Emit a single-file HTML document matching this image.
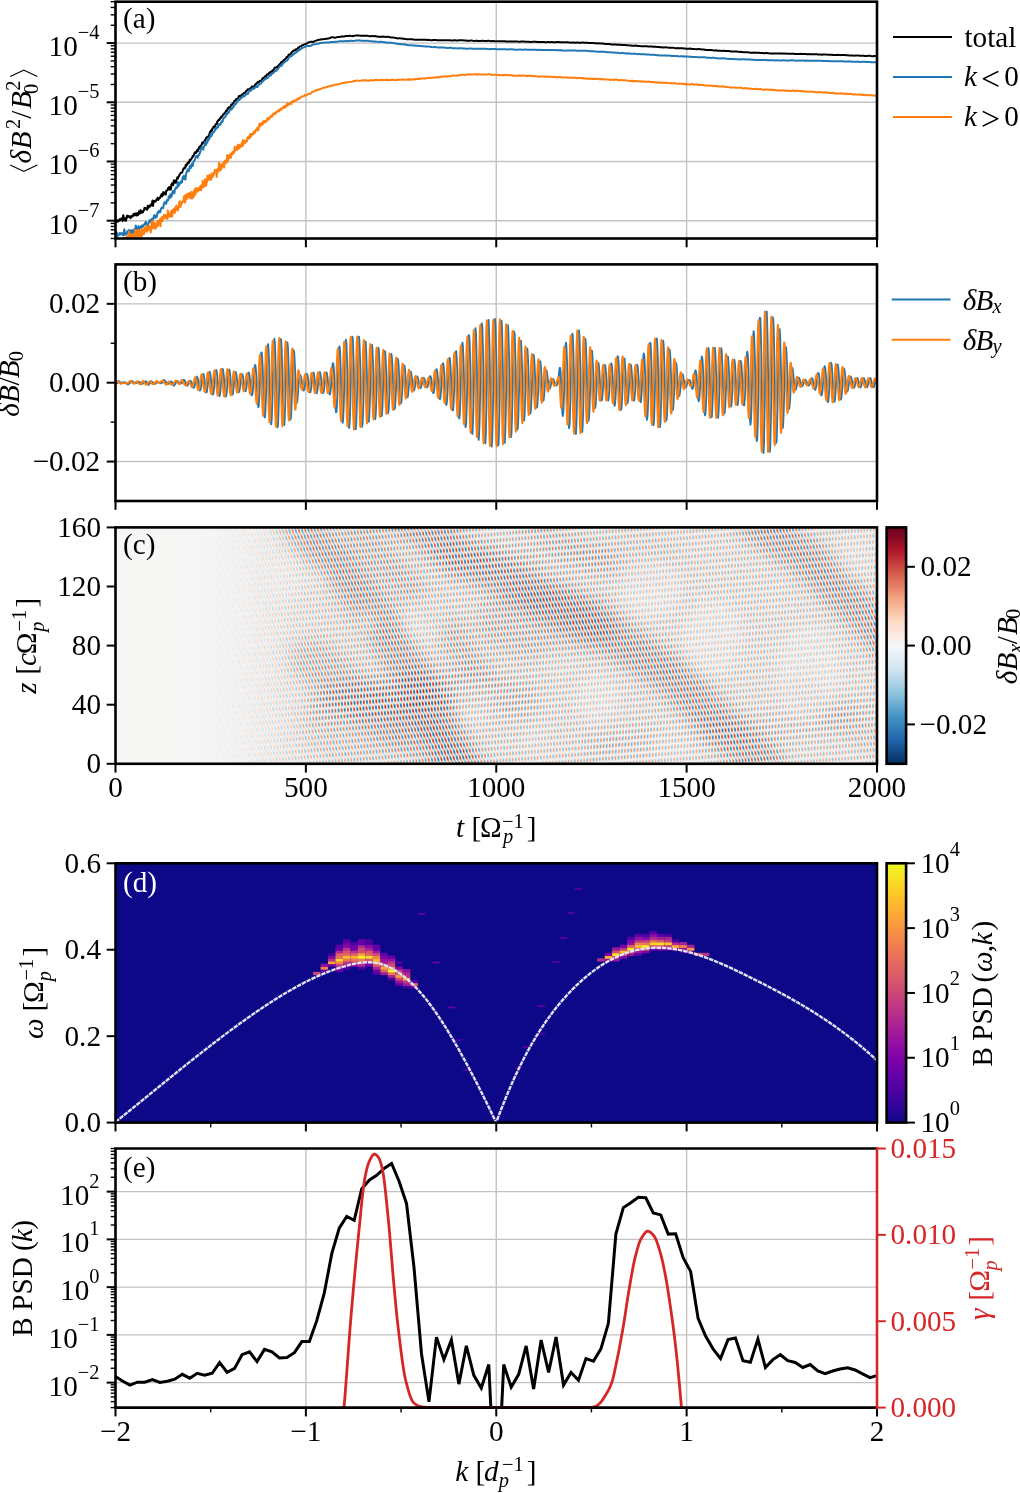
<!DOCTYPE html>
<html><head><meta charset="utf-8"><title>Figure</title>
<style>html,body{margin:0;padding:0;background:#fff;} svg{display:block;font-family:'Liberation Serif', 'DejaVu Serif', serif;}</style>
</head><body>
<svg width="1020" height="1493" viewBox="0 0 1020 1493">
<defs>
<clipPath id="clipA"><rect x="115.5" y="1.7" width="761.5" height="236.8"/></clipPath>
<clipPath id="clipB"><rect x="115.5" y="264.4" width="761.5" height="236.60000000000002"/></clipPath>
<clipPath id="clipE"><rect x="115.5" y="1148.5" width="761.5" height="259.0999999999999"/></clipPath>
</defs>
<defs><linearGradient id="wA" gradientUnits="userSpaceOnUse" x1="0" y1="0" x2="-5.3607" y2="2.4322" spreadMethod="repeat"><stop offset="0.0000" stop-color="rgb(255,0,0)"/><stop offset="0.0625" stop-color="rgb(245,0,0)"/><stop offset="0.1250" stop-color="rgb(218,0,0)"/><stop offset="0.1875" stop-color="rgb(176,0,0)"/><stop offset="0.2500" stop-color="rgb(128,0,0)"/><stop offset="0.3125" stop-color="rgb(79,0,0)"/><stop offset="0.3750" stop-color="rgb(37,0,0)"/><stop offset="0.4375" stop-color="rgb(10,0,0)"/><stop offset="0.5000" stop-color="rgb(0,0,0)"/><stop offset="0.5625" stop-color="rgb(10,0,0)"/><stop offset="0.6250" stop-color="rgb(37,0,0)"/><stop offset="0.6875" stop-color="rgb(79,0,0)"/><stop offset="0.7500" stop-color="rgb(127,0,0)"/><stop offset="0.8125" stop-color="rgb(176,0,0)"/><stop offset="0.8750" stop-color="rgb(218,0,0)"/><stop offset="0.9375" stop-color="rgb(245,0,0)"/><stop offset="1.0000" stop-color="rgb(255,0,0)"/></linearGradient>
<linearGradient id="wB" gradientUnits="userSpaceOnUse" x1="0" y1="0" x2="-4.6710" y2="-2.4711" spreadMethod="repeat"><stop offset="0.0000" stop-color="rgb(0,255,0)"/><stop offset="0.0625" stop-color="rgb(0,245,0)"/><stop offset="0.1250" stop-color="rgb(0,218,0)"/><stop offset="0.1875" stop-color="rgb(0,176,0)"/><stop offset="0.2500" stop-color="rgb(0,128,0)"/><stop offset="0.3125" stop-color="rgb(0,79,0)"/><stop offset="0.3750" stop-color="rgb(0,37,0)"/><stop offset="0.4375" stop-color="rgb(0,10,0)"/><stop offset="0.5000" stop-color="rgb(0,0,0)"/><stop offset="0.5625" stop-color="rgb(0,10,0)"/><stop offset="0.6250" stop-color="rgb(0,37,0)"/><stop offset="0.6875" stop-color="rgb(0,79,0)"/><stop offset="0.7500" stop-color="rgb(0,127,0)"/><stop offset="0.8125" stop-color="rgb(0,176,0)"/><stop offset="0.8750" stop-color="rgb(0,218,0)"/><stop offset="0.9375" stop-color="rgb(0,245,0)"/><stop offset="1.0000" stop-color="rgb(0,255,0)"/></linearGradient>
<linearGradient id="rA" gradientUnits="userSpaceOnUse" x1="115.5" y1="0" x2="877.0" y2="0"><stop offset="0.0000" stop-color="rgb(0,0,0)"/><stop offset="0.0978" stop-color="rgb(0,0,0)"/><stop offset="0.1241" stop-color="rgb(6,6,6)"/><stop offset="0.1569" stop-color="rgb(18,18,18)"/><stop offset="0.1898" stop-color="rgb(36,36,36)"/><stop offset="0.2292" stop-color="rgb(56,56,56)"/><stop offset="0.2685" stop-color="rgb(66,66,66)"/><stop offset="0.3211" stop-color="rgb(66,66,66)"/><stop offset="1.0000" stop-color="rgb(59,59,59)"/></linearGradient>
<linearGradient id="rB" gradientUnits="userSpaceOnUse" x1="115.5" y1="0" x2="877.0" y2="0"><stop offset="0.0000" stop-color="rgb(0,0,0)"/><stop offset="0.1372" stop-color="rgb(0,0,0)"/><stop offset="0.1898" stop-color="rgb(10,10,10)"/><stop offset="0.2423" stop-color="rgb(26,26,26)"/><stop offset="0.3211" stop-color="rgb(38,38,38)"/><stop offset="0.5049" stop-color="rgb(43,43,43)"/><stop offset="1.0000" stop-color="rgb(38,38,38)"/></linearGradient>
<filter id="blurH" x="-0.5" y="-0.5" width="2" height="2" color-interpolation-filters="sRGB"><feGaussianBlur stdDeviation="6"/></filter>
<filter id="blurM" x="-0.1" y="-0.3" width="1.2" height="1.6" color-interpolation-filters="sRGB"><feGaussianBlur stdDeviation="8"/></filter>
<mask id="mA" maskUnits="userSpaceOnUse" x="115.5" y="527.4" width="761.5" height="236.39999999999998">
<g filter="url(#blurM)">
<rect x="95.5" y="507.4" width="801.5" height="276.4" fill="url(#rA)"/>
<ellipse cx="545" cy="622" rx="70" ry="38" fill="#fff" fill-opacity="0.16"/>
<ellipse cx="420" cy="705" rx="40" ry="40" fill="#fff" fill-opacity="0.08"/>
<ellipse cx="640" cy="560" rx="40" ry="25" fill="#fff" fill-opacity="0.08"/>
<ellipse cx="360" cy="722" rx="60" ry="40" fill="#fff" fill-opacity="0.1"/>
<path d="M296,518 L305.6,532.4 L342.6,569.4 L373.5,612.6 L404.4,662 L429.1,705.3 L453.8,754.7 L460,772" fill="none" stroke="#fff" stroke-opacity="0.3" stroke-width="40" stroke-linecap="round" stroke-linejoin="round"/>
<path d="M400,515 L423,526 L460,557 L503,576 L546.5,600.3 L595.9,625 L633,649.7 L670,674.4 L700.9,705.3 L738,742.4 L762.7,760.9 L770,772" fill="none" stroke="#fff" stroke-opacity="0.32" stroke-width="40" stroke-linecap="round" stroke-linejoin="round"/>
<path d="M750,515 L762.7,526.2 L805.9,557 L843,594 L873.8,625 L885,640" fill="none" stroke="#fff" stroke-opacity="0.32" stroke-width="40" stroke-linecap="round" stroke-linejoin="round"/>
<path d="M310,660 L330.3,674.4 L392,723.8 L453.8,760.9 L470,772" fill="none" stroke="#fff" stroke-opacity="0.2" stroke-width="44" stroke-linecap="round" stroke-linejoin="round"/>
<path d="M345,515 L385,560 L420,600 L455,640 L480,680" fill="none" stroke="#fff" stroke-opacity="0.2" stroke-width="28" stroke-linecap="round" stroke-linejoin="round"/>
<path d="M520,518 L560,540 L600,560" fill="none" stroke="#fff" stroke-opacity="0.15" stroke-width="26" stroke-linecap="round" stroke-linejoin="round"/>
<path d="M800,690 L840,720 L880,745" fill="none" stroke="#fff" stroke-opacity="0.12" stroke-width="30" stroke-linecap="round" stroke-linejoin="round"/>
</g><g filter="url(#blurH)">
<ellipse cx="286" cy="578" rx="18" ry="22" fill="#000" fill-opacity="0.22"/>
<ellipse cx="426" cy="619" rx="22" ry="25" fill="#000" fill-opacity="0.3"/>
<ellipse cx="475" cy="699" rx="20" ry="24" fill="#000" fill-opacity="0.25"/>
<ellipse cx="651" cy="588" rx="30" ry="30" fill="#000" fill-opacity="0.3"/>
<ellipse cx="598" cy="699" rx="22" ry="24" fill="#000" fill-opacity="0.28"/>
<ellipse cx="713" cy="637" rx="30" ry="36" fill="#000" fill-opacity="0.3"/>
<ellipse cx="809" cy="674" rx="32" ry="48" fill="#000" fill-opacity="0.3"/>
<ellipse cx="673" cy="742" rx="22" ry="18" fill="#000" fill-opacity="0.25"/>
<ellipse cx="535" cy="740" rx="14" ry="16" fill="#000" fill-opacity="0.15"/>
<ellipse cx="317" cy="578" rx="10" ry="9" fill="#000" fill-opacity="0.25"/>
<ellipse cx="366" cy="622" rx="10" ry="14" fill="#000" fill-opacity="0.28"/>
<ellipse cx="560" cy="660" rx="20" ry="14" fill="#000" fill-opacity="0.15"/>
<ellipse cx="855" cy="560" rx="18" ry="20" fill="#000" fill-opacity="0.15"/>
</g></mask>
<mask id="mB" maskUnits="userSpaceOnUse" x="115.5" y="527.4" width="761.5" height="236.39999999999998">
<g filter="url(#blurM)">
<rect x="95.5" y="507.4" width="801.5" height="276.4" fill="url(#rB)"/>
<path d="M330,705 L400,695 L470,690 L520,700" fill="none" stroke="#fff" stroke-opacity="0.15" stroke-width="40" stroke-linecap="round" stroke-linejoin="round"/>
<path d="M600,745 L700,735 L800,725 L880,705" fill="none" stroke="#fff" stroke-opacity="0.1" stroke-width="30" stroke-linecap="round" stroke-linejoin="round"/>
<path d="M440,560 L520,560 L600,560" fill="none" stroke="#fff" stroke-opacity="0.08" stroke-width="30" stroke-linecap="round" stroke-linejoin="round"/>
</g><g filter="url(#blurH)">
<ellipse cx="286" cy="578" rx="18" ry="22" fill="#000" fill-opacity="0.11"/>
<ellipse cx="426" cy="619" rx="22" ry="25" fill="#000" fill-opacity="0.15"/>
<ellipse cx="475" cy="699" rx="20" ry="24" fill="#000" fill-opacity="0.125"/>
<ellipse cx="651" cy="588" rx="30" ry="30" fill="#000" fill-opacity="0.15"/>
<ellipse cx="598" cy="699" rx="22" ry="24" fill="#000" fill-opacity="0.14"/>
<ellipse cx="713" cy="637" rx="30" ry="36" fill="#000" fill-opacity="0.15"/>
<ellipse cx="809" cy="674" rx="32" ry="48" fill="#000" fill-opacity="0.15"/>
<ellipse cx="673" cy="742" rx="22" ry="18" fill="#000" fill-opacity="0.125"/>
<ellipse cx="535" cy="740" rx="14" ry="16" fill="#000" fill-opacity="0.075"/>
<ellipse cx="317" cy="578" rx="10" ry="9" fill="#000" fill-opacity="0.125"/>
<ellipse cx="366" cy="622" rx="10" ry="14" fill="#000" fill-opacity="0.14"/>
<ellipse cx="560" cy="660" rx="20" ry="14" fill="#000" fill-opacity="0.075"/>
<ellipse cx="855" cy="560" rx="18" ry="20" fill="#000" fill-opacity="0.075"/>
</g></mask>
<filter id="cmap" color-interpolation-filters="sRGB" filterUnits="userSpaceOnUse" x="115.5" y="527.4" width="761.5" height="236.39999999999998">
<feColorMatrix type="matrix" values="1 1 0 0 -0.506  1 1 0 0 -0.506  1 1 0 0 -0.506  0 0 0 0 1"/>
<feComponentTransfer><feFuncR type="table" tableValues="0.0196 0.0713 0.1273 0.1948 0.2627 0.4207 0.5665 0.6937 0.8196 0.8956 0.9691 0.9802 0.9922 0.9742 0.9546 0.8946 0.8392 0.7672 0.6923 0.5423 0.4039"/><feFuncG type="table" tableValues="0.1882 0.2879 0.3958 0.4865 0.5765 0.6764 0.7687 0.8341 0.8980 0.9340 0.9665 0.9148 0.8588 0.7509 0.6418 0.5038 0.3765 0.2325 0.0923 0.0443 0.0000"/><feFuncB type="table" tableValues="0.3804 0.5188 0.6687 0.7187 0.7647 0.8187 0.8685 0.9052 0.9412 0.9552 0.9649 0.8764 0.7804 0.6424 0.5057 0.3998 0.3020 0.2340 0.1677 0.1437 0.1216"/></feComponentTransfer>
</filter>
<linearGradient id="cbar" x1="0" y1="1" x2="0" y2="0"><stop offset="0.000" stop-color="rgb(5,48,97)"/><stop offset="0.050" stop-color="rgb(18,73,132)"/><stop offset="0.100" stop-color="rgb(32,101,171)"/><stop offset="0.150" stop-color="rgb(50,124,183)"/><stop offset="0.200" stop-color="rgb(67,147,195)"/><stop offset="0.250" stop-color="rgb(107,172,209)"/><stop offset="0.300" stop-color="rgb(144,196,221)"/><stop offset="0.350" stop-color="rgb(177,213,231)"/><stop offset="0.400" stop-color="rgb(209,229,240)"/><stop offset="0.450" stop-color="rgb(228,238,244)"/><stop offset="0.500" stop-color="rgb(247,246,246)"/><stop offset="0.550" stop-color="rgb(250,233,223)"/><stop offset="0.600" stop-color="rgb(253,219,199)"/><stop offset="0.650" stop-color="rgb(248,191,164)"/><stop offset="0.700" stop-color="rgb(243,164,129)"/><stop offset="0.750" stop-color="rgb(228,128,102)"/><stop offset="0.800" stop-color="rgb(214,96,77)"/><stop offset="0.850" stop-color="rgb(196,59,60)"/><stop offset="0.900" stop-color="rgb(177,24,43)"/><stop offset="0.950" stop-color="rgb(138,11,37)"/><stop offset="1.000" stop-color="rgb(103,0,31)"/></linearGradient></defs>
<line x1="115.5" y1="220.68" x2="877" y2="220.68" stroke="#c2c2c2" stroke-width="1.4"/>
<line x1="115.5" y1="161.48" x2="877" y2="161.48" stroke="#c2c2c2" stroke-width="1.4"/>
<line x1="115.5" y1="102.28" x2="877" y2="102.28" stroke="#c2c2c2" stroke-width="1.4"/>
<line x1="115.5" y1="43.08" x2="877" y2="43.08" stroke="#c2c2c2" stroke-width="1.4"/>
<line x1="305.88" y1="1.7" x2="305.88" y2="238.5" stroke="#c2c2c2" stroke-width="1.4"/>
<line x1="496.25" y1="1.7" x2="496.25" y2="238.5" stroke="#c2c2c2" stroke-width="1.4"/>
<line x1="686.62" y1="1.7" x2="686.62" y2="238.5" stroke="#c2c2c2" stroke-width="1.4"/>
<g clip-path="url(#clipA)" fill="none" stroke-width="2" stroke-linejoin="round">
<path d="M115.9,221.87 L116.2,222.26 L116.5,220.96 L116.8,220 L117.1,221.26 L117.4,221.36 L117.7,220.54 L118,221.06 L118.3,221.33 L118.6,220.9 L118.9,220.77 L119.2,220.4 L119.5,219.48 L119.8,219.14 L120.1,219.64 L120.4,220.29 L120.7,220 L121,218.94 L121.3,218.4 L121.6,218.79 L121.9,219.14 L122.2,219.78 L122.5,221.15 L122.8,219.51 L123.1,215.5 L123.4,215.21 L123.7,217.39 L124,218.35 L124.3,218.85 L124.6,220.2 L124.9,220.43 L125.2,218.17 L125.5,218.45 L125.8,220.72 L126.1,220.42 L126.4,218.89 L126.7,216.82 L127,215.8 L127.3,217.09 L127.6,217.19 L127.9,215.86 L128.2,215.96 L128.5,216.37 L128.8,216.11 L129.1,216.58 L129.4,217.14 L129.7,216.77 L130,216.65 L130.3,217.65 L130.6,218.18 L130.9,216.96 L131.2,216.12 L131.5,216.43 L131.8,216.59 L132.1,216.24 L132.4,215.83 L132.7,216.34 L133,215.6 L133.3,214.11 L133.6,214.57 L133.9,215.52 L134.2,215.15 L134.5,213.68 L134.8,213.45 L135.1,214.36 L135.4,214.62 L135.7,215.21 L136,214.71 L136.3,213.25 L136.6,214.45 L136.9,215.62 L137.2,214.04 L137.5,213.35 L137.8,214.4 L138.1,214.94 L138.4,214.54 L138.7,212.73 L139,211.39 L139.3,211.95 L139.6,212.87 L139.9,213.56 L140.2,212.41 L140.5,210.13 L140.8,210.58 L141.1,212.85 L141.4,212.86 L141.7,211.44 L142,211.48 L142.3,212.15 L142.6,212.45 L142.9,212.36 L143.2,211.5 L143.5,210.46 L143.8,210.6 L144.1,209.92 L144.4,207.93 L144.7,208.32 L145,208.65 L145.3,207.88 L145.6,208.25 L145.9,208.74 L146.2,209.1 L146.5,209.06 L146.8,209.47 L147.1,209.82 L147.4,208.28 L147.7,205.84 L148,206.02 L148.3,208.02 L148.6,207.22 L148.9,205.78 L149.2,205.97 L149.5,206.41 L149.8,206.7 L150.1,206.14 L150.4,205.04 L150.7,204.65 L151,204.5 L151.3,204.2 L151.6,205.49 L151.9,205.46 L152.2,201.83 L152.5,200.58 L152.8,204.28 L153.1,205.91 L153.4,202.7 L153.7,201.25 L154,202.11 L154.3,201.49 L154.6,200.92 L154.9,201.52 L155.2,201.81 L155.5,201.39 L155.8,201.13 L156.1,200.39 L156.4,199.45 L156.7,199.06 L157,198.93 L157.3,198.76 L157.6,197.8 L157.9,198.36 L158.2,200.07 L158.5,199.55 L158.8,198.77 L159.1,198.61 L159.4,197.74 L159.7,197.52 L160,197.99 L160.3,197.13 L160.6,196.28 L160.9,196.61 L161.2,195.61 L161.5,194.13 L161.8,194.04 L162.1,195.49 L162.4,196.14 L162.7,194.62 L163,193.01 L163.3,192.1 L163.6,193.37 L163.9,194.59 L164.2,193.33 L164.5,192.45 L164.8,193.12 L165.1,193.76 L165.4,194.38 L165.7,194.51 L166,192.56 L166.3,190.68 L166.6,190.46 L166.9,190.55 L167.2,190.38 L167.5,190.12 L167.8,188.95 L168.1,188.1 L168.4,188.72 L168.7,187.9 L169,187.15 L169.3,188.82 L169.6,189.75 L169.9,188.72 L170.2,186.99 L170.5,187.35 L170.8,189.44 L171.1,187.92 L171.4,184.52 L171.7,183.94 L172,183.84 L172.3,183.12 L172.6,183.4 L172.9,184.21 L173.2,185.18 L173.5,183.47 L173.8,180.51 L174.1,180.24 L174.4,181.04 L174.7,182.21 L175,182.5 L175.3,181.17 L175.6,180.82 L175.9,182.79 L176.2,182.52 L176.5,179.71 L176.8,178.66 L177.1,178.28 L177.4,177.38 L177.7,177.69 L178,178.47 L178.3,177.09 L178.6,176.33 L178.9,176.54 L179.2,175.57 L179.5,174.82 L179.8,174.52 L180.1,173.85 L180.4,172.96 L180.7,172.9 L181,173.05 L181.3,172.83 L181.6,172.57 L181.9,172.53 L182.2,172.45 L182.5,171.55 L182.8,170.48 L183.1,169.68 L183.4,168.74 L183.7,168.54 L184,168.71 L184.3,167.7 L184.6,167.39 L184.9,168.3 L185.2,168.06 L185.5,166.03 L185.8,164.8 L186.1,165.92 L186.4,165.71 L186.7,164.62 L187,164.8 L187.3,163.79 L187.6,162.83 L187.9,163.26 L188.2,163.35 L188.5,162.29 L188.8,161.96 L189.1,162.8 L189.4,161.26 L189.7,159.82 L190,160.55 L190.3,160.56 L190.6,160.01 L190.9,159.42 L191.2,159.1 L191.5,158.63 L191.8,158.1 L192.1,158.01 L192.4,157.01 L192.7,156.13 L193,156.57 L193.3,156.62 L193.6,155.47 L193.9,154.85 L194.2,154.41 L194.5,152.85 L194.8,152.51 L195.1,152.76 L195.4,152.19 L195.7,152.36 L196,152.9 L196.3,152.49 L196.6,151.03 L196.9,150.5 L197.2,149.83 L197.5,149.83 L197.8,151.36 L198.1,150.06 L198.4,148.67 L198.7,149.21 L199,147.97 L199.3,146.73 L199.6,147.71 L199.9,147.95 L200.2,146.61 L200.5,146.12 L200.8,145.84 L201.1,145.15 L201.4,145.17 L201.7,144.76 L202,143.25 L202.3,142.38 L202.6,142.37 L202.9,142.66 L203.2,143.15 L203.5,143.06 L203.8,142.55 L204.1,141.93 L204.4,140.95 L204.7,140.34 L205,141.08 L205.3,141.28 L205.6,139.57 L205.9,138.29 L206.2,137.98 L206.5,137.4 L206.8,137.02 L207.1,136.99 L207.4,137.22 L207.7,137.39 L208,136.66 L208.3,136.17 L208.6,135.86 L208.9,135.38 L209.2,135 L209.5,133.62 L209.8,132.47 L210.1,132.38 L210.4,131.82 L210.7,131.04 L211,130.53 L211.3,130.5 L211.6,131.12 L211.9,130.51 L212.2,129.07 L212.5,128.43 L212.8,128.31 L213.1,127.87 L213.4,126.97 L213.7,126.58 L214,126.56 L214.3,126.63 L214.6,127.12 L214.9,126.92 L215.2,125.95 L215.5,124.84 L215.8,124.01 L216.1,124.06 L216.4,124 L216.7,124.05 L217,123.25 L217.3,121.52 L217.6,121.05 L217.9,121.12 L218.2,120.74 L218.5,119.93 L218.8,119.66 L219.1,120.08 L219.4,119.98 L219.7,119.12 L220,118.12 L220.3,118.05 L220.6,118.34 L220.9,117.35 L221.2,116.46 L221.5,116.95 L221.8,117.19 L222.1,116.59 L222.4,115.98 L222.7,115.38 L223,114.72 L223.3,114.43 L223.6,114.25 L223.9,114.32 L224.2,113.97 L224.5,112.91 L224.8,112.46 L225.1,112.64 L225.4,112.79 L225.7,111.95 L226,110.87 L226.3,110.96 L226.6,111.56 L226.9,110.99 L227.2,109.3 L227.5,109.03 L227.8,109.25 L228.1,108.03 L228.4,107.51 L228.7,108.2 L229,108.11 L229.3,107.34 L229.6,107.07 L229.9,107.16 L230.2,107.02 L230.5,106.52 L230.8,105.83 L231.1,104.99 L231.4,104.56 L231.7,104.75 L232,104.9 L232.3,104.28 L232.6,103.52 L232.9,103.58 L233.2,103.43 L233.5,102.68 L233.8,102.09 L234.1,101.42 L234.4,100.85 L234.7,101.09 L235,100.99 L235.3,100.55 L235.6,100.25 L235.9,99.53 L236.2,99.14 L236.5,99.64 L236.8,99.68 L237.1,98.79 L237.4,98.76 L237.7,99.02 L238,98.75 L238.3,98.2 L238.6,96.82 L238.9,96.16 L239.2,96.54 L239.5,96.27 L239.8,95.76 L240.1,95.81 L240.4,96.32 L240.7,96.12 L241,95.48 L241.3,95.42 L241.6,95.12 L241.9,94.62 L242.2,94.35 L242.5,94.21 L242.8,94.2 L243.1,93.86 L243.4,93.55 L243.7,93.41 L244,92.96 L244.3,92.79 L244.6,93.03 L244.9,92.86 L245.2,92.48 L245.5,92.45 L245.8,91.95 L246.1,91.13 L246.4,90.89 L246.7,90.98 L247,90.55 L247.3,89.72 L247.6,89.37 L247.9,89.36 L248.2,89.57 L248.5,90.12 L248.8,90.28 L249.1,89.8 L249.4,89.1 L249.7,88.55 L250,88.54 L250.3,89.01 L250.6,89.22 L250.9,88.51 L251.2,87.62 L251.5,87.19 L251.8,86.76 L252.1,86.44 L252.4,86.48 L252.7,86.86 L253,87.01 L253.3,86.66 L253.6,86.68 L253.9,86.54 L254.2,86.04 L254.5,85.9 L254.8,85.41 L255.1,84.7 L255.4,84.47 L255.7,84.23 L256,83.87 L256.3,83.67 L256.6,83.63 L256.9,83.32 L257.2,82.81 L257.5,82.37 L257.8,82.07 L258.1,82.29 L258.4,82.43 L258.7,82.11 L259,81.89 L259.3,81.55 L259.6,80.97 L259.9,80.8 L260.2,81 L260.5,80.96 L260.8,80.98 L261.1,80.93 L261.4,80.31 L261.7,80.03 L262,79.83 L262.3,79 L262.6,78.2 L262.9,77.95 L263.2,78.29 L263.5,78.47 L263.8,78.08 L264.1,77.55 L264.4,77.26 L264.7,76.78 L265,76.17 L265.3,76.25 L265.6,76.1 L265.9,75.95 L266.2,76.07 L266.5,75.26 L266.8,74.49 L267.1,74.65 L267.4,74.83 L267.7,74.56 L268,74.48 L268.3,74.41 L268.6,73.78 L268.9,73.07 L269.2,73.17 L269.5,73.3 L269.8,72.53 L270.1,72.05 L270.4,72.26 L270.7,72.34 L271,72.14 L271.3,71.66 L271.6,71.23 L271.9,71.27 L272.2,70.87 L272.5,70.37 L272.8,70.88 L273.1,70.88 L273.4,69.9 L273.7,69.64 L274,69.48 L274.3,68.45 L274.6,67.7 L274.9,67.7 L275.2,67.77 L275.5,67.8 L275.8,67.85 L276.1,67.43 L276.4,66.94 L276.7,67.19 L277,67.48 L277.3,67.18 L277.6,66.6 L277.9,66.15 L278.2,65.72 L278.5,65.27 L278.8,65.08 L279.1,64.98 L279.4,64.83 L279.7,64.31 L280,63.65 L280.3,63.65 L280.6,63.51 L280.9,62.79 L281.2,62.3 L281.5,61.93 L281.8,61.75 L282.1,62.09 L282.4,62.16 L282.7,61.69 L283,61.13 L283.3,60.72 L283.6,60.33 L283.9,60.03 L284.2,60.06 L284.5,60.01 L284.8,59.51 L285.1,58.89 L285.4,58.53 L285.7,58.51 L286,58.49 L286.3,57.76 L286.6,57.02 L286.9,57.25 L287.2,57.48 L287.5,57.1 L287.8,56.61 L288.1,55.88 L288.4,55.01 L288.7,54.59 L289,54.62 L289.3,54.75 L289.6,54.77 L289.9,54.52 L290.2,54.21 L290.5,53.98 L290.8,53.52 L291.1,53.2 L291.4,53.06 L291.7,52.35 L292,51.66 L292.3,51.74 L292.6,51.59 L292.9,51.07 L293.2,51.1 L293.5,51.07 L293.8,50.59 L294.1,50.34 L294.4,50.34 L294.7,50.42 L295,50.5 L295.3,50.06 L295.6,49.38 L295.9,49.28 L296.2,49.62 L296.5,49.66 L296.8,49.23 L297.1,49 L297.4,48.9 L297.7,48.42 L298,47.82 L298.3,47.44 L298.6,47.59 L298.9,47.66 L299.2,47.13 L299.5,46.7 L299.8,46.51 L300,46.63 L301,46.18 L302,45.51 L303,45.03 L304,44.58 L305,44.19 L306,43.92 L307,43.4 L308,42.71 L309,42.2 L310,41.95 L311,41.81 L312,41.8 L313,41.95 L314,41.61 L315,40.89 L316,40.63 L317,40.44 L318,39.89 L319,39.75 L320,39.77 L321,39.42 L322,39.16 L323,39.14 L324,39.11 L325,38.97 L326,38.83 L327,38.69 L328,38.55 L329,38.39 L330,37.97 L331,37.54 L332,37.32 L333,37.29 L334,37.49 L335,37.65 L336,37.47 L337,37.13 L338,36.94 L339,36.9 L340,36.85 L341,36.67 L342,36.51 L343,36.6 L344,36.56 L345,36.23 L346,36.05 L347,35.99 L348,36.02 L349,35.87 L350,35.68 L351,35.94 L352,36.14 L353,36.02 L354,35.9 L355,35.61 L356,35.39 L357,35.51 L358,35.48 L359,35.43 L360,35.63 L361,35.67 L362,35.64 L363,35.68 L364,35.68 L365,35.7 L366,35.73 L367,35.76 L368,35.86 L369,36.05 L370,36.19 L371,36.18 L372,36.06 L373,36.12 L374,36.15 L375,35.98 L376,36.16 L377,36.52 L378,36.67 L379,36.69 L380,36.69 L381,36.72 L382,36.66 L383,36.57 L384,36.64 L385,36.81 L386,36.94 L387,36.87 L388,36.75 L389,36.92 L390,37.26 L391,37.46 L392,37.5 L393,37.47 L394,37.62 L395,37.91 L396,38.04 L397,38.24 L398,38.39 L399,38.35 L400,38.35 L401,38.42 L402,38.5 L403,38.65 L404,38.8 L405,38.95 L406,39.13 L407,39.21 L408,39.21 L409,39.24 L410,39.22 L411,39.22 L412,39.3 L413,39.42 L414,39.62 L415,39.76 L416,39.78 L417,39.74 L418,39.71 L419,39.66 L420,39.67 L421,39.8 L422,39.83 L423,39.8 L424,39.81 L425,39.78 L426,39.82 L427,39.88 L428,39.87 L429,39.93 L430,40.08 L431,40.18 L432,40.19 L433,40.09 L434,39.99 L435,39.99 L436,40.04 L437,40.19 L438,40.3 L439,40.24 L440,40.15 L441,40.17 L442,40.18 L443,40.15 L444,40.23 L445,40.28 L446,40.24 L447,40.26 L448,40.29 L449,40.25 L450,40.29 L451,40.41 L452,40.5 L453,40.51 L454,40.33 L455,40.28 L456,40.49 L457,40.55 L458,40.4 L459,40.34 L460,40.37 L461,40.37 L462,40.36 L463,40.36 L464,40.39 L465,40.41 L466,40.58 L467,40.74 L468,40.73 L469,40.7 L470,40.64 L471,40.56 L472,40.62 L473,40.78 L474,40.88 L475,40.88 L476,40.78 L477,40.77 L478,40.91 L479,41.07 L480,41.08 L481,40.89 L482,40.75 L483,40.82 L484,41.01 L485,41.02 L486,40.96 L487,40.9 L488,40.78 L489,40.87 L490,41.12 L491,41.19 L492,41.12 L493,41.11 L494,41.26 L495,41.32 L496,41.19 L497,41.17 L498,41.23 L499,41.28 L500,41.3 L501,41.26 L502,41.25 L503,41.28 L504,41.31 L505,41.34 L506,41.41 L507,41.44 L508,41.4 L509,41.44 L510,41.53 L511,41.5 L512,41.5 L513,41.58 L514,41.59 L515,41.57 L516,41.53 L517,41.5 L518,41.63 L519,41.75 L520,41.65 L521,41.54 L522,41.57 L523,41.59 L524,41.62 L525,41.64 L526,41.66 L527,41.77 L528,41.81 L529,41.83 L530,41.89 L531,41.95 L532,41.87 L533,41.73 L534,41.67 L535,41.63 L536,41.74 L537,41.93 L538,42.02 L539,42.01 L540,41.93 L541,41.92 L542,41.99 L543,42.11 L544,42.12 L545,42.16 L546,42.27 L547,42.13 L548,42 L549,42.09 L550,42.15 L551,42.1 L552,42.1 L553,42.18 L554,42.23 L555,42.31 L556,42.26 L557,42.07 L558,42 L559,42.08 L560,42.19 L561,42.25 L562,42.24 L563,42.23 L564,42.34 L565,42.38 L566,42.26 L567,42.28 L568,42.37 L569,42.38 L570,42.46 L571,42.62 L572,42.66 L573,42.56 L574,42.56 L575,42.69 L576,42.64 L577,42.52 L578,42.52 L579,42.65 L580,42.81 L581,42.78 L582,42.62 L583,42.58 L584,42.68 L585,42.68 L586,42.7 L587,42.81 L588,42.87 L589,42.99 L590,43.01 L591,42.89 L592,42.9 L593,42.96 L594,43.12 L595,43.22 L596,43.26 L597,43.39 L598,43.37 L599,43.32 L600,43.47 L601,43.57 L602,43.55 L603,43.58 L604,43.7 L605,43.88 L606,43.94 L607,43.98 L608,44.05 L609,44.03 L610,44.17 L611,44.38 L612,44.44 L613,44.5 L614,44.5 L615,44.47 L616,44.55 L617,44.65 L618,44.67 L619,44.68 L620,44.71 L621,44.78 L622,44.95 L623,45.12 L624,45.11 L625,45.08 L626,45.22 L627,45.25 L628,45.23 L629,45.38 L630,45.55 L631,45.62 L632,45.69 L633,45.77 L634,45.79 L635,45.69 L636,45.59 L637,45.72 L638,45.89 L639,45.97 L640,46.09 L641,46.17 L642,46.25 L643,46.31 L644,46.28 L645,46.32 L646,46.33 L647,46.36 L648,46.46 L649,46.54 L650,46.58 L651,46.58 L652,46.61 L653,46.67 L654,46.73 L655,46.77 L656,46.83 L657,46.93 L658,46.91 L659,46.99 L660,47.21 L661,47.33 L662,47.35 L663,47.45 L664,47.51 L665,47.37 L666,47.31 L667,47.45 L668,47.62 L669,47.74 L670,47.83 L671,47.86 L672,47.78 L673,47.73 L674,47.88 L675,48.14 L676,48.21 L677,48.14 L678,48.11 L679,48.14 L680,48.19 L681,48.15 L682,48.13 L683,48.28 L684,48.43 L685,48.53 L686,48.63 L687,48.7 L688,48.74 L689,48.69 L690,48.57 L691,48.72 L692,48.95 L693,48.92 L694,48.98 L695,49.09 L696,49.13 L697,49.17 L698,49.1 L699,49.05 L700,49.13 L701,49.26 L702,49.43 L703,49.56 L704,49.61 L705,49.73 L706,49.92 L707,49.92 L708,49.9 L709,49.98 L710,49.99 L711,50.02 L712,50.16 L713,50.31 L714,50.4 L715,50.42 L716,50.36 L717,50.46 L718,50.65 L719,50.68 L720,50.72 L721,50.86 L722,50.88 L723,50.78 L724,50.8 L725,50.91 L726,50.9 L727,50.89 L728,50.94 L729,51 L730,51.22 L731,51.44 L732,51.44 L733,51.45 L734,51.54 L735,51.52 L736,51.49 L737,51.56 L738,51.68 L739,51.86 L740,51.89 L741,51.8 L742,51.92 L743,52.13 L744,52.2 L745,52.17 L746,52.18 L747,52.25 L748,52.27 L749,52.41 L750,52.65 L751,52.74 L752,52.71 L753,52.67 L754,52.62 L755,52.69 L756,52.83 L757,52.84 L758,52.77 L759,52.77 L760,52.91 L761,53 L762,52.95 L763,53.04 L764,53.21 L765,53.2 L766,53.11 L767,53.08 L768,53.13 L769,53.29 L770,53.39 L771,53.42 L772,53.45 L773,53.38 L774,53.4 L775,53.5 L776,53.46 L777,53.42 L778,53.5 L779,53.51 L780,53.44 L781,53.49 L782,53.57 L783,53.62 L784,53.66 L785,53.62 L786,53.62 L787,53.7 L788,53.75 L789,53.79 L790,53.81 L791,53.79 L792,53.79 L793,53.75 L794,53.76 L795,53.91 L796,54.04 L797,53.98 L798,53.92 L799,53.96 L800,53.9 L801,53.87 L802,53.95 L803,54.03 L804,54.05 L805,54.03 L806,54.08 L807,54.15 L808,54.14 L809,54.1 L810,54.13 L811,54.23 L812,54.28 L813,54.27 L814,54.26 L815,54.24 L816,54.25 L817,54.36 L818,54.46 L819,54.5 L820,54.54 L821,54.6 L822,54.64 L823,54.53 L824,54.46 L825,54.58 L826,54.62 L827,54.62 L828,54.74 L829,54.82 L830,54.82 L831,54.81 L832,54.86 L833,54.98 L834,55.04 L835,54.96 L836,54.96 L837,54.97 L838,54.85 L839,54.96 L840,55.14 L841,55.1 L842,55.1 L843,55.11 L844,55.04 L845,55.02 L846,55.16 L847,55.28 L848,55.29 L849,55.38 L850,55.54 L851,55.59 L852,55.56 L853,55.62 L854,55.64 L855,55.5 L856,55.5 L857,55.62 L858,55.58 L859,55.62 L860,55.81 L861,55.83 L862,55.75 L863,55.75 L864,55.86 L865,56.05 L866,56.07 L867,55.91 L868,55.84 L869,55.79 L870,55.85 L871,56.04 L872,56.2 L873,56.17 L874,56.06 L875,56.07 L876,56.13" stroke="#000"/>
<path d="M115.9,234.61 L116.2,233.89 L116.5,232.31 L116.8,232.46 L117.1,235.98 L117.4,236.84 L117.7,235.27 L118,235.37 L118.3,234.88 L118.6,234.45 L118.9,234.98 L119.2,234.28 L119.5,233.14 L119.8,233.27 L120.1,234.12 L120.4,234.54 L120.7,234.23 L121,233.61 L121.3,233.12 L121.6,233.32 L121.9,234.35 L122.2,234.63 L122.5,234.39 L122.8,233.64 L123.1,232.99 L123.4,235.01 L123.7,235.34 L124,231.48 L124.3,229.19 L124.6,230.76 L124.9,233.25 L125.2,234.31 L125.5,234.74 L125.8,234.5 L126.1,233.62 L126.4,233.05 L126.7,233.09 L127,232.78 L127.3,231.34 L127.6,231.31 L127.9,233.41 L128.2,234.06 L128.5,231.62 L128.8,229.91 L129.1,231.19 L129.4,232.55 L129.7,232.88 L130,232.01 L130.3,230.81 L130.6,232.36 L130.9,232.48 L131.2,230.31 L131.5,231.26 L131.8,232.71 L132.1,232.43 L132.4,233.57 L132.7,234.4 L133,232.24 L133.3,229.9 L133.6,229.71 L133.9,230.49 L134.2,230.22 L134.5,229.65 L134.8,230.07 L135.1,229.87 L135.4,227.84 L135.7,225.58 L136,226.27 L136.3,229.28 L136.6,230.84 L136.9,230.84 L137.2,229.3 L137.5,228.1 L137.8,228.65 L138.1,227.86 L138.4,226.2 L138.7,227.38 L139,229.79 L139.3,229.58 L139.6,228.25 L139.9,227.06 L140.2,226.95 L140.5,227.85 L140.8,227.06 L141.1,225.91 L141.4,225.65 L141.7,225.6 L142,226.85 L142.3,227.3 L142.6,226.7 L142.9,226.82 L143.2,225.99 L143.5,224.96 L143.8,224.47 L144.1,224.6 L144.4,224.83 L144.7,224.08 L145,223.31 L145.3,222.91 L145.6,222.12 L145.9,221.74 L146.2,223.06 L146.5,224.73 L146.8,225.38 L147.1,226.25 L147.4,226.77 L147.7,224.64 L148,223.62 L148.3,223.98 L148.6,222.88 L148.9,222.18 L149.2,221.65 L149.5,220.46 L149.8,219.95 L150.1,221.11 L150.4,220.83 L150.7,220.56 L151,222.42 L151.3,222.22 L151.6,220.09 L151.9,218.87 L152.2,218.89 L152.5,219.41 L152.8,220.14 L153.1,219.6 L153.4,217.68 L153.7,216.67 L154,215.98 L154.3,215.16 L154.6,215.56 L154.9,216.74 L155.2,218.01 L155.5,217.64 L155.8,215.98 L156.1,215.41 L156.4,216.19 L156.7,216.99 L157,215.96 L157.3,214.17 L157.6,212.54 L157.9,212.09 L158.2,212.66 L158.5,212.66 L158.8,211.71 L159.1,210.85 L159.4,211.06 L159.7,211.7 L160,212.31 L160.3,211.92 L160.6,210.51 L160.9,209.08 L161.2,208.58 L161.5,207.93 L161.8,207.52 L162.1,207.74 L162.4,207.55 L162.7,207.89 L163,208.31 L163.3,207.61 L163.6,205.51 L163.9,203.47 L164.2,203.29 L164.5,202.76 L164.8,202.11 L165.1,203.31 L165.4,203.38 L165.7,203.04 L166,203.82 L166.3,203.49 L166.6,201.65 L166.9,200.28 L167.2,200.68 L167.5,200.33 L167.8,199.6 L168.1,200.39 L168.4,199.02 L168.7,196.62 L169,196.38 L169.3,196.96 L169.6,198.33 L169.9,197.81 L170.2,195.11 L170.5,194.41 L170.8,195.06 L171.1,195.84 L171.4,196.82 L171.7,195.92 L172,194.36 L172.3,192.83 L172.6,191.24 L172.9,192.35 L173.2,193.32 L173.5,191.71 L173.8,190.81 L174.1,192.36 L174.4,193.27 L174.7,190.87 L175,189.39 L175.3,189.25 L175.6,187.85 L175.9,187.63 L176.2,188.21 L176.5,187.88 L176.8,187.53 L177.1,188 L177.4,186.49 L177.7,183.01 L178,182.09 L178.3,184.37 L178.6,186.08 L178.9,185.21 L179.2,183.88 L179.5,183.64 L179.8,183.96 L180.1,183.64 L180.4,182.18 L180.7,181.51 L181,182.95 L181.3,182.46 L181.6,181.17 L181.9,182.42 L182.2,181.58 L182.5,178.13 L182.8,176.9 L183.1,178.5 L183.4,178.76 L183.7,176.35 L184,175.6 L184.3,176.79 L184.6,176.16 L184.9,176.75 L185.2,179.61 L185.5,179.56 L185.8,176.7 L186.1,174.72 L186.4,173.14 L186.7,171.45 L187,171.55 L187.3,171.18 L187.6,169.58 L187.9,169.67 L188.2,171.06 L188.5,171.3 L188.8,171.05 L189.1,170.46 L189.4,168.4 L189.7,166.38 L190,165.91 L190.3,167.22 L190.6,168.14 L190.9,167.7 L191.2,166.63 L191.5,165.07 L191.8,164.24 L192.1,163.57 L192.4,164.02 L192.7,165.9 L193,165.15 L193.3,162.54 L193.6,161.6 L193.9,161.13 L194.2,160.55 L194.5,160.38 L194.8,159.57 L195.1,158.82 L195.4,158.41 L195.7,157.72 L196,156.57 L196.3,155.74 L196.6,155.86 L196.9,156.13 L197.2,156.32 L197.5,157.06 L197.8,157.79 L198.1,156.82 L198.4,155.47 L198.7,154.75 L199,154.4 L199.3,154.83 L199.6,153.63 L199.9,151.95 L200.2,152.56 L200.5,151.5 L200.8,148.75 L201.1,148.58 L201.4,148.57 L201.7,147.3 L202,147.01 L202.3,147.68 L202.6,148.46 L202.9,149.47 L203.2,149.62 L203.5,148.18 L203.8,147.27 L204.1,146.62 L204.4,145.22 L204.7,143.28 L205,142.05 L205.3,142.91 L205.6,144.6 L205.9,145.07 L206.2,144.08 L206.5,142.55 L206.8,141.93 L207.1,142.82 L207.4,142.42 L207.7,140.54 L208,139.33 L208.3,139.33 L208.6,140.09 L208.9,139.58 L209.2,138.51 L209.5,138.3 L209.8,137.75 L210.1,136.32 L210.4,134.88 L210.7,133.91 L211,133.99 L211.3,135.83 L211.6,136.11 L211.9,134.03 L212.2,133.62 L212.5,133.59 L212.8,132.66 L213.1,132.12 L213.4,132.05 L213.7,132.21 L214,131.57 L214.3,131.23 L214.6,131.1 L214.9,129.57 L215.2,128.21 L215.5,128.72 L215.8,129.42 L216.1,128.98 L216.4,128.02 L216.7,127.23 L217,127.45 L217.3,127.67 L217.6,127.65 L217.9,127.58 L218.2,126.04 L218.5,124.11 L218.8,123.99 L219.1,124.91 L219.4,125.01 L219.7,124.74 L220,124.74 L220.3,124.82 L220.6,124.02 L220.9,122.6 L221.2,122.37 L221.5,121.96 L221.8,121.19 L222.1,121.73 L222.4,121.99 L222.7,120.98 L223,119.9 L223.3,118.99 L223.6,118.22 L223.9,117.92 L224.2,117.71 L224.5,117.36 L224.8,117.06 L225.1,117.25 L225.4,116.88 L225.7,115.9 L226,115.21 L226.3,113.66 L226.6,112.9 L226.9,113.74 L227.2,114.17 L227.5,113.45 L227.8,112.41 L228.1,112.39 L228.4,112.92 L228.7,112.84 L229,112.16 L229.3,111.3 L229.6,110.45 L229.9,110.01 L230.2,110.04 L230.5,109.75 L230.8,108.77 L231.1,108.4 L231.4,109.21 L231.7,109.52 L232,108.67 L232.3,107.67 L232.6,107.32 L232.9,107.42 L233.2,107.48 L233.5,107.24 L233.8,106.08 L234.1,104.73 L234.4,104.13 L234.7,103.58 L235,103.67 L235.3,104.51 L235.6,104.06 L235.9,103.31 L236.2,103.65 L236.5,102.99 L236.8,101.97 L237.1,101.93 L237.4,101.55 L237.7,100.44 L238,99.87 L238.3,100.39 L238.6,100 L238.9,99.09 L239.2,99.72 L239.5,100.02 L239.8,99.34 L240.1,98.98 L240.4,98.52 L240.7,97.99 L241,98.27 L241.3,98.29 L241.6,97.46 L241.9,97.34 L242.2,97.26 L242.5,96.61 L242.8,96.03 L243.1,95.51 L243.4,95.52 L243.7,95.93 L244,95.76 L244.3,95.97 L244.6,96.49 L244.9,95.61 L245.2,94.73 L245.5,94.46 L245.8,94.47 L246.1,94.6 L246.4,94.36 L246.7,94.53 L247,94.12 L247.3,93.29 L247.6,93.14 L247.9,93.42 L248.2,93.66 L248.5,92.63 L248.8,91.17 L249.1,90.51 L249.4,90.53 L249.7,90.7 L250,90.4 L250.3,90.1 L250.6,90.2 L250.9,90.71 L251.2,90.65 L251.5,89.62 L251.8,89.12 L252.1,88.86 L252.4,88.35 L252.7,88.21 L253,88.58 L253.3,88.97 L253.6,88.63 L253.9,88.31 L254.2,88.45 L254.5,88.22 L254.8,87.84 L255.1,87.5 L255.4,87.2 L255.7,87.31 L256,87.14 L256.3,86.32 L256.6,86.14 L256.9,86.61 L257.2,86.99 L257.5,86.92 L257.8,86.05 L258.1,85.39 L258.4,85.07 L258.7,84.97 L259,84.77 L259.3,84.11 L259.6,83.88 L259.9,83.88 L260.2,83.77 L260.5,83.81 L260.8,83.8 L261.1,83.45 L261.4,82.8 L261.7,82.04 L262,81.43 L262.3,81.24 L262.6,81.4 L262.9,81.47 L263.2,80.88 L263.5,80.45 L263.8,80.49 L264.1,80.06 L264.4,79.66 L264.7,79.77 L265,79.34 L265.3,78.36 L265.6,78.31 L265.9,78.71 L266.2,78.42 L266.5,77.94 L266.8,78.09 L267.1,78.28 L267.4,77.92 L267.7,77.78 L268,77.55 L268.3,77.02 L268.6,76.71 L268.9,76.26 L269.2,75.7 L269.5,75.6 L269.8,75.75 L270.1,75.37 L270.4,74.73 L270.7,74.78 L271,75.28 L271.3,75.02 L271.6,74.16 L271.9,73.41 L272.2,73.09 L272.5,73.32 L272.8,73.09 L273.1,72.69 L273.4,72.97 L273.7,72.72 L274,71.87 L274.3,71.48 L274.6,71.43 L274.9,71.35 L275.2,70.83 L275.5,70.54 L275.8,70.88 L276.1,70.91 L276.4,70.76 L276.7,70.41 L277,69.75 L277.3,69.49 L277.6,69.44 L277.9,69.09 L278.2,68.44 L278.5,67.98 L278.8,67.7 L279.1,67.3 L279.4,66.73 L279.7,66.36 L280,66.33 L280.3,66.1 L280.6,65.86 L280.9,65.86 L281.2,65.99 L281.5,65.98 L281.8,65.17 L282.1,64.36 L282.4,64.18 L282.7,64.05 L283,63.78 L283.3,63.31 L283.6,62.88 L283.9,62.62 L284.2,62.15 L284.5,61.66 L284.8,61.62 L285.1,61.85 L285.4,61.78 L285.7,61.23 L286,60.84 L286.3,60.8 L286.6,60.77 L286.9,60.62 L287.2,60.12 L287.5,59.71 L287.8,59.74 L288.1,59.42 L288.4,58.71 L288.7,58.09 L289,57.59 L289.3,57.35 L289.6,57.2 L289.9,57.01 L290.2,56.8 L290.5,56.59 L290.8,56.46 L291.1,56.33 L291.4,55.98 L291.7,55.41 L292,55.2 L292.3,55.51 L292.6,55.39 L292.9,54.84 L293.2,54.37 L293.5,53.76 L293.8,53.44 L294.1,53.73 L294.4,53.77 L294.7,53.19 L295,53.01 L295.3,52.97 L295.6,52.52 L295.9,52.46 L296.2,52.41 L296.5,52.06 L296.8,52.12 L297.1,52.06 L297.4,51.37 L297.7,50.93 L298,50.77 L298.3,50.4 L298.6,50.32 L298.9,50.51 L299.2,50.11 L299.5,49.46 L299.8,49.39 L300,49.59 L301,48.87 L302,48.03 L303,47.6 L304,47.33 L305,46.96 L306,46.4 L307,46.02 L308,46.07 L309,45.99 L310,45.97 L311,45.79 L312,44.97 L313,44.46 L314,44.45 L315,44.22 L316,43.83 L317,43.78 L318,43.86 L319,43.47 L320,43.04 L321,42.92 L322,42.86 L323,42.85 L324,42.69 L325,42.55 L326,42.56 L327,42.49 L328,42.56 L329,42.52 L330,42.17 L331,41.96 L332,42.04 L333,42.06 L334,41.9 L335,41.76 L336,41.7 L337,41.69 L338,41.59 L339,41.36 L340,41.27 L341,41.26 L342,41.19 L343,41.23 L344,41.25 L345,41.09 L346,40.9 L347,40.96 L348,41.2 L349,41.06 L350,40.68 L351,40.72 L352,41.06 L353,41.06 L354,40.88 L355,40.71 L356,40.5 L357,40.56 L358,40.58 L359,40.35 L360,40.43 L361,40.75 L362,40.8 L363,40.69 L364,40.82 L365,40.96 L366,40.78 L367,40.68 L368,40.82 L369,41.03 L370,41.21 L371,41.2 L372,41.28 L373,41.51 L374,41.5 L375,41.54 L376,41.71 L377,41.78 L378,41.83 L379,41.89 L380,41.85 L381,41.82 L382,41.96 L383,42.11 L384,42.21 L385,42.29 L386,42.43 L387,42.69 L388,42.72 L389,42.58 L390,42.69 L391,42.75 L392,42.8 L393,43.06 L394,43.23 L395,43.32 L396,43.5 L397,43.77 L398,43.93 L399,44 L400,44.08 L401,44.17 L402,44.24 L403,44.34 L404,44.45 L405,44.59 L406,44.78 L407,44.96 L408,45.09 L409,45.31 L410,45.38 L411,45.24 L412,45.3 L413,45.44 L414,45.48 L415,45.56 L416,45.71 L417,45.81 L418,45.86 L419,45.93 L420,45.92 L421,45.98 L422,46.2 L423,46.27 L424,46.29 L425,46.39 L426,46.37 L427,46.4 L428,46.56 L429,46.6 L430,46.69 L431,46.9 L432,47.07 L433,47.13 L434,47.07 L435,47.03 L436,47.14 L437,47.37 L438,47.5 L439,47.44 L440,47.41 L441,47.5 L442,47.51 L443,47.51 L444,47.61 L445,47.73 L446,47.82 L447,47.93 L448,48 L449,47.89 L450,47.69 L451,47.75 L452,47.97 L453,48.16 L454,48.29 L455,48.24 L456,48.22 L457,48.35 L458,48.39 L459,48.36 L460,48.33 L461,48.27 L462,48.34 L463,48.45 L464,48.45 L465,48.55 L466,48.66 L467,48.69 L468,48.72 L469,48.61 L470,48.44 L471,48.47 L472,48.63 L473,48.71 L474,48.64 L475,48.63 L476,48.76 L477,48.82 L478,48.69 L479,48.68 L480,48.75 L481,48.73 L482,48.8 L483,48.81 L484,48.75 L485,48.79 L486,48.86 L487,48.96 L488,49.08 L489,49.14 L490,49.08 L491,49.02 L492,49.01 L493,49.09 L494,49.09 L495,49.02 L496,49.08 L497,49.13 L498,49.16 L499,49.24 L500,49.29 L501,49.26 L502,49.23 L503,49.27 L504,49.28 L505,49.29 L506,49.36 L507,49.42 L508,49.4 L509,49.33 L510,49.28 L511,49.26 L512,49.29 L513,49.38 L514,49.46 L515,49.66 L516,49.77 L517,49.65 L518,49.63 L519,49.6 L520,49.49 L521,49.5 L522,49.65 L523,49.75 L524,49.64 L525,49.48 L526,49.49 L527,49.66 L528,49.8 L529,49.79 L530,49.8 L531,49.83 L532,49.77 L533,49.74 L534,49.69 L535,49.66 L536,49.79 L537,49.92 L538,49.89 L539,49.77 L540,49.8 L541,49.95 L542,50.03 L543,50.01 L544,49.93 L545,49.91 L546,49.94 L547,49.97 L548,50.01 L549,50.1 L550,50.18 L551,50.09 L552,50 L553,50.12 L554,50.15 L555,50.04 L556,50.04 L557,50.17 L558,50.23 L559,50.14 L560,50.1 L561,50.22 L562,50.41 L563,50.46 L564,50.42 L565,50.57 L566,50.63 L567,50.56 L568,50.57 L569,50.56 L570,50.52 L571,50.47 L572,50.45 L573,50.39 L574,50.38 L575,50.48 L576,50.58 L577,50.72 L578,50.79 L579,50.74 L580,50.74 L581,50.71 L582,50.67 L583,50.77 L584,50.86 L585,50.83 L586,50.74 L587,50.73 L588,50.9 L589,51.1 L590,51.24 L591,51.32 L592,51.34 L593,51.35 L594,51.37 L595,51.38 L596,51.46 L597,51.65 L598,51.76 L599,51.63 L600,51.58 L601,51.71 L602,51.74 L603,51.76 L604,51.82 L605,51.92 L606,52.11 L607,52.17 L608,52.13 L609,52.19 L610,52.29 L611,52.38 L612,52.4 L613,52.4 L614,52.47 L615,52.59 L616,52.68 L617,52.71 L618,52.82 L619,53.04 L620,53.22 L621,53.08 L622,52.86 L623,52.97 L624,53.17 L625,53.34 L626,53.5 L627,53.41 L628,53.29 L629,53.43 L630,53.59 L631,53.71 L632,53.75 L633,53.74 L634,53.76 L635,53.75 L636,53.85 L637,54.08 L638,54.19 L639,54.03 L640,53.99 L641,54.14 L642,54.28 L643,54.37 L644,54.32 L645,54.36 L646,54.53 L647,54.62 L648,54.6 L649,54.62 L650,54.74 L651,54.8 L652,54.8 L653,54.74 L654,54.73 L655,54.89 L656,55.09 L657,55.22 L658,55.25 L659,55.28 L660,55.45 L661,55.54 L662,55.46 L663,55.46 L664,55.5 L665,55.5 L666,55.57 L667,55.63 L668,55.55 L669,55.55 L670,55.65 L671,55.75 L672,55.92 L673,56 L674,55.98 L675,56.03 L676,56.05 L677,56.1 L678,56.25 L679,56.38 L680,56.32 L681,56.22 L682,56.31 L683,56.42 L684,56.37 L685,56.4 L686,56.42 L687,56.38 L688,56.57 L689,56.79 L690,56.79 L691,56.78 L692,56.9 L693,57.07 L694,57.12 L695,57.02 L696,57 L697,57.1 L698,57.16 L699,57.21 L700,57.24 L701,57.19 L702,57.19 L703,57.26 L704,57.3 L705,57.36 L706,57.51 L707,57.69 L708,57.73 L709,57.7 L710,57.8 L711,57.92 L712,57.85 L713,57.72 L714,57.79 L715,58.06 L716,58.22 L717,58.17 L718,58.19 L719,58.38 L720,58.46 L721,58.4 L722,58.31 L723,58.32 L724,58.43 L725,58.49 L726,58.63 L727,58.75 L728,58.81 L729,58.88 L730,58.87 L731,58.93 L732,59.01 L733,58.99 L734,59.03 L735,59.15 L736,59.17 L737,59.14 L738,59.17 L739,59.33 L740,59.47 L741,59.41 L742,59.3 L743,59.26 L744,59.23 L745,59.29 L746,59.47 L747,59.54 L748,59.47 L749,59.47 L750,59.58 L751,59.61 L752,59.64 L753,59.77 L754,59.86 L755,59.9 L756,59.94 L757,59.97 L758,60.01 L759,59.99 L760,60.06 L761,60.12 L762,60.11 L763,60.08 L764,59.99 L765,59.98 L766,60.08 L767,60.17 L768,60.26 L769,60.31 L770,60.35 L771,60.36 L772,60.35 L773,60.34 L774,60.31 L775,60.4 L776,60.46 L777,60.33 L778,60.36 L779,60.51 L780,60.56 L781,60.6 L782,60.5 L783,60.36 L784,60.33 L785,60.39 L786,60.56 L787,60.63 L788,60.54 L789,60.51 L790,60.44 L791,60.36 L792,60.36 L793,60.36 L794,60.43 L795,60.57 L796,60.68 L797,60.68 L798,60.61 L799,60.6 L800,60.66 L801,60.55 L802,60.37 L803,60.48 L804,60.63 L805,60.6 L806,60.68 L807,60.68 L808,60.57 L809,60.63 L810,60.74 L811,60.69 L812,60.64 L813,60.71 L814,60.79 L815,60.86 L816,60.87 L817,60.82 L818,60.82 L819,60.79 L820,60.74 L821,60.74 L822,60.87 L823,61 L824,61 L825,60.96 L826,60.92 L827,60.98 L828,61.02 L829,61.05 L830,61.18 L831,61.26 L832,61.34 L833,61.31 L834,61.2 L835,61.23 L836,61.27 L837,61.3 L838,61.3 L839,61.22 L840,61.19 L841,61.19 L842,61.19 L843,61.28 L844,61.39 L845,61.43 L846,61.43 L847,61.45 L848,61.43 L849,61.34 L850,61.39 L851,61.53 L852,61.65 L853,61.72 L854,61.71 L855,61.72 L856,61.71 L857,61.66 L858,61.61 L859,61.66 L860,61.9 L861,61.99 L862,61.82 L863,61.69 L864,61.63 L865,61.72 L866,61.9 L867,61.92 L868,61.87 L869,61.92 L870,62.03 L871,62.16 L872,62.21 L873,62.19 L874,62.21 L875,62.16 L876,62.11" stroke="#1f77b4"/>
<path d="M118,247.74 L118.3,239.06 L118.6,244.28 L118.9,242.22 L119.2,242.2 L119.5,242.4 L119.8,238.81 L120.1,241.9 L120.4,240.49 L120.7,248.07 L121,242.07 L121.3,240.76 L121.6,240.68 L121.9,239.73 L122.2,238.79 L122.5,239.83 L122.8,241.27 L123.1,239.7 L123.4,241.77 L123.7,239.38 L124,239.61 L124.3,242.32 L124.6,240.23 L124.9,238.04 L125.2,238.49 L125.5,239.7 L125.8,242.22 L126.1,237.82 L126.4,237.71 L126.7,239.96 L127,236.16 L127.3,237.17 L127.6,239.32 L127.9,238.6 L128.2,237.52 L128.5,238.53 L128.8,231.56 L129.1,238.99 L129.4,234.99 L129.7,233.49 L130,237.21 L130.3,237.95 L130.6,235.59 L130.9,234.24 L131.2,236.34 L131.5,236.09 L131.8,238.91 L132.1,237.51 L132.4,236.32 L132.7,238.07 L133,235.35 L133.3,233.82 L133.6,236.77 L133.9,236.69 L134.2,235 L134.5,233.76 L134.8,235.73 L135.1,230.12 L135.4,236.5 L135.7,236.01 L136,231.57 L136.3,234.95 L136.6,232.76 L136.9,236.19 L137.2,230.36 L137.5,232.55 L137.8,235.79 L138.1,236.6 L138.4,229.64 L138.7,232.96 L139,234.55 L139.3,232.48 L139.6,236.92 L139.9,230.99 L140.2,234.07 L140.5,230.99 L140.8,235.98 L141.1,232.83 L141.4,231.93 L141.7,228.93 L142,235.92 L142.3,233.79 L142.6,233.61 L142.9,234.25 L143.2,232.39 L143.5,230.11 L143.8,229.57 L144.1,229.38 L144.4,233.82 L144.7,227.57 L145,229.22 L145.3,229.61 L145.6,230.59 L145.9,231.14 L146.2,227.01 L146.5,225.77 L146.8,229.3 L147.1,231.75 L147.4,230.57 L147.7,229.2 L148,227.85 L148.3,228.99 L148.6,227.63 L148.9,229.77 L149.2,226.06 L149.5,227.92 L149.8,227.2 L150.1,228.47 L150.4,227.59 L150.7,232.53 L151,230.05 L151.3,229.88 L151.6,221.93 L151.9,225.5 L152.2,224.74 L152.5,227.08 L152.8,220.72 L153.1,228.15 L153.4,227.75 L153.7,222.37 L154,222.91 L154.3,223.13 L154.6,224.82 L154.9,225.96 L155.2,228.88 L155.5,223.76 L155.8,225.71 L156.1,224.19 L156.4,227.54 L156.7,225.11 L157,226.31 L157.3,220.74 L157.6,222.5 L157.9,220.94 L158.2,225.85 L158.5,223.78 L158.8,221.46 L159.1,220.94 L159.4,222.79 L159.7,219.97 L160,219.25 L160.3,222.13 L160.6,226.27 L160.9,220.08 L161.2,219.17 L161.5,217.58 L161.8,216.98 L162.1,220.83 L162.4,221.31 L162.7,219.21 L163,219.68 L163.3,218.95 L163.6,218.75 L163.9,214.84 L164.2,216.94 L164.5,217.94 L164.8,215.71 L165.1,216.13 L165.4,215.13 L165.7,215.94 L166,218.3 L166.3,215.27 L166.6,215.58 L166.9,217.45 L167.2,216.83 L167.5,218.89 L167.8,210.31 L168.1,216.55 L168.4,213.36 L168.7,214.48 L169,215.78 L169.3,216.09 L169.6,215.75 L169.9,213.57 L170.2,216.54 L170.5,212.14 L170.8,212.22 L171.1,214.06 L171.4,210.86 L171.7,216.59 L172,213.85 L172.3,216.17 L172.6,211.09 L172.9,210.08 L173.2,211.06 L173.5,212.07 L173.8,208.93 L174.1,210.83 L174.4,209.72 L174.7,213.08 L175,207.83 L175.3,211.36 L175.6,207.4 L175.9,206.46 L176.2,206.77 L176.5,205.47 L176.8,208.16 L177.1,209.86 L177.4,207.7 L177.7,208.46 L178,210.42 L178.3,207.16 L178.6,206.73 L178.9,205.43 L179.2,202.22 L179.5,207.15 L179.8,201.33 L180.1,206.34 L180.4,204.58 L180.7,206.79 L181,203.86 L181.3,201.89 L181.6,204.18 L181.9,201.85 L182.2,202.38 L182.5,202.55 L182.8,201.85 L183.1,201.41 L183.4,199.68 L183.7,200.78 L184,196.18 L184.3,200.22 L184.6,197.61 L184.9,202.4 L185.2,202.42 L185.5,195.02 L185.8,199.33 L186.1,198.42 L186.4,196.1 L186.7,199.27 L187,196.79 L187.3,193.63 L187.6,196.65 L187.9,196.63 L188.2,196.91 L188.5,193.7 L188.8,197.5 L189.1,197.5 L189.4,193.11 L189.7,193.92 L190,194.95 L190.3,193.63 L190.6,198.46 L190.9,194.84 L191.2,191.92 L191.5,192.17 L191.8,193.54 L192.1,198.48 L192.4,192.8 L192.7,193.24 L193,193.86 L193.3,192.41 L193.6,197.28 L193.9,190.86 L194.2,193.44 L194.5,191.92 L194.8,192.7 L195.1,188.52 L195.4,194.76 L195.7,190.37 L196,190.47 L196.3,188.1 L196.6,188.31 L196.9,190.92 L197.2,191.6 L197.5,190.84 L197.8,191.6 L198.1,190.26 L198.4,188.49 L198.7,190.01 L199,189.22 L199.3,187.44 L199.6,189 L199.9,189.97 L200.2,187.4 L200.5,185.84 L200.8,187.93 L201.1,190.24 L201.4,185.37 L201.7,185.37 L202,185 L202.3,187.68 L202.6,180.8 L202.9,185.29 L203.2,186.79 L203.5,182.21 L203.8,186.88 L204.1,184.56 L204.4,181.97 L204.7,183.3 L205,179.33 L205.3,181.12 L205.6,185.91 L205.9,179.88 L206.2,185.37 L206.5,181.04 L206.8,183.02 L207.1,180.74 L207.4,175.68 L207.7,178.89 L208,180.19 L208.3,177.13 L208.6,176.44 L208.9,179.7 L209.2,177.32 L209.5,174.88 L209.8,176.67 L210.1,179.55 L210.4,176.53 L210.7,179.11 L211,180.02 L211.3,176.68 L211.6,174.03 L211.9,173.39 L212.2,175.67 L212.5,177.2 L212.8,175.67 L213.1,175.92 L213.4,173.64 L213.7,174.82 L214,172.98 L214.3,172.97 L214.6,170.75 L214.9,169.89 L215.2,171.74 L215.5,170.21 L215.8,170.2 L216.1,173.08 L216.4,171.25 L216.7,176.83 L217,172.64 L217.3,169.29 L217.6,171.72 L217.9,170.58 L218.2,168.26 L218.5,171.38 L218.8,167.46 L219.1,162.78 L219.4,169.83 L219.7,166.82 L220,170.5 L220.3,166.13 L220.6,164.8 L220.9,169.64 L221.2,164.37 L221.5,166.45 L221.8,168.46 L222.1,165.64 L222.4,164.94 L222.7,164.96 L223,165.99 L223.3,162.61 L223.6,164.9 L223.9,164.51 L224.2,167.39 L224.5,162.16 L224.8,160.76 L225.1,163.44 L225.4,161.03 L225.7,161.94 L226,161.31 L226.3,162.83 L226.6,159.19 L226.9,159.86 L227.2,155.1 L227.5,157.73 L227.8,161.7 L228.1,157.38 L228.4,156.97 L228.7,155.68 L229,158.47 L229.3,157.37 L229.6,154.57 L229.9,157.42 L230.2,156.3 L230.5,156.75 L230.8,153.91 L231.1,157.63 L231.4,154.92 L231.7,153.6 L232,152.5 L232.3,152.58 L232.6,154.07 L232.9,151.75 L233.2,153.66 L233.5,152.43 L233.8,153.36 L234.1,152.1 L234.4,150.27 L234.7,146.83 L235,150.21 L235.3,150.72 L235.6,149.37 L235.9,149.73 L236.2,147.74 L236.5,147.61 L236.8,146.41 L237.1,149.93 L237.4,147.69 L237.7,146.36 L238,144.74 L238.3,146.42 L238.6,148.76 L238.9,146.92 L239.2,144.77 L239.5,148 L239.8,147.76 L240.1,146.81 L240.4,146.27 L240.7,146.61 L241,145.41 L241.3,145.55 L241.6,142.89 L241.9,146.21 L242.2,144.02 L242.5,146.55 L242.8,140.09 L243.1,144.06 L243.4,144.24 L243.7,142.01 L244,142.97 L244.3,143.18 L244.6,142.68 L244.9,140.78 L245.2,141.13 L245.5,142.58 L245.8,142.7 L246.1,140.72 L246.4,140.43 L246.7,140.34 L247,141.26 L247.3,138.01 L247.6,137.34 L247.9,139.1 L248.2,137.08 L248.5,137.51 L248.8,138.14 L249.1,138.37 L249.4,135.93 L249.7,138.16 L250,134.35 L250.3,137.15 L250.6,133.98 L250.9,134.06 L251.2,136.27 L251.5,134.55 L251.8,133.7 L252.1,133.82 L252.4,134.66 L252.7,133.64 L253,133.33 L253.3,134.36 L253.6,131.77 L253.9,131.74 L254.2,131.34 L254.5,133.09 L254.8,132.52 L255.1,132.53 L255.4,130.58 L255.7,130.09 L256,130.97 L256.3,129.15 L256.6,130.27 L256.9,129.82 L257.2,127.82 L257.5,128.23 L257.8,127.87 L258.1,129.69 L258.4,130.35 L258.7,126.99 L259,126.82 L259.3,123.96 L259.6,126.46 L259.9,125.92 L260.2,124.47 L260.5,126.21 L260.8,123.38 L261.1,124.55 L261.4,124.65 L261.7,122.9 L262,124.83 L262.3,124.76 L262.6,121.94 L262.9,121.65 L263.2,123.44 L263.5,122.52 L263.8,121.06 L264.1,121.71 L264.4,121.63 L264.7,121.33 L265,122.01 L265.3,121.31 L265.6,122.37 L265.9,121.72 L266.2,120.79 L266.5,120.9 L266.8,120.87 L267.1,120.03 L267.4,118.01 L267.7,119.65 L268,118.69 L268.3,119.82 L268.6,118.21 L268.9,118.35 L269.2,117.93 L269.5,118.85 L269.8,117.31 L270.1,116.69 L270.4,116.94 L270.7,116.08 L271,116.35 L271.3,115.98 L271.6,115.97 L271.9,117.06 L272.2,114.97 L272.5,115.09 L272.8,114.68 L273.1,115.13 L273.4,113.48 L273.7,113.64 L274,113.91 L274.3,114.13 L274.6,113.47 L274.9,112.92 L275.2,112.45 L275.5,113.22 L275.8,113.66 L276.1,112.65 L276.4,112.34 L276.7,112.31 L277,111.16 L277.3,111.38 L277.6,111.2 L277.9,111.36 L278.2,110.94 L278.5,109.99 L278.8,111.27 L279.1,111.41 L279.4,109.99 L279.7,110.2 L280,109.92 L280.3,110.03 L280.6,108.48 L280.9,110.12 L281.2,108.69 L281.5,109.52 L281.8,108.63 L282.1,108.16 L282.4,108.12 L282.7,108.53 L283,107.32 L283.3,107.41 L283.6,107.17 L283.9,106.28 L284.2,107.8 L284.5,107.2 L284.8,106.67 L285.1,107.15 L285.4,105.78 L285.7,106.08 L286,106.89 L286.3,106.29 L286.6,104.35 L286.9,103.56 L287.2,104.63 L287.5,105.58 L287.8,104.57 L288.1,104.53 L288.4,104.78 L288.7,103.81 L289,104.21 L289.3,104.33 L289.6,103.98 L289.9,103.76 L290.2,103.06 L290.5,103.46 L290.8,102.79 L291.1,103.5 L291.4,103.96 L291.7,102.1 L292,101.21 L292.3,101.91 L292.6,102.14 L292.9,102.3 L293.2,102.14 L293.5,101.04 L293.8,100.87 L294.1,101.7 L294.4,100.38 L294.7,101.27 L295,100.46 L295.3,100.77 L295.6,100.57 L295.9,100.44 L296.2,100.29 L296.5,99.27 L296.8,99.71 L297.1,99.41 L297.4,99.38 L297.7,99.64 L298,98.79 L298.3,98.43 L298.6,98.27 L298.9,98.3 L299.2,98.62 L299.5,97.76 L299.8,98.48 L300,97.99 L301,97.25 L302,96.28 L303,96.46 L304,96.16 L305,94.7 L306,95.42 L307,95.14 L308,94.19 L309,93.8 L310,94.04 L311,93.17 L312,92 L313,91.87 L314,91.4 L315,90.99 L316,89.89 L317,90.46 L318,89.65 L319,89.51 L320,89.05 L321,88.96 L322,88.3 L323,87.83 L324,87.84 L325,87.74 L326,87.03 L327,87.12 L328,86.61 L329,86.19 L330,86.36 L331,85.66 L332,85.79 L333,85.25 L334,85.2 L335,84.64 L336,84.48 L337,84.64 L338,84.23 L339,83.98 L340,83.67 L341,83.63 L342,83.05 L343,82.89 L344,82.88 L345,82.55 L346,82.38 L347,82.32 L348,82.12 L349,81.93 L350,82.14 L351,81.85 L352,81.74 L353,81.34 L354,81.1 L355,80.78 L356,80.88 L357,80.42 L358,80.62 L359,80.79 L360,80.88 L361,80.67 L362,80.24 L363,80.46 L364,80.16 L365,80.46 L366,80.24 L367,80.41 L368,80.73 L369,80.38 L370,80.64 L371,80.19 L372,80.08 L373,80.39 L374,80.46 L375,79.99 L376,80.1 L377,79.78 L378,80.02 L379,80.23 L380,80.02 L381,79.92 L382,79.74 L383,80.08 L384,80.16 L385,80.11 L386,80.04 L387,79.72 L388,80.32 L389,79.95 L390,79.92 L391,80.09 L392,79.5 L393,79.91 L394,79.88 L395,79.97 L396,80.15 L397,79.96 L398,79.49 L399,79.77 L400,79.87 L401,79.84 L402,79.53 L403,79.43 L404,79.86 L405,79.79 L406,79.69 L407,79.32 L408,79.99 L409,79.01 L410,79.47 L411,79.9 L412,79.39 L413,79.4 L414,79.05 L415,79.48 L416,78.87 L417,79.1 L418,78.99 L419,78.67 L420,78.97 L421,78.41 L422,78.47 L423,78.5 L424,78.33 L425,78.41 L426,78.41 L427,78.07 L428,77.92 L429,77.84 L430,77.77 L431,77.92 L432,77.63 L433,77.67 L434,77.48 L435,77.25 L436,77.52 L437,77.06 L438,77.19 L439,77.4 L440,76.79 L441,76.91 L442,76.52 L443,76.64 L444,76.35 L445,76.48 L446,76.35 L447,76.38 L448,76.58 L449,76.22 L450,76.2 L451,75.96 L452,75.83 L453,75.61 L454,75.33 L455,75.61 L456,75.83 L457,75.51 L458,75.22 L459,75.57 L460,75.07 L461,74.96 L462,74.76 L463,74.74 L464,74.81 L465,75.2 L466,74.69 L467,74.47 L468,74.5 L469,74.53 L470,74.19 L471,74.52 L472,74.61 L473,74.5 L474,74.54 L475,74.15 L476,74.06 L477,74.66 L478,74.62 L479,74.1 L480,74.46 L481,74.44 L482,74.56 L483,74.52 L484,74.4 L485,74.56 L486,74.58 L487,74.57 L488,74.23 L489,74.04 L490,74.51 L491,74.37 L492,74.79 L493,74.91 L494,74.86 L495,74.76 L496,74.89 L497,75.14 L498,74.79 L499,75.15 L500,75.14 L501,75.08 L502,75.35 L503,74.95 L504,75.31 L505,74.97 L506,75.03 L507,75 L508,75.34 L509,75.09 L510,75.32 L511,75.12 L512,75.59 L513,75.78 L514,75.49 L515,75.81 L516,75.63 L517,75.98 L518,75.6 L519,75.31 L520,75.95 L521,75.66 L522,75.52 L523,75.63 L524,75.47 L525,75.8 L526,75.66 L527,76.21 L528,76.08 L529,75.65 L530,75.72 L531,75.95 L532,75.71 L533,76.11 L534,76.17 L535,76.06 L536,76.14 L537,76.39 L538,76.62 L539,76.67 L540,76.42 L541,76.62 L542,76.34 L543,76.61 L544,76.38 L545,76.76 L546,76.41 L547,76.5 L548,76.73 L549,76.89 L550,76.53 L551,76.75 L552,76.93 L553,76.99 L554,76.82 L555,77.05 L556,77.02 L557,77.4 L558,77.27 L559,76.94 L560,76.81 L561,77.31 L562,77.57 L563,77.41 L564,77.6 L565,77.37 L566,77.24 L567,77.7 L568,77.62 L569,77.78 L570,77.41 L571,77.77 L572,77.65 L573,77.98 L574,77.75 L575,77.79 L576,77.84 L577,78.26 L578,78.06 L579,77.94 L580,77.94 L581,77.98 L582,78.53 L583,77.92 L584,78.16 L585,78.5 L586,78.65 L587,78.44 L588,78.67 L589,78.71 L590,78.8 L591,78.66 L592,79.03 L593,78.79 L594,79.11 L595,78.63 L596,79.09 L597,78.7 L598,78.7 L599,79.15 L600,78.94 L601,79.24 L602,78.99 L603,79.58 L604,79.31 L605,79.13 L606,79.45 L607,79.64 L608,79.36 L609,79.67 L610,80.03 L611,79.85 L612,79.73 L613,79.67 L614,79.95 L615,79.59 L616,79.34 L617,79.86 L618,79.84 L619,80.46 L620,80.19 L621,80.02 L622,80.04 L623,80.43 L624,80.22 L625,80.32 L626,80.48 L627,80.57 L628,80.63 L629,80.69 L630,80.98 L631,81.12 L632,80.51 L633,81.41 L634,80.98 L635,81.26 L636,80.92 L637,81.19 L638,81.23 L639,81.26 L640,81.47 L641,81.48 L642,81.21 L643,81.45 L644,81.68 L645,81.73 L646,81.58 L647,81.65 L648,81.74 L649,81.61 L650,81.63 L651,82.26 L652,81.93 L653,82.09 L654,81.98 L655,82.45 L656,82.6 L657,82.26 L658,82.47 L659,82.28 L660,82.84 L661,82.73 L662,82.44 L663,82.92 L664,82.8 L665,82.87 L666,82.92 L667,82.78 L668,82.87 L669,83.16 L670,83.08 L671,82.97 L672,83.62 L673,83.24 L674,83.23 L675,83.26 L676,83.6 L677,83.72 L678,83.63 L679,83.82 L680,83.41 L681,83.69 L682,83.74 L683,83.89 L684,84.05 L685,83.61 L686,84.7 L687,83.96 L688,84.27 L689,84.43 L690,84.5 L691,84.44 L692,83.87 L693,84.3 L694,84.74 L695,84.47 L696,84.51 L697,84.32 L698,85.1 L699,85.03 L700,84.81 L701,85.03 L702,85.11 L703,84.98 L704,85.22 L705,85.39 L706,85.53 L707,85.74 L708,85.56 L709,85.54 L710,85.78 L711,85.65 L712,85.6 L713,86.15 L714,85.92 L715,86.1 L716,86.28 L717,86 L718,86.42 L719,86.46 L720,86.43 L721,86.6 L722,86.44 L723,86.23 L724,86.69 L725,86.64 L726,87.07 L727,87.02 L728,86.94 L729,87.13 L730,87.46 L731,87.5 L732,87.42 L733,87.5 L734,87.44 L735,87.54 L736,87.76 L737,87.69 L738,87.84 L739,87.63 L740,87.6 L741,87.66 L742,87.99 L743,88.41 L744,88.45 L745,88.09 L746,88.05 L747,88.59 L748,88.59 L749,88.29 L750,88.84 L751,88.74 L752,89.03 L753,88.9 L754,89.08 L755,89.03 L756,88.84 L757,89.05 L758,89.02 L759,89.39 L760,89.08 L761,89.04 L762,89.54 L763,89.69 L764,89.81 L765,89.8 L766,89.34 L767,89.56 L768,89.64 L769,89.8 L770,89.43 L771,89.91 L772,90.02 L773,89.83 L774,90.09 L775,90.35 L776,90.17 L777,90.42 L778,90.46 L779,90.38 L780,90.42 L781,90.31 L782,90.67 L783,90.37 L784,90.36 L785,90.68 L786,90.42 L787,90.69 L788,90.85 L789,90.69 L790,90.73 L791,90.93 L792,90.93 L793,90.51 L794,90.59 L795,91.16 L796,91.01 L797,90.56 L798,90.74 L799,91.06 L800,90.91 L801,91.24 L802,91.21 L803,91.35 L804,91.07 L805,91.48 L806,91.8 L807,91.3 L808,91.78 L809,91.77 L810,91.76 L811,91.67 L812,91.51 L813,91.63 L814,92.02 L815,92.12 L816,92.23 L817,92.24 L818,92.29 L819,92.09 L820,92 L821,92.34 L822,92.47 L823,92.45 L824,92.19 L825,92.46 L826,92.33 L827,92.72 L828,92.55 L829,92.79 L830,92.95 L831,92.98 L832,93.29 L833,92.85 L834,92.7 L835,93.39 L836,93.54 L837,93.61 L838,93.44 L839,93.55 L840,93.53 L841,93.31 L842,93.51 L843,93.78 L844,93.63 L845,94.18 L846,93.55 L847,93.83 L848,94.2 L849,93.91 L850,93.87 L851,93.88 L852,94.07 L853,94.57 L854,94.41 L855,94.49 L856,94.34 L857,94.67 L858,94.58 L859,94.44 L860,94.59 L861,94.78 L862,95.03 L863,94.84 L864,95.01 L865,95.37 L866,94.87 L867,94.84 L868,95.34 L869,95.29 L870,95.24 L871,95.37 L872,95.31 L873,95.54 L874,95.42 L875,95.71 L876,95.37" stroke="#ff7f0e"/>
</g>
<line x1="110.7" y1="238.5" x2="115.5" y2="238.5" stroke="#000" stroke-width="1.4"/>
<line x1="110.7" y1="233.81" x2="115.5" y2="233.81" stroke="#000" stroke-width="1.4"/>
<line x1="110.7" y1="229.85" x2="115.5" y2="229.85" stroke="#000" stroke-width="1.4"/>
<line x1="110.7" y1="226.42" x2="115.5" y2="226.42" stroke="#000" stroke-width="1.4"/>
<line x1="110.7" y1="223.39" x2="115.5" y2="223.39" stroke="#000" stroke-width="1.4"/>
<line x1="110.7" y1="202.86" x2="115.5" y2="202.86" stroke="#000" stroke-width="1.4"/>
<line x1="110.7" y1="192.43" x2="115.5" y2="192.43" stroke="#000" stroke-width="1.4"/>
<line x1="110.7" y1="185.04" x2="115.5" y2="185.04" stroke="#000" stroke-width="1.4"/>
<line x1="110.7" y1="179.3" x2="115.5" y2="179.3" stroke="#000" stroke-width="1.4"/>
<line x1="110.7" y1="174.61" x2="115.5" y2="174.61" stroke="#000" stroke-width="1.4"/>
<line x1="110.7" y1="170.65" x2="115.5" y2="170.65" stroke="#000" stroke-width="1.4"/>
<line x1="110.7" y1="167.22" x2="115.5" y2="167.22" stroke="#000" stroke-width="1.4"/>
<line x1="110.7" y1="164.19" x2="115.5" y2="164.19" stroke="#000" stroke-width="1.4"/>
<line x1="110.7" y1="143.66" x2="115.5" y2="143.66" stroke="#000" stroke-width="1.4"/>
<line x1="110.7" y1="133.23" x2="115.5" y2="133.23" stroke="#000" stroke-width="1.4"/>
<line x1="110.7" y1="125.84" x2="115.5" y2="125.84" stroke="#000" stroke-width="1.4"/>
<line x1="110.7" y1="120.1" x2="115.5" y2="120.1" stroke="#000" stroke-width="1.4"/>
<line x1="110.7" y1="115.41" x2="115.5" y2="115.41" stroke="#000" stroke-width="1.4"/>
<line x1="110.7" y1="111.45" x2="115.5" y2="111.45" stroke="#000" stroke-width="1.4"/>
<line x1="110.7" y1="108.02" x2="115.5" y2="108.02" stroke="#000" stroke-width="1.4"/>
<line x1="110.7" y1="104.99" x2="115.5" y2="104.99" stroke="#000" stroke-width="1.4"/>
<line x1="110.7" y1="84.46" x2="115.5" y2="84.46" stroke="#000" stroke-width="1.4"/>
<line x1="110.7" y1="74.03" x2="115.5" y2="74.03" stroke="#000" stroke-width="1.4"/>
<line x1="110.7" y1="66.64" x2="115.5" y2="66.64" stroke="#000" stroke-width="1.4"/>
<line x1="110.7" y1="60.9" x2="115.5" y2="60.9" stroke="#000" stroke-width="1.4"/>
<line x1="110.7" y1="56.21" x2="115.5" y2="56.21" stroke="#000" stroke-width="1.4"/>
<line x1="110.7" y1="52.25" x2="115.5" y2="52.25" stroke="#000" stroke-width="1.4"/>
<line x1="110.7" y1="48.82" x2="115.5" y2="48.82" stroke="#000" stroke-width="1.4"/>
<line x1="110.7" y1="45.79" x2="115.5" y2="45.79" stroke="#000" stroke-width="1.4"/>
<line x1="110.7" y1="25.26" x2="115.5" y2="25.26" stroke="#000" stroke-width="1.4"/>
<line x1="110.7" y1="14.83" x2="115.5" y2="14.83" stroke="#000" stroke-width="1.4"/>
<line x1="110.7" y1="7.44" x2="115.5" y2="7.44" stroke="#000" stroke-width="1.4"/>
<line x1="110.7" y1="1.7" x2="115.5" y2="1.7" stroke="#000" stroke-width="1.4"/>
<line x1="106.7" y1="220.68" x2="115.5" y2="220.68" stroke="#000" stroke-width="2.0"/>
<line x1="106.7" y1="161.48" x2="115.5" y2="161.48" stroke="#000" stroke-width="2.0"/>
<line x1="106.7" y1="102.28" x2="115.5" y2="102.28" stroke="#000" stroke-width="2.0"/>
<line x1="106.7" y1="43.08" x2="115.5" y2="43.08" stroke="#000" stroke-width="2.0"/>
<line x1="115.5" y1="238.5" x2="115.5" y2="247.3" stroke="#000" stroke-width="2.0"/>
<line x1="305.88" y1="238.5" x2="305.88" y2="247.3" stroke="#000" stroke-width="2.0"/>
<line x1="496.25" y1="238.5" x2="496.25" y2="247.3" stroke="#000" stroke-width="2.0"/>
<line x1="686.62" y1="238.5" x2="686.62" y2="247.3" stroke="#000" stroke-width="2.0"/>
<line x1="877" y1="238.5" x2="877" y2="247.3" stroke="#000" stroke-width="2.0"/>
<rect x="115.5" y="1.7" width="761.5" height="236.8" fill="none" stroke="#000" stroke-width="2.6"/>
<text x="99.5" y="233.68" text-anchor="end" font-size="29.2" fill="#000">10<tspan font-size="20.44" dy="-17.11">−7</tspan></text>
<text x="99.5" y="174.48" text-anchor="end" font-size="29.2" fill="#000">10<tspan font-size="20.44" dy="-17.11">−6</tspan></text>
<text x="99.5" y="115.28" text-anchor="end" font-size="29.2" fill="#000">10<tspan font-size="20.44" dy="-17.11">−5</tspan></text>
<text x="99.5" y="56.08" text-anchor="end" font-size="29.2" fill="#000">10<tspan font-size="20.44" dy="-17.11">−4</tspan></text>
<g transform="translate(30.5,171.7) rotate(-90)" fill="#000">
<text x="-20" y="4.1" font-size="31.39" font-family="WenQuanYi Zen Hei">〈</text>
<text x="8.2" y="0" font-size="29.2" font-style="italic">δ</text>
<text x="22.5" y="0" font-size="29.2" font-style="italic">B</text>
<text x="42.8" y="-10.4" font-size="20.44">2</text>
<text x="53" y="0" font-size="29.2">/</text>
<text x="62.7" y="0" font-size="29.2" font-style="italic">B</text>
<text x="81" y="-10.4" font-size="20.44">2</text>
<text x="77.7" y="7.3" font-size="20.44">0</text>
<text x="90.8" y="4.1" font-size="31.39" font-family="WenQuanYi Zen Hei">〉</text>
</g>
<text x="123" y="28" text-anchor="start" font-size="29.2" fill="#000">(a)</text>
<line x1="893" y1="36.9" x2="952" y2="36.9" stroke="#000" stroke-width="2"/>
<line x1="893" y1="76.9" x2="952" y2="76.9" stroke="#1f77b4" stroke-width="2"/>
<line x1="893" y1="116.9" x2="952" y2="116.9" stroke="#ff7f0e" stroke-width="2"/>
<text x="964.5" y="46.6" text-anchor="start" font-size="29.2" fill="#000">total</text>
<g fill="#000">
<text x="964.1" y="86.1" font-size="29.2" font-style="italic">k</text>
<text x="981.1" y="90" font-size="33.78">&lt;</text>
<text x="1004.2" y="86.1" font-size="29.2">0</text>
</g>
<g fill="#000">
<text x="964.1" y="125.9" font-size="29.2" font-style="italic">k</text>
<text x="981.1" y="129.8" font-size="33.78">&gt;</text>
<text x="1004.2" y="125.9" font-size="29.2">0</text>
</g>
<line x1="115.5" y1="461.57" x2="877" y2="461.57" stroke="#c2c2c2" stroke-width="1.4"/>
<line x1="115.5" y1="382.7" x2="877" y2="382.7" stroke="#c2c2c2" stroke-width="1.4"/>
<line x1="115.5" y1="303.83" x2="877" y2="303.83" stroke="#c2c2c2" stroke-width="1.4"/>
<line x1="305.88" y1="264.4" x2="305.88" y2="501" stroke="#c2c2c2" stroke-width="1.4"/>
<line x1="496.25" y1="264.4" x2="496.25" y2="501" stroke="#c2c2c2" stroke-width="1.4"/>
<line x1="686.62" y1="264.4" x2="686.62" y2="501" stroke="#c2c2c2" stroke-width="1.4"/>
<g clip-path="url(#clipB)" fill="none" stroke-width="1.9" stroke-linejoin="round">
<path d="M115.5,383.6L116.0,383.3L116.4,383.2L116.9,382.9L117.3,383.1L117.8,382.5L118.2,382.4L118.7,381.0L119.1,381.2L119.6,381.6L120.0,382.1L120.5,382.6L120.9,382.7L121.4,383.0L121.8,382.4L122.3,383.1L122.7,383.0L123.2,382.7L123.6,382.2L124.1,382.7L124.5,382.1L125.0,382.3L125.4,382.6L125.9,383.0L126.3,383.3L126.8,383.6L127.2,384.1L127.7,384.5L128.1,384.5L128.6,383.9L129.0,383.8L129.5,383.3L129.9,382.5L130.4,382.2L130.8,382.2L131.3,382.0L131.7,381.0L132.2,381.4L132.6,381.6L133.1,381.6L133.5,382.0L134.0,382.4L134.4,383.0L134.9,382.8L135.3,383.3L135.8,382.6L136.2,383.1L136.7,382.4L137.1,382.4L137.6,381.4L138.0,381.6L138.5,382.0L138.9,382.0L139.4,381.9L139.8,382.5L140.3,382.9L140.7,383.0L141.2,384.0L141.6,384.1L142.1,383.5L142.5,383.8L143.0,383.4L143.4,382.6L143.9,382.7L144.3,382.7L144.8,382.2L145.2,381.5L145.7,381.2L146.1,381.5L146.6,382.1L147.0,383.3L147.5,384.1L147.9,384.5L148.4,384.4L148.8,384.8L149.3,383.9L149.7,383.0L150.2,382.8L150.6,382.6L151.1,381.7L151.5,381.3L152.0,382.2L152.4,382.6L152.9,382.3L153.3,382.9L153.8,383.3L154.2,383.4L154.7,383.4L155.1,383.9L155.6,383.8L156.0,383.0L156.5,382.5L156.9,382.3L157.4,381.8L157.8,381.8L158.3,382.3L158.7,382.2L159.2,382.8L159.6,382.9L160.1,382.4L160.5,383.2L161.0,383.4L161.4,382.9L161.9,382.5L162.3,382.2L162.8,381.0L163.2,380.6L163.7,380.4L164.1,379.9L164.6,380.6L165.0,380.9L165.5,381.2L165.9,381.9L166.4,383.1L166.8,382.9L167.3,384.0L167.7,384.1L168.2,383.7L168.6,383.3L169.1,383.6L169.5,382.3L170.0,382.3L170.4,381.7L170.9,381.9L171.3,381.5L171.8,382.0L172.2,382.8L172.7,383.8L173.1,384.1L173.6,385.4L174.0,385.7L174.5,384.8L174.9,384.5L175.4,383.5L175.8,382.4L176.3,382.0L176.7,381.6L177.2,381.0L177.6,381.6L178.1,381.6L178.5,381.6L179.0,382.7L179.4,382.9L179.9,383.3L180.3,383.5L180.8,383.6L181.2,383.2L181.7,382.8L182.1,382.3L182.6,381.6L183.0,380.9L183.5,380.0L183.9,380.0L184.4,380.2L184.8,380.6L185.3,381.6L185.7,383.2L186.2,384.6L186.6,385.5L187.1,385.8L187.5,385.3L188.0,384.7L188.4,383.5L188.9,382.4L189.3,381.4L189.8,381.3L190.2,380.8L190.7,381.0L191.1,381.5L191.6,382.9L192.0,384.1L192.5,385.6L192.9,387.0L193.4,387.5L193.8,387.9L194.3,387.0L194.7,385.5L195.2,383.0L195.6,380.7L196.1,378.8L196.5,377.5L197.0,376.6L197.4,377.4L197.9,379.5L198.3,382.4L198.8,385.6L199.2,389.0L199.7,390.6L200.1,390.4L200.6,389.3L201.0,386.9L201.5,383.5L201.9,379.8L202.4,376.6L202.8,374.5L203.3,373.9L203.7,375.0L204.2,377.7L204.6,381.3L205.1,385.6L205.5,389.1L206.0,391.7L206.4,392.6L206.9,391.6L207.3,388.6L207.8,384.4L208.2,380.0L208.7,376.0L209.1,373.0L209.6,371.8L210.0,372.6L210.5,375.4L210.9,379.4L211.4,384.1L211.8,388.9L212.3,392.6L212.7,394.5L213.2,394.2L213.6,391.7L214.1,387.7L214.5,382.5L215.0,377.3L215.4,373.1L215.9,370.4L216.3,370.0L216.8,372.1L217.2,376.1L217.7,381.4L218.1,387.0L218.6,391.9L219.0,395.2L219.5,396.2L219.9,394.6L220.4,390.8L220.8,385.1L221.3,379.4L221.7,373.9L222.2,370.2L222.6,368.8L223.1,370.0L223.5,373.5L224.0,378.9L224.4,384.9L224.9,390.6L225.3,394.7L225.8,396.6L226.2,395.8L226.7,392.8L227.1,387.8L227.6,382.2L228.0,376.9L228.5,372.3L228.9,369.7L229.4,369.7L229.8,372.0L230.3,376.2L230.7,381.7L231.2,387.1L231.6,391.6L232.1,394.3L232.5,394.7L233.0,392.9L233.4,389.2L233.9,384.4L234.3,379.6L234.8,375.3L235.2,372.7L235.7,372.0L236.1,373.2L236.6,376.2L237.0,380.2L237.5,384.5L237.9,388.5L238.4,391.3L238.8,392.2L239.3,391.3L239.7,388.9L240.2,385.6L240.6,381.7L241.1,378.1L241.5,375.4L242.0,374.1L242.4,374.4L242.9,376.2L243.3,379.3L243.8,383.0L244.2,386.5L244.7,389.5L245.1,391.1L245.6,391.2L246.0,389.9L246.5,386.9L246.9,383.1L247.4,378.9L247.8,375.4L248.3,373.0L248.7,372.5L249.2,373.9L249.6,377.0L250.1,381.5L250.5,386.6L251.0,391.2L251.4,394.3L251.9,395.4L252.3,394.3L252.8,390.6L253.2,385.0L253.7,378.5L254.1,372.2L254.6,367.4L255.0,364.9L255.5,365.9L255.9,370.2L256.4,377.5L256.8,386.6L257.3,395.7L257.7,402.9L258.2,407.0L258.6,406.7L259.1,401.5L259.5,392.4L260.0,380.5L260.4,368.0L260.9,358.2L261.3,352.6L261.8,352.5L262.2,358.2L262.7,368.7L263.1,382.7L263.6,397.5L264.0,409.2L264.5,416.3L264.9,417.3L265.4,411.7L265.8,400.8L266.3,386.3L266.7,369.9L267.2,356.2L267.6,346.8L268.1,344.3L268.5,349.3L269.0,361.0L269.4,377.7L269.9,395.1L270.3,410.3L270.8,420.7L271.2,424.4L271.7,420.0L272.1,408.1L272.6,391.7L273.0,373.5L273.5,356.5L273.9,344.0L274.4,338.8L274.8,341.8L275.3,352.8L275.7,369.3L276.2,388.5L276.6,406.9L277.1,420.6L277.5,427.3L278.0,425.2L278.4,414.8L278.9,398.4L279.3,379.9L279.8,361.1L280.2,347.1L280.7,339.3L281.1,339.3L281.6,347.8L282.0,362.7L282.5,380.4L282.9,398.9L283.4,414.1L283.8,423.6L284.3,425.0L284.7,418.2L285.2,405.0L285.6,388.3L286.1,370.4L286.5,355.1L287.0,345.4L287.4,342.5L287.9,347.0L288.3,358.4L288.8,374.3L289.2,391.4L289.7,405.9L290.1,416.0L290.6,419.5L291.0,416.1L291.5,406.6L291.9,393.5L292.4,378.9L292.8,364.8L293.3,354.8L293.7,350.3L294.2,352.5L294.6,360.0L295.1,371.1L295.5,383.3L296.0,393.9L296.4,400.6L296.9,402.8L297.3,400.8L297.8,395.8L298.2,389.6L298.7,383.4L299.1,378.7L299.6,376.1L300.0,375.0L300.5,375.4L300.9,376.8L301.4,378.9L301.8,381.8L302.3,384.8L302.7,387.8L303.2,389.9L303.6,390.6L304.1,389.8L304.5,387.6L305.0,384.4L305.4,380.8L305.9,377.3L306.3,374.8L306.8,373.8L307.2,374.4L307.7,376.6L308.1,380.0L308.6,384.0L309.0,387.8L309.5,390.8L309.9,392.3L310.4,392.1L310.8,390.1L311.3,386.8L311.7,382.6L312.2,378.2L312.6,374.9L313.1,372.8L313.5,372.6L314.0,374.2L314.4,377.5L314.9,381.8L315.3,386.4L315.8,390.2L316.2,392.6L316.7,393.2L317.1,391.8L317.6,388.7L318.0,384.4L318.5,379.8L318.9,375.8L319.4,373.2L319.8,372.2L320.3,373.2L320.7,376.1L321.2,380.1L321.6,384.6L322.1,388.6L322.5,391.8L323.0,393.1L323.4,392.7L323.9,390.3L324.3,386.5L324.8,382.1L325.2,377.8L325.7,374.4L326.1,372.5L326.6,372.4L327.0,374.2L327.5,377.6L327.9,382.0L328.4,386.5L328.8,390.5L329.3,393.3L329.7,394.5L330.2,393.7L330.6,390.4L331.1,385.2L331.5,378.6L332.0,371.8L332.4,366.2L332.9,363.1L333.3,363.9L333.8,368.6L334.2,376.6L334.7,386.9L335.1,397.6L335.6,407.0L336.0,412.2L336.5,411.8L336.9,406.0L337.4,394.9L337.8,380.1L338.3,366.3L338.7,353.9L339.2,346.9L339.6,346.5L340.1,352.8L340.5,365.0L341.0,380.4L341.4,396.7L341.9,411.5L342.3,420.8L342.8,422.8L343.2,417.4L343.7,405.9L344.1,389.6L344.6,371.5L345.0,355.2L345.5,343.8L345.9,339.6L346.4,343.3L346.8,354.5L347.3,371.8L347.7,391.8L348.2,409.5L348.6,422.2L349.1,427.9L349.5,425.2L350.0,414.7L350.4,397.9L350.9,378.6L351.3,359.2L351.8,344.4L352.2,336.7L352.7,337.7L353.1,346.9L353.6,362.7L354.0,382.4L354.5,402.1L354.9,418.4L355.4,428.0L355.8,429.1L356.3,421.6L356.7,407.4L357.2,388.5L357.6,368.6L358.1,352.0L358.5,340.4L359.0,336.8L359.4,341.9L359.9,354.4L360.3,372.0L360.8,391.1L361.2,408.8L361.7,421.3L362.1,426.7L362.6,423.9L363.0,413.5L363.5,397.4L363.9,378.9L364.4,361.5L364.8,347.9L365.3,341.4L365.7,342.4L366.2,350.9L366.6,365.4L367.1,382.9L367.5,399.8L368.0,413.4L368.4,421.3L368.9,421.7L369.3,414.7L369.8,402.4L370.2,386.0L370.7,368.9L371.1,354.8L371.6,346.4L372.0,344.9L372.5,350.4L372.9,361.9L373.4,376.2L373.8,392.5L374.3,406.2L374.7,415.7L375.2,419.2L375.6,415.9L376.1,406.4L376.5,392.5L377.0,376.4L377.4,361.7L377.9,351.7L378.3,347.6L378.8,349.9L379.2,358.1L379.7,371.0L380.1,386.0L380.6,400.1L381.0,411.0L381.5,416.1L381.9,415.0L382.4,407.8L382.8,395.8L383.3,381.4L383.7,367.5L384.2,356.9L384.6,351.1L385.1,351.3L385.5,357.0L386.0,367.7L386.4,380.9L386.9,394.3L387.3,405.0L387.8,411.8L388.2,413.1L388.7,408.9L389.1,400.5L389.6,388.6L390.0,375.5L390.5,364.1L390.9,356.6L391.4,354.0L391.8,356.8L392.3,363.9L392.7,374.6L393.2,386.7L393.6,397.9L394.1,406.0L394.5,409.3L395.0,407.3L395.4,400.7L395.9,390.9L396.3,380.0L396.8,369.8L397.2,362.3L397.7,358.8L398.1,360.2L398.6,365.7L399.0,374.2L399.5,384.2L399.9,393.3L400.4,400.2L400.8,403.4L401.3,402.7L401.7,398.4L402.2,391.2L402.6,382.6L403.1,374.9L403.5,368.9L404.0,365.5L404.4,365.4L404.9,368.4L405.3,374.1L405.8,381.0L406.2,387.9L406.7,393.3L407.1,396.6L407.6,397.1L408.0,394.8L408.5,390.5L408.9,385.2L409.4,379.6L409.8,375.1L410.3,372.2L410.7,371.6L411.2,373.0L411.6,376.1L412.1,380.1L412.5,384.2L413.0,387.6L413.4,389.8L413.9,390.5L414.3,389.7L414.8,387.6L415.2,384.8L415.7,381.8L416.1,379.1L416.6,377.2L417.0,376.4L417.5,376.8L417.9,378.3L418.4,380.5L418.8,382.9L419.3,385.2L419.7,387.1L420.2,388.0L420.6,388.0L421.1,387.0L421.5,385.2L422.0,383.0L422.4,380.8L422.9,379.1L423.3,378.0L423.8,377.8L424.2,378.6L424.7,380.0L425.1,382.0L425.6,384.0L426.0,385.8L426.5,387.0L426.9,387.4L427.4,387.0L427.8,385.8L428.3,383.9L428.7,381.6L429.2,379.3L429.6,377.3L430.1,376.2L430.5,376.2L431.0,377.7L431.4,380.4L431.9,384.1L432.3,387.9L432.8,391.1L433.2,393.1L433.7,392.9L434.1,390.5L434.6,386.3L435.0,381.4L435.5,376.0L435.9,371.7L436.4,369.2L436.8,369.3L437.3,372.0L437.7,376.7L438.2,383.1L438.6,389.6L439.1,395.1L439.5,398.6L440.0,399.3L440.4,397.0L440.9,391.6L441.3,384.3L441.8,376.2L442.2,369.0L442.7,364.5L443.1,363.2L443.6,365.5L444.0,371.0L444.5,378.9L444.9,388.0L445.4,396.1L445.8,402.3L446.3,405.0L446.7,403.6L447.2,398.1L447.6,389.6L448.1,379.4L448.5,369.6L449.0,361.9L449.4,357.9L449.9,358.2L450.3,363.6L450.8,373.1L451.2,384.8L451.7,396.3L452.1,405.3L452.6,410.4L453.0,410.2L453.5,404.8L453.9,395.0L454.4,382.5L454.8,369.7L455.3,358.9L455.7,352.4L456.2,351.1L456.6,356.3L457.1,366.6L457.5,380.2L458.0,395.0L458.4,407.9L458.9,416.1L459.3,418.5L459.8,413.9L460.2,403.2L460.7,388.2L461.1,371.1L461.6,356.5L462.0,346.2L462.5,342.6L462.9,346.7L463.4,357.2L463.8,372.9L464.3,391.0L464.7,408.5L465.2,421.4L465.6,427.1L466.1,424.4L466.5,413.4L467.0,396.6L467.4,377.0L467.9,357.4L468.3,342.7L468.8,335.1L469.2,335.7L469.7,344.8L470.1,361.2L470.6,382.4L471.0,404.1L471.5,422.4L471.9,432.7L472.4,433.9L472.8,425.8L473.3,409.8L473.7,388.8L474.2,365.6L474.6,345.8L475.1,332.7L475.5,328.2L476.0,334.0L476.4,349.4L476.9,371.1L477.3,395.7L477.8,417.8L478.2,433.9L478.7,439.9L479.1,435.0L479.6,419.9L480.0,398.5L480.5,373.3L480.9,349.6L481.4,331.7L481.8,323.4L482.3,326.1L482.7,339.7L483.2,360.9L483.6,385.9L484.1,411.3L484.5,431.7L485.0,443.0L485.4,443.2L485.9,432.3L486.3,411.5L486.8,385.7L487.2,358.9L487.7,335.9L488.1,321.8L488.6,320.0L489.0,329.8L489.5,349.1L489.9,375.6L490.4,402.4L490.8,426.1L491.3,441.9L491.7,446.6L492.2,439.8L492.6,422.5L493.1,398.9L493.5,372.1L494.0,346.6L494.4,327.6L494.9,319.0L495.3,322.0L495.8,336.1L496.2,359.5L496.7,387.2L497.1,413.8L497.6,434.2L498.0,445.5L498.5,444.8L498.9,433.0L499.4,412.0L499.8,384.3L500.3,357.2L500.7,334.7L501.2,322.1L501.6,320.8L502.1,331.1L502.5,351.0L503.0,378.2L503.4,405.1L503.9,426.8L504.3,440.3L504.8,442.9L505.2,433.7L505.7,415.4L506.1,392.2L506.6,366.8L507.0,344.5L507.5,329.7L507.9,325.1L508.4,331.7L508.8,348.1L509.3,369.8L509.7,394.6L510.2,417.2L510.6,432.0L511.1,437.1L511.5,431.9L512.0,416.8L512.4,396.5L512.9,373.7L513.3,352.6L513.8,337.6L514.2,331.6L514.7,335.2L515.1,347.5L515.6,366.2L516.0,387.5L516.5,407.0L516.9,422.1L517.4,429.6L517.8,428.1L518.3,418.2L518.7,401.8L519.2,382.9L519.6,363.9L520.1,349.4L520.5,340.9L521.0,340.9L521.4,349.4L521.9,363.6L522.3,381.3L522.8,398.4L523.2,412.1L523.7,420.1L524.1,420.6L524.6,413.9L525.0,401.8L525.5,385.9L525.9,370.4L526.4,357.8L526.8,350.0L527.3,348.6L527.7,353.6L528.2,364.0L528.6,377.3L529.1,390.7L529.5,403.1L530.0,411.2L530.4,413.6L530.9,410.2L531.3,401.6L531.8,389.9L532.2,377.4L532.7,366.0L533.1,357.8L533.6,354.8L534.0,356.9L534.5,363.7L534.9,373.6L535.4,385.5L535.8,396.1L536.3,403.8L536.7,407.6L537.2,406.6L537.6,401.0L538.1,392.4L538.5,382.1L539.0,372.2L539.4,364.9L539.9,361.1L540.3,361.4L540.8,365.6L541.2,372.7L541.7,381.4L542.1,389.9L542.6,396.6L543.0,400.3L543.5,400.6L543.9,397.5L544.4,391.7L544.8,384.6L545.3,378.0L545.7,372.8L546.2,370.5L546.6,370.7L547.1,373.1L547.5,377.0L548.0,381.4L548.4,384.9L548.9,387.4L549.3,388.7L549.8,388.6L550.2,387.5L550.7,385.8L551.1,383.8L551.6,381.8L552.0,380.2L552.5,379.2L552.9,378.9L553.4,379.4L553.8,380.3L554.3,381.7L554.7,383.1L555.2,384.3L555.6,385.2L556.1,385.5L556.5,385.4L557.0,384.8L557.4,384.0L557.9,382.7L558.3,379.9L558.8,375.8L559.2,371.2L559.7,368.0L560.1,367.9L560.6,372.5L561.0,381.6L561.5,393.4L561.9,405.1L562.4,413.5L562.8,416.0L563.3,412.1L563.7,401.8L564.2,387.6L564.6,371.4L565.1,356.9L565.5,346.4L566.0,342.6L566.4,346.4L566.9,358.0L567.3,374.5L567.8,393.9L568.2,411.4L568.7,423.4L569.1,428.2L569.6,424.4L570.0,412.5L570.5,394.6L570.9,374.1L571.4,355.3L571.8,340.6L572.3,333.6L572.7,335.3L573.2,345.9L573.6,363.3L574.1,384.9L574.5,406.5L575.0,423.3L575.4,433.0L575.9,433.9L576.3,425.9L576.8,409.9L577.2,387.6L577.7,365.5L578.1,345.9L578.6,333.8L579.0,330.5L579.5,337.1L579.9,352.1L580.4,373.1L580.8,396.1L581.3,415.4L581.7,428.1L582.2,432.0L582.6,426.6L583.1,413.4L583.5,394.3L584.0,374.0L584.4,355.3L584.9,343.6L585.3,338.8L585.8,342.3L586.2,353.2L586.7,368.8L587.1,386.6L587.6,402.5L588.0,414.8L588.5,420.7L588.9,418.8L589.4,410.5L589.8,397.6L590.3,382.3L590.7,367.3L591.2,356.4L591.6,350.7L592.1,351.2L592.5,357.7L593.0,368.2L593.4,380.6L593.9,392.3L594.3,401.8L594.8,407.1L595.2,408.0L595.7,404.2L596.1,396.6L596.6,386.7L597.0,376.8L597.5,369.1L597.9,364.1L598.4,362.9L598.8,365.3L599.3,370.7L599.7,378.0L600.2,385.7L600.6,393.1L601.1,398.1L601.5,400.6L602.0,399.8L602.4,395.8L602.9,389.4L603.3,381.6L603.8,374.1L604.2,368.1L604.7,365.1L605.1,365.2L605.6,368.4L606.0,374.4L606.5,382.0L606.9,389.6L607.4,395.9L607.8,399.9L608.3,400.5L608.7,397.9L609.2,392.1L609.6,384.3L610.1,376.6L610.5,369.6L611.0,364.6L611.4,363.3L611.9,365.7L612.3,371.4L612.8,379.5L613.2,388.7L613.7,397.1L614.1,403.4L614.6,405.9L615.0,404.1L615.5,398.3L615.9,389.0L616.4,378.4L616.8,368.0L617.3,359.8L617.7,356.1L618.2,357.5L618.6,363.8L619.1,373.9L619.5,385.7L620.0,397.0L620.4,405.8L620.9,409.9L621.3,408.9L621.8,402.9L622.2,393.4L622.7,382.1L623.1,371.4L623.6,362.9L624.0,358.5L624.5,358.7L624.9,363.3L625.4,370.9L625.8,380.4L626.3,389.6L626.7,397.5L627.2,402.4L627.6,403.2L628.1,400.4L628.5,394.5L629.0,386.3L629.4,378.0L629.9,370.9L630.3,366.1L630.8,364.6L631.2,366.7L631.7,371.7L632.1,378.8L632.6,386.8L633.0,393.7L633.5,398.6L633.9,400.7L634.4,399.4L634.8,395.0L635.3,388.3L635.7,380.1L636.2,373.0L636.6,367.5L637.1,364.8L637.5,365.6L638.0,369.7L638.4,376.1L638.9,383.6L639.3,390.9L639.8,397.1L640.2,401.2L640.7,402.1L641.1,399.5L641.6,393.4L642.0,384.2L642.5,373.5L642.9,363.6L643.4,356.3L643.8,353.4L644.3,355.8L644.7,364.4L645.2,376.5L645.6,391.2L646.1,405.4L646.5,415.6L647.0,419.9L647.4,417.2L647.9,407.9L648.3,393.5L648.8,377.5L649.2,361.3L649.7,349.0L650.1,342.6L650.6,343.5L651.0,352.2L651.5,367.1L651.9,384.8L652.4,402.9L652.8,417.5L653.3,425.2L653.7,424.6L654.2,416.0L654.6,401.0L655.1,381.9L655.5,363.7L656.0,348.3L656.4,339.4L656.9,338.5L657.3,345.4L657.8,359.2L658.2,377.7L658.7,397.4L659.1,414.3L659.6,424.6L660.0,427.0L660.5,421.3L660.9,408.2L661.4,390.7L661.8,371.7L662.3,354.7L662.7,344.0L663.2,340.8L663.6,345.0L664.1,355.7L664.5,371.0L665.0,388.9L665.4,404.7L665.9,415.6L666.3,420.5L666.8,418.0L667.2,409.1L667.7,395.7L668.1,380.4L668.6,365.8L669.0,354.8L669.5,349.5L669.9,350.8L670.4,358.4L670.8,370.5L671.3,384.2L671.7,396.3L672.2,405.6L672.6,410.2L673.1,409.3L673.5,403.5L674.0,394.4L674.4,384.0L674.9,373.8L675.3,366.3L675.8,362.7L676.2,363.1L676.7,367.2L677.1,373.7L677.6,380.8L678.0,387.6L678.5,392.8L678.9,395.6L679.4,395.8L679.8,393.5L680.3,389.7L680.7,385.1L681.2,380.3L681.6,376.7L682.1,374.6L682.5,374.2L683.0,375.4L683.4,377.8L683.9,380.7L684.3,383.6L684.8,385.7L685.2,387.0L685.7,387.3L686.1,386.7L686.6,385.5L687.0,384.0L687.5,382.4L687.9,381.2L688.4,380.3L688.8,379.9L689.3,380.0L689.7,380.4L690.2,381.4L690.6,382.8L691.1,384.6L691.5,386.5L692.0,388.1L692.4,388.9L692.9,388.4L693.3,386.4L693.8,383.0L694.2,378.7L694.7,374.4L695.1,371.4L695.6,370.3L696.0,371.5L696.5,375.1L696.9,381.1L697.4,387.7L697.8,394.3L698.3,399.3L698.7,401.3L699.2,399.6L699.6,394.3L700.1,386.2L700.5,376.4L701.0,366.9L701.4,359.7L701.9,356.5L702.3,358.3L702.8,364.8L703.2,375.7L703.7,388.3L704.1,400.9L704.6,410.7L705.0,415.3L705.5,413.7L705.9,406.3L706.4,393.6L706.8,378.9L707.3,364.3L707.7,353.2L708.2,347.9L708.6,348.6L709.1,355.7L709.5,368.4L710.0,383.5L710.4,398.4L710.9,410.0L711.3,417.0L711.8,417.1L712.2,410.6L712.7,399.0L713.1,384.7L713.6,369.3L714.0,356.1L714.5,348.7L714.9,347.9L715.4,353.9L715.8,365.0L716.3,380.0L716.7,394.8L717.2,407.6L717.6,415.9L718.1,417.8L718.5,413.0L719.0,402.3L719.4,388.3L719.9,373.5L720.3,360.0L720.8,351.1L721.2,348.1L721.7,351.2L722.1,360.1L722.6,372.5L723.0,386.4L723.5,399.1L723.9,408.9L724.4,413.5L724.8,411.9L725.3,405.2L725.7,394.6L726.2,381.9L726.6,370.2L727.1,361.3L727.5,356.5L728.0,357.0L728.4,362.0L728.9,370.3L729.3,381.0L729.8,391.6L730.2,400.0L730.7,405.3L731.1,406.5L731.6,403.1L732.0,396.1L732.5,386.5L732.9,376.2L733.4,367.7L733.8,361.7L734.3,359.6L734.7,361.9L735.2,367.6L735.6,376.3L736.1,386.3L736.5,395.7L737.0,402.0L737.4,405.1L737.9,403.7L738.3,398.4L738.8,389.9L739.2,380.1L739.7,371.0L740.1,364.3L740.6,360.9L741.0,361.5L741.5,365.8L741.9,373.9L742.4,383.4L742.8,393.1L743.3,400.4L743.7,405.0L744.2,405.4L744.6,401.1L745.1,393.2L745.5,382.8L746.0,371.4L746.4,361.4L746.9,354.3L747.3,351.7L747.8,355.0L748.2,364.0L748.7,377.7L749.1,394.3L749.6,409.7L750.0,420.5L750.5,424.7L750.9,420.8L751.4,409.2L751.8,391.1L752.3,371.1L752.7,351.8L753.2,337.7L753.6,331.1L754.1,334.7L754.5,347.4L755.0,367.6L755.4,390.9L755.9,413.4L756.3,431.2L756.8,441.0L757.2,439.1L757.7,425.9L758.1,404.5L758.6,377.4L759.0,351.1L759.5,329.4L759.9,317.8L760.4,318.5L760.8,331.7L761.3,354.6L761.7,383.3L762.2,411.6L762.6,436.0L763.1,450.5L763.5,453.0L764.0,442.6L764.4,420.5L764.9,391.0L765.3,361.0L765.8,334.6L766.2,317.0L766.7,311.4L767.1,320.0L767.6,340.7L768.0,368.7L768.5,400.2L768.9,426.3L769.4,445.5L769.8,451.8L770.3,446.1L770.7,427.3L771.2,400.1L771.6,371.6L772.1,344.8L772.5,325.7L773.0,317.5L773.4,321.3L773.9,336.1L774.3,359.7L774.8,387.1L775.2,413.6L775.7,433.1L776.1,443.0L776.6,440.8L777.0,427.8L777.5,407.7L777.9,383.4L778.4,358.4L778.8,339.9L779.3,329.3L779.7,329.3L780.2,338.9L780.6,356.1L781.1,377.4L781.5,398.5L782.0,416.2L782.4,426.4L782.9,427.9L783.3,421.2L783.8,407.7L784.2,390.6L784.7,372.7L785.1,357.5L785.6,348.8L786.0,347.2L786.5,352.2L786.9,362.2L787.4,374.9L787.8,388.0L788.3,399.3L788.7,406.5L789.2,408.7L789.6,405.7L790.1,398.9L790.5,390.2L791.0,380.9L791.4,373.5L791.9,368.9L792.3,367.9L792.8,369.9L793.2,373.9L793.7,378.7L794.1,383.5L794.6,386.9L795.0,389.1L795.5,389.7L795.9,389.1L796.4,387.5L796.8,385.0L797.3,382.5L797.7,380.1L798.2,378.5L798.6,377.7L799.1,377.9L799.5,378.9L800.0,380.6L800.4,382.5L800.9,384.2L801.3,385.6L801.8,386.3L802.2,386.3L802.7,385.6L803.1,384.5L803.6,383.1L804.0,381.7L804.5,380.6L804.9,379.9L805.4,379.8L805.8,380.2L806.3,381.1L806.7,382.2L807.2,383.4L807.6,384.5L808.1,385.3L808.5,385.6L809.0,385.4L809.4,384.7L809.9,383.5L810.3,382.0L810.8,380.5L811.2,379.1L811.7,378.3L812.1,378.3L812.6,379.2L813.0,381.0L813.5,383.3L813.9,385.8L814.4,388.0L814.8,389.5L815.3,389.8L815.7,388.6L816.2,386.2L816.6,382.9L817.1,379.0L817.5,375.6L818.0,373.3L818.4,372.9L818.9,374.3L819.3,377.4L819.8,382.0L820.2,387.0L820.7,391.5L821.1,394.5L821.6,395.5L822.0,394.1L822.5,390.1L822.9,384.5L823.4,378.2L823.8,372.3L824.3,367.9L824.7,366.2L825.2,367.7L825.6,372.1L826.1,378.9L826.5,386.4L827.0,393.7L827.4,399.4L827.9,402.0L828.3,400.9L828.8,396.1L829.2,388.6L829.7,380.0L830.1,371.5L830.6,365.5L831.0,362.8L831.5,363.9L831.9,368.6L832.4,375.8L832.8,384.3L833.3,392.4L833.7,398.4L834.2,401.8L834.6,401.5L835.1,397.8L835.5,391.6L836.0,383.7L836.4,375.7L836.9,369.1L837.3,365.2L837.8,364.6L838.2,367.3L838.7,372.7L839.1,380.2L839.6,387.7L840.0,394.1L840.5,398.3L840.9,399.5L841.4,397.5L841.8,392.8L842.3,386.2L842.7,379.7L843.2,373.8L843.6,370.0L844.1,368.7L844.5,370.1L845.0,373.6L845.4,378.4L845.9,383.4L846.3,387.6L846.8,390.5L847.2,391.5L847.7,390.8L848.1,388.7L848.6,385.8L849.0,382.8L849.5,380.0L849.9,377.9L850.4,376.7L850.8,376.7L851.3,377.8L851.7,379.8L852.2,382.2L852.6,384.5L853.1,386.4L853.5,387.5L854.0,387.8L854.4,387.1L854.9,385.5L855.3,383.6L855.8,381.5L856.2,379.7L856.7,378.5L857.1,378.0L857.6,378.4L858.0,379.7L858.5,381.5L858.9,383.7L859.4,385.5L859.8,386.9L860.3,387.4L860.7,387.1L861.2,385.9L861.6,384.2L862.1,382.3L862.5,380.3L863.0,378.8L863.4,378.1L863.9,378.2L864.3,379.1L864.8,380.7L865.2,382.7L865.7,384.6L866.1,386.3L866.6,387.2L867.0,387.3L867.5,386.6L867.9,385.1L868.4,383.2L868.8,381.1L869.3,379.4L869.7,378.3L870.2,378.0L870.6,378.6L871.1,380.0L871.5,381.9L872.0,383.8L872.4,385.6L872.9,386.9L873.3,387.3L873.8,386.9L874.2,385.7L874.7,384.1L875.1,382.2L875.6,380.5L876.0,379.2L876.5,378.7L876.9,378.8" stroke="#1f77b4"/>
<path d="M115.5,382.0L116.0,381.7L116.4,381.6L116.9,381.5L117.3,381.5L117.8,381.4L118.2,381.7L118.7,381.3L119.1,382.4L119.6,382.9L120.0,383.2L120.5,383.2L120.9,384.0L121.4,383.4L121.8,383.5L122.3,383.3L122.7,383.2L123.2,383.0L123.6,382.8L124.1,382.9L124.5,383.2L125.0,383.2L125.4,383.0L125.9,383.4L126.3,383.5L126.8,383.2L127.2,383.4L127.7,383.6L128.1,383.4L128.6,382.0L129.0,382.0L129.5,381.6L129.9,381.1L130.4,381.0L130.8,381.1L131.3,381.6L131.7,381.6L132.2,382.6L132.6,382.4L133.1,383.6L133.5,383.4L134.0,383.7L134.4,382.9L134.9,382.9L135.3,382.8L135.8,382.3L136.2,381.5L136.7,381.6L137.1,381.5L137.6,381.5L138.0,382.7L138.5,383.1L138.9,383.1L139.4,384.1L139.8,384.3L140.3,384.0L140.7,384.3L141.2,384.1L141.6,383.2L142.1,382.0L142.5,381.0L143.0,380.7L143.4,380.8L143.9,381.8L144.3,382.6L144.8,383.3L145.2,383.7L145.7,384.9L146.1,384.6L146.6,384.2L147.0,384.3L147.5,384.2L147.9,383.0L148.4,382.1L148.8,382.3L149.3,382.0L149.7,381.1L150.2,381.3L150.6,381.7L151.1,381.9L151.5,382.5L152.0,383.6L152.4,384.3L152.9,384.1L153.3,384.1L153.8,384.0L154.2,383.3L154.7,382.9L155.1,382.7L155.6,381.9L156.0,381.7L156.5,381.3L156.9,380.7L157.4,381.6L157.8,382.2L158.3,382.4L158.7,382.7L159.2,383.2L159.6,382.5L160.1,382.3L160.5,382.1L161.0,381.3L161.4,381.4L161.9,380.9L162.3,380.4L162.8,380.4L163.2,381.3L163.7,381.1L164.1,382.5L164.6,383.2L165.0,383.6L165.5,384.0L165.9,384.9L166.4,384.1L166.8,384.2L167.3,383.4L167.7,383.1L168.2,381.9L168.6,381.5L169.1,381.6L169.5,382.0L170.0,382.1L170.4,383.6L170.9,384.4L171.3,384.2L171.8,384.8L172.2,384.6L172.7,384.2L173.1,384.2L173.6,383.7L174.0,382.7L174.5,382.4L174.9,381.5L175.4,380.6L175.8,380.9L176.3,380.7L176.7,381.1L177.2,381.6L177.6,382.6L178.1,383.1L178.5,383.7L179.0,384.1L179.4,383.9L179.9,383.3L180.3,382.1L180.8,381.4L181.2,380.6L181.7,379.9L182.1,379.9L182.6,380.9L183.0,382.0L183.5,383.1L183.9,384.1L184.4,384.5L184.8,385.1L185.3,385.1L185.7,384.9L186.2,384.5L186.6,384.5L187.1,383.5L187.5,382.8L188.0,381.8L188.4,381.4L188.9,381.1L189.3,381.3L189.8,382.2L190.2,383.0L190.7,384.8L191.1,385.9L191.6,387.0L192.0,387.0L192.5,386.6L192.9,385.6L193.4,383.9L193.8,381.3L194.3,379.2L194.7,377.8L195.2,377.2L195.6,377.8L196.1,379.9L196.5,382.1L197.0,384.9L197.4,387.1L197.9,389.6L198.3,390.0L198.8,390.1L199.2,388.3L199.7,385.0L200.1,381.4L200.6,378.2L201.0,375.7L201.5,374.4L201.9,374.7L202.4,376.6L202.8,379.8L203.3,383.6L203.7,387.4L204.2,390.4L204.6,391.9L205.1,391.7L205.5,389.9L206.0,386.4L206.4,382.2L206.9,377.9L207.3,374.4L207.8,372.5L208.2,372.5L208.7,374.4L209.1,378.0L209.6,382.5L210.0,387.2L210.5,391.2L210.9,393.6L211.4,394.1L211.8,392.5L212.3,389.0L212.7,384.3L213.2,379.1L213.6,374.6L214.1,371.5L214.5,370.3L215.0,371.4L215.4,374.5L215.9,379.4L216.3,384.9L216.8,390.2L217.2,394.0L217.7,395.8L218.1,395.2L218.6,392.4L219.0,387.6L219.5,382.0L219.9,376.3L220.4,371.7L220.8,369.2L221.3,369.3L221.7,372.0L222.2,376.7L222.6,382.6L223.1,388.3L223.5,393.2L224.0,396.1L224.4,396.5L224.9,394.3L225.3,389.9L225.8,384.0L226.2,378.0L226.7,373.1L227.1,369.9L227.6,369.0L228.0,370.4L228.5,374.0L228.9,379.4L229.4,385.2L229.8,390.3L230.3,393.9L230.7,395.5L231.2,394.5L231.6,391.4L232.1,386.8L232.5,381.5L233.0,376.5L233.4,372.9L233.9,371.3L234.3,371.8L234.8,374.3L235.2,378.3L235.7,383.0L236.1,387.3L236.6,390.8L237.0,392.6L237.5,392.5L237.9,390.6L238.4,387.2L238.8,383.2L239.3,379.1L239.7,375.9L240.2,374.1L240.6,373.8L241.1,375.1L241.5,377.9L242.0,381.3L242.4,385.1L242.9,388.3L243.3,390.5L243.8,391.2L244.2,390.3L244.7,387.9L245.1,384.6L245.6,380.8L246.0,377.4L246.5,374.7L246.9,373.4L247.4,374.0L247.8,376.3L248.3,379.9L248.7,384.3L249.2,388.6L249.6,392.1L250.1,393.9L250.5,393.6L251.0,391.1L251.4,386.9L251.9,381.6L252.3,376.1L252.8,371.2L253.2,368.3L253.7,368.0L254.1,370.5L254.6,375.6L255.0,382.7L255.5,390.8L255.9,397.8L256.4,402.6L256.8,403.9L257.3,401.0L257.7,394.6L258.2,385.1L258.6,374.4L259.1,364.2L259.5,357.2L260.0,354.6L260.4,357.7L260.9,365.7L261.3,377.4L261.8,390.9L262.2,403.3L262.7,412.1L263.1,415.8L263.6,412.9L264.0,404.2L264.5,391.1L264.9,376.4L265.4,361.9L265.8,351.4L266.3,346.2L266.7,347.8L267.2,355.9L267.6,369.8L268.1,386.9L268.5,403.1L269.0,415.8L269.4,422.4L269.9,421.2L270.3,412.8L270.8,399.0L271.2,381.4L271.7,363.1L272.1,348.7L272.6,340.9L273.0,340.6L273.5,348.1L273.9,362.4L274.4,380.6L274.8,399.5L275.3,415.5L275.7,425.2L276.2,427.0L276.6,420.5L277.1,406.7L277.5,388.2L278.0,368.0L278.4,351.2L278.9,340.6L279.3,337.9L279.8,343.5L280.2,355.7L280.7,372.7L281.1,392.3L281.6,409.9L282.0,421.9L282.5,426.5L282.9,423.2L283.4,412.6L283.8,396.1L284.3,376.6L284.7,359.3L285.2,347.0L285.6,341.3L286.1,343.2L286.5,352.4L287.0,366.6L287.4,383.9L287.9,400.2L288.3,413.6L288.8,420.6L289.2,420.0L289.7,412.6L290.1,399.5L290.6,383.9L291.0,368.5L291.5,356.2L291.9,349.3L292.4,348.4L292.8,353.9L293.3,364.4L293.7,378.1L294.2,392.3L294.6,402.9L295.1,409.0L295.5,409.7L296.0,405.0L296.4,397.0L296.9,387.3L297.3,378.8L297.8,373.0L298.2,370.2L298.7,370.4L299.1,372.8L299.6,376.3L300.0,380.1L300.5,383.6L300.9,386.5L301.4,388.6L301.8,389.8L302.3,389.7L302.7,388.1L303.2,385.5L303.6,382.1L304.1,378.8L304.5,375.9L305.0,374.4L305.4,374.3L305.9,375.9L306.3,378.7L306.8,382.5L307.2,386.3L307.7,389.5L308.1,391.6L308.6,392.0L309.0,390.7L309.5,387.9L309.9,384.0L310.4,379.9L310.8,376.2L311.3,373.6L311.7,372.7L312.2,373.6L312.6,376.2L313.1,380.1L313.5,384.5L314.0,388.6L314.4,391.7L314.9,393.1L315.3,392.5L315.8,390.1L316.2,386.2L316.7,381.7L317.1,377.4L317.6,374.0L318.0,372.3L318.5,372.6L318.9,374.8L319.4,378.3L319.8,382.7L320.3,387.2L320.7,390.8L321.2,392.9L321.6,393.0L322.1,391.4L322.5,388.0L323.0,383.7L323.4,379.4L323.9,375.5L324.3,372.9L324.8,372.2L325.2,373.4L325.7,376.3L326.1,380.3L326.6,384.8L327.0,388.9L327.5,391.9L327.9,393.2L328.4,392.6L328.8,390.2L329.3,386.4L329.7,381.6L330.2,376.6L330.6,371.6L331.1,368.4L331.5,367.6L332.0,369.8L332.4,375.1L332.9,382.9L333.3,392.1L333.8,400.1L334.2,405.8L334.7,407.7L335.1,404.9L335.6,397.1L336.0,385.3L336.5,372.5L336.9,360.5L337.4,351.7L337.8,348.5L338.3,351.5L338.7,361.0L339.2,374.7L339.6,391.1L340.1,405.6L340.5,416.5L341.0,421.2L341.4,419.1L341.9,409.7L342.3,394.8L342.8,377.6L343.2,361.2L343.7,348.7L344.1,341.7L344.6,342.2L345.0,350.5L345.5,365.0L345.9,382.6L346.4,401.0L346.8,416.2L347.3,425.5L347.7,426.2L348.2,418.6L348.6,404.3L349.1,385.6L349.5,366.3L350.0,350.0L350.4,339.3L350.9,336.7L351.3,342.8L351.8,356.3L352.2,375.1L352.7,395.3L353.1,412.9L353.6,425.1L354.0,429.7L354.5,425.5L354.9,413.2L355.4,395.2L355.8,375.5L356.3,356.6L356.7,343.0L357.2,336.4L357.6,338.4L358.1,348.0L358.5,364.4L359.0,384.1L359.4,403.2L359.9,418.3L360.3,426.6L360.8,426.9L361.2,419.0L361.7,404.6L362.1,386.2L362.6,367.8L363.0,351.9L363.5,342.0L363.9,340.0L364.4,345.8L364.8,358.6L365.3,374.9L365.7,393.2L366.2,409.2L366.6,419.9L367.1,423.5L367.5,419.4L368.0,408.6L368.4,392.9L368.9,375.5L369.3,359.7L369.8,348.9L370.2,343.9L370.7,346.6L371.1,356.2L371.6,370.7L372.0,386.6L372.5,402.4L372.9,414.0L373.4,419.5L373.8,418.6L374.3,411.3L374.7,399.0L375.2,383.7L375.6,367.8L376.1,355.4L376.5,348.1L377.0,347.5L377.4,354.0L377.9,365.6L378.3,380.3L378.8,394.9L379.2,407.3L379.7,415.3L380.1,416.9L380.6,412.1L381.0,401.6L381.5,388.1L381.9,373.5L382.4,360.7L382.8,352.2L383.3,349.8L383.7,353.7L384.2,362.9L384.6,375.8L385.1,389.5L385.5,401.6L386.0,410.6L386.4,414.1L386.9,411.7L387.3,404.3L387.8,392.8L388.2,379.8L388.7,367.6L389.1,358.5L389.6,353.5L390.0,354.1L390.5,360.1L390.9,370.0L391.4,382.3L391.8,394.5L392.3,403.7L392.7,409.4L393.2,410.0L393.6,405.4L394.1,396.3L394.5,384.8L395.0,373.4L395.4,364.1L395.9,358.4L396.3,357.6L396.8,361.5L397.2,369.3L397.7,379.7L398.1,389.9L398.6,398.5L399.0,403.8L399.5,405.0L399.9,401.9L400.4,395.1L400.8,386.6L401.3,377.7L401.7,370.0L402.2,364.9L402.6,363.4L403.1,365.6L403.5,370.6L404.0,377.8L404.4,385.4L404.9,392.0L405.3,396.8L405.8,398.7L406.2,397.5L406.7,393.7L407.1,387.9L407.6,381.6L408.0,375.7L408.5,371.6L408.9,369.8L409.4,370.5L409.8,373.3L410.3,377.7L410.7,382.6L411.2,387.0L411.6,390.4L412.1,392.0L412.5,391.7L413.0,389.9L413.4,386.9L413.9,383.4L414.3,380.0L414.8,377.4L415.2,376.1L415.7,376.0L416.1,377.2L416.6,379.3L417.0,381.9L417.5,384.6L417.9,386.9L418.4,388.2L418.8,388.5L419.3,387.8L419.7,386.2L420.2,384.0L420.6,381.7L421.1,379.5L421.5,378.1L422.0,377.6L422.4,378.0L422.9,379.2L423.3,381.1L423.8,383.2L424.2,385.2L424.7,386.7L425.1,387.4L425.6,387.3L426.0,386.3L426.5,384.6L426.9,382.7L427.4,380.7L427.8,379.0L428.3,377.8L428.7,377.5L429.2,378.1L429.6,379.9L430.1,382.5L430.5,385.5L431.0,388.3L431.4,390.5L431.9,391.3L432.3,390.3L432.8,387.7L433.2,383.5L433.7,378.7L434.1,374.3L434.6,371.3L435.0,370.4L435.5,371.8L435.9,375.4L436.4,380.7L436.8,386.9L437.3,392.4L437.7,396.3L438.2,398.0L438.6,396.8L439.1,392.8L439.5,386.8L440.0,379.7L440.4,373.0L440.9,367.5L441.3,364.8L441.8,365.5L442.2,369.8L442.7,376.7L443.1,384.7L443.6,392.8L444.0,399.3L444.5,403.1L444.9,403.1L445.4,399.5L445.8,392.4L446.3,383.5L446.7,373.8L447.2,365.5L447.6,360.2L448.1,359.0L448.5,362.2L449.0,369.4L449.4,379.0L449.9,389.9L450.3,400.3L450.8,407.3L451.2,409.4L451.7,406.3L452.1,398.7L452.6,387.4L453.0,375.1L453.5,363.9L453.9,355.9L454.4,352.7L454.8,355.2L455.3,362.9L455.7,374.4L456.2,388.0L456.6,401.7L457.1,411.6L457.5,416.2L458.0,414.6L458.4,406.6L458.9,394.3L459.3,379.1L459.8,363.7L460.2,351.7L460.7,345.4L461.1,346.2L461.6,353.9L462.0,367.5L462.5,384.2L462.9,401.8L463.4,415.3L463.8,423.5L464.3,424.5L464.7,417.3L465.2,403.2L465.6,384.3L466.1,365.8L466.5,349.1L467.0,338.8L467.4,336.4L467.9,342.8L468.3,356.6L468.8,375.0L469.2,395.8L469.7,414.2L470.1,427.6L470.6,432.9L471.0,428.7L471.5,415.0L471.9,395.4L472.4,373.7L472.8,353.0L473.3,337.5L473.7,330.0L474.2,332.1L474.6,343.6L475.1,361.8L475.5,385.3L476.0,408.2L476.4,426.8L476.9,437.2L477.3,437.2L477.8,426.9L478.2,407.4L478.7,383.2L479.1,358.6L479.6,338.3L480.0,326.6L480.5,324.8L480.9,333.9L481.4,352.4L481.8,376.0L482.3,402.7L482.7,425.0L483.2,439.3L483.6,443.5L484.1,436.8L484.5,419.8L485.0,396.1L485.4,369.2L485.9,345.0L486.3,327.2L486.8,320.1L487.2,324.5L487.7,340.4L488.1,365.6L488.6,392.4L489.0,417.9L489.5,436.8L489.9,446.1L490.4,443.4L490.8,429.6L491.3,406.9L491.7,380.2L492.2,353.9L492.6,332.6L493.1,320.8L493.5,319.6L494.0,329.9L494.4,350.2L494.9,376.5L495.3,403.0L495.8,426.5L496.2,442.3L496.7,446.5L497.1,438.6L497.6,420.7L498.0,394.9L498.5,367.5L498.9,343.3L499.4,326.1L499.8,319.1L500.3,324.6L500.7,341.5L501.2,365.5L501.6,393.3L502.1,418.1L502.5,436.3L503.0,444.5L503.4,440.1L503.9,425.2L504.3,402.5L504.8,376.1L505.2,350.8L505.7,332.7L506.1,324.1L506.6,326.0L507.0,338.4L507.5,358.9L507.9,384.3L508.4,408.5L508.8,427.6L509.3,437.4L509.7,437.2L510.2,426.0L510.6,406.7L511.1,383.5L511.5,360.5L512.0,341.5L512.4,331.5L512.9,330.8L513.3,340.0L513.8,357.3L514.2,378.6L514.7,400.6L515.1,418.6L515.6,429.7L516.0,431.7L516.5,424.9L516.9,410.3L517.4,390.5L517.8,370.5L518.3,352.9L518.7,341.1L519.2,337.6L519.6,342.3L520.1,354.1L520.5,371.5L521.0,391.1L521.4,408.3L521.9,419.4L522.3,423.4L522.8,419.6L523.2,409.0L523.7,393.3L524.1,377.1L524.6,361.6L525.0,350.9L525.5,346.4L525.9,349.0L526.4,357.6L526.8,370.7L527.3,385.9L527.7,399.8L528.2,410.2L528.6,415.0L529.1,414.0L529.5,407.1L530.0,395.8L530.4,382.5L530.9,369.6L531.3,359.3L531.8,354.0L532.2,354.0L532.7,359.2L533.1,369.0L533.6,380.5L534.0,392.7L534.5,402.2L534.9,407.9L535.4,409.0L535.8,405.0L536.3,397.3L536.7,387.0L537.2,376.0L537.6,366.6L538.1,360.7L538.5,359.1L539.0,362.1L539.4,368.6L539.9,377.6L540.3,387.2L540.8,395.4L541.2,400.9L541.7,402.9L542.1,401.1L542.6,396.0L543.0,388.8L543.5,380.6L543.9,373.5L544.4,368.6L544.8,366.9L545.3,368.5L545.7,372.7L546.2,378.1L546.6,383.7L547.1,388.2L547.5,391.0L548.0,391.7L548.4,390.6L548.9,388.3L549.3,385.4L549.8,382.6L550.2,380.3L550.7,378.8L551.1,378.2L551.6,378.4L552.0,379.4L552.5,380.9L552.9,382.5L553.4,384.1L553.8,385.2L554.3,385.8L554.7,385.8L555.2,385.3L555.6,384.3L556.1,383.1L556.5,381.9L557.0,380.9L557.4,379.8L557.9,378.3L558.3,377.0L558.8,377.1L559.2,380.0L559.7,385.7L560.1,393.7L560.6,401.9L561.0,407.7L561.5,408.5L561.9,403.3L562.4,392.6L562.8,378.4L563.3,364.4L563.7,352.7L564.2,346.5L564.6,347.0L565.1,354.3L565.5,367.6L566.0,384.6L566.4,401.6L566.9,416.4L567.3,424.5L567.8,424.6L568.2,416.2L568.7,401.5L569.1,382.6L569.6,362.9L570.0,346.7L570.5,336.8L570.9,335.6L571.4,342.7L571.8,357.7L572.3,376.7L572.7,398.4L573.2,417.0L573.6,429.5L574.1,433.7L574.5,428.2L575.0,414.6L575.4,395.3L575.9,373.4L576.3,353.3L576.8,338.0L577.2,330.5L577.7,333.1L578.1,345.2L578.6,363.7L579.0,386.3L579.5,407.8L579.9,424.5L580.4,433.2L580.8,431.8L581.3,421.1L581.7,403.4L582.2,382.7L582.6,361.9L583.1,345.9L583.5,337.0L584.0,337.1L584.4,346.1L584.9,360.7L585.3,379.3L585.8,398.3L586.2,413.2L586.7,421.9L587.1,423.3L587.6,417.5L588.0,405.3L588.5,388.6L588.9,371.7L589.4,358.2L589.8,349.5L590.3,347.1L590.7,351.5L591.2,361.3L591.6,374.4L592.1,388.8L592.5,401.3L593.0,409.2L593.4,411.9L593.9,409.3L594.3,402.1L594.8,392.4L595.2,381.0L595.7,371.1L596.1,363.7L596.6,360.4L597.0,361.6L597.5,366.5L597.9,374.2L598.4,383.1L598.8,391.1L599.3,397.2L599.7,400.6L600.2,400.7L600.6,397.4L601.1,392.0L601.5,384.8L602.0,377.1L602.4,370.4L602.9,366.0L603.3,364.7L603.8,366.9L604.2,372.1L604.7,378.9L605.1,386.7L605.6,393.7L606.0,398.7L606.5,400.7L606.9,399.3L607.4,395.0L607.8,388.1L608.3,380.3L608.7,373.0L609.2,367.3L609.6,364.5L610.1,365.2L610.5,369.3L611.0,376.4L611.4,384.9L611.9,393.2L612.3,399.8L612.8,403.4L613.2,403.4L613.7,399.4L614.1,391.8L614.6,382.3L615.0,372.3L615.5,364.0L615.9,358.6L616.4,357.7L616.8,361.4L617.3,369.7L617.7,380.7L618.2,392.4L618.6,402.4L619.1,408.8L619.5,410.2L620.0,406.4L620.4,398.0L620.9,387.0L621.3,374.8L621.8,364.6L622.2,358.2L622.7,356.3L623.1,359.3L623.6,366.6L624.0,376.5L624.5,387.5L624.9,396.7L625.4,402.8L625.8,405.4L626.3,403.8L626.7,398.5L627.2,390.3L627.6,381.2L628.1,373.1L628.5,367.0L629.0,363.8L629.4,364.4L629.9,368.4L630.3,375.0L630.8,383.2L631.2,391.0L631.7,397.0L632.1,400.3L632.6,400.2L633.0,396.9L633.5,391.1L633.9,383.6L634.4,376.0L634.8,369.6L635.3,365.6L635.7,364.9L636.2,367.6L636.6,373.1L637.1,380.4L637.5,388.2L638.0,395.1L638.4,399.4L638.9,400.7L639.3,398.8L639.8,394.2L640.2,387.0L640.7,378.6L641.1,370.3L641.6,363.3L642.0,359.3L642.5,359.6L642.9,364.5L643.4,373.7L643.8,385.4L644.3,397.9L644.7,409.3L645.2,415.8L645.6,416.5L646.1,410.4L646.5,398.7L647.0,383.5L647.4,367.5L647.9,354.0L648.3,345.6L648.8,343.9L649.2,349.3L649.7,361.0L650.1,377.0L650.6,394.8L651.0,410.7L651.5,421.5L651.9,424.8L652.4,420.1L652.8,407.9L653.3,390.4L653.7,371.0L654.2,354.2L654.6,342.6L655.1,338.4L655.5,342.5L656.0,354.3L656.4,371.2L656.9,390.5L657.3,407.9L657.8,421.1L658.2,427.4L658.7,425.2L659.1,414.5L659.6,398.2L660.0,379.1L660.5,361.1L660.9,346.9L661.4,339.8L661.8,340.9L662.3,350.3L662.7,365.4L663.2,382.7L663.6,399.9L664.1,413.5L664.5,421.3L665.0,422.0L665.4,415.2L665.9,403.0L666.3,386.9L666.8,370.2L667.2,357.0L667.7,348.9L668.1,347.2L668.6,352.1L669.0,362.7L669.5,376.9L669.9,391.7L670.4,404.2L670.8,412.0L671.3,413.6L671.7,409.5L672.2,400.7L672.6,389.0L673.1,377.1L673.5,366.7L674.0,360.4L674.4,358.6L674.9,361.4L675.3,368.0L675.8,376.7L676.2,385.8L676.7,393.3L677.1,398.0L677.6,399.3L678.0,397.7L678.5,393.6L678.9,388.1L679.4,382.1L679.8,376.9L680.3,373.5L680.7,372.1L681.2,372.7L681.6,375.1L682.1,378.5L682.5,382.4L683.0,385.8L683.4,388.1L683.9,389.2L684.3,388.8L684.8,387.5L685.2,385.5L685.7,383.3L686.1,381.4L686.6,380.1L687.0,379.4L687.5,379.5L687.9,380.1L688.4,381.1L688.8,382.2L689.3,383.4L689.7,384.6L690.2,385.7L690.6,386.4L691.1,386.5L691.5,385.7L692.0,384.0L692.4,381.4L692.9,378.4L693.3,375.5L693.8,373.7L694.2,373.7L694.7,375.7L695.1,379.7L695.6,384.7L696.0,390.1L696.5,394.7L696.9,397.6L697.4,397.7L697.8,394.7L698.3,388.9L698.7,380.9L699.2,372.5L699.6,365.5L700.1,361.1L700.5,360.6L701.0,364.6L701.4,372.4L701.9,383.1L702.3,395.0L702.8,404.7L703.2,411.2L703.7,412.4L704.1,408.0L704.6,398.1L705.0,384.8L705.5,370.3L705.9,358.3L706.4,350.0L706.8,348.1L707.3,352.8L707.7,363.4L708.2,376.8L708.6,391.8L709.1,405.5L709.5,415.0L710.0,418.0L710.4,414.3L710.9,405.1L711.3,390.9L711.8,375.0L712.2,361.1L712.7,351.4L713.1,347.5L713.6,350.0L714.0,359.5L714.5,373.1L714.9,388.9L715.4,403.1L715.8,413.2L716.3,417.9L716.7,415.9L717.2,407.7L717.6,394.7L718.1,379.2L718.5,364.6L719.0,353.4L719.4,347.9L719.9,348.7L720.3,355.9L720.8,367.8L721.2,382.2L721.7,396.3L722.1,407.9L722.6,414.5L723.0,415.4L723.5,410.6L723.9,400.6L724.4,387.6L724.8,373.7L725.3,362.9L725.7,355.9L726.2,354.0L726.6,357.6L727.1,365.5L727.5,376.8L728.0,388.2L728.4,398.1L728.9,404.8L729.3,407.6L729.8,405.6L730.2,399.7L730.7,390.9L731.1,380.5L731.6,370.6L732.0,363.3L732.5,359.5L732.9,360.2L733.4,364.9L733.8,372.9L734.3,382.8L734.7,392.4L735.2,399.9L735.6,404.5L736.1,405.1L736.5,401.2L737.0,394.3L737.4,384.5L737.9,375.1L738.3,366.8L738.8,361.7L739.2,360.7L739.7,363.9L740.1,370.4L740.6,379.5L741.0,388.9L741.5,396.8L741.9,402.9L742.4,404.7L742.8,402.2L743.3,396.3L743.7,387.3L744.2,376.9L744.6,367.1L745.1,359.9L745.5,356.6L746.0,357.9L746.4,363.8L746.9,373.7L747.3,386.8L747.8,400.0L748.2,411.4L748.7,418.1L749.1,418.2L749.6,410.8L750.0,397.3L750.5,379.3L750.9,361.4L751.4,346.2L751.8,336.9L752.3,336.1L752.7,344.3L753.2,359.8L753.6,381.1L754.1,404.2L754.5,423.0L755.0,435.1L755.4,437.7L755.9,430.3L756.3,414.0L756.8,389.8L757.2,362.8L757.7,339.8L758.1,324.8L758.6,320.0L759.0,327.2L759.5,345.7L759.9,371.7L760.4,400.6L760.8,427.0L761.3,444.9L761.7,451.7L762.2,446.1L762.6,428.5L763.1,402.7L763.5,372.2L764.0,343.8L764.4,321.9L764.9,311.5L765.3,314.4L765.8,329.6L766.2,354.4L766.7,385.4L767.1,416.3L767.6,439.9L768.0,451.9L768.5,450.8L768.9,437.4L769.4,412.7L769.8,383.7L770.3,356.3L770.7,331.1L771.2,317.3L771.6,316.4L772.1,327.9L772.5,349.3L773.0,376.6L773.4,403.7L773.9,426.9L774.3,442.0L774.8,445.5L775.2,436.8L775.7,418.3L776.1,392.0L776.6,366.2L777.0,343.5L777.5,329.3L777.9,324.6L778.4,330.8L778.8,346.2L779.3,368.3L779.7,392.0L780.2,412.6L780.6,427.2L781.1,433.0L781.5,429.4L782.0,417.1L782.4,399.0L782.9,379.3L783.3,361.5L783.8,348.3L784.2,342.3L784.7,344.3L785.1,353.9L785.6,368.1L786.0,383.8L786.5,398.0L786.9,408.2L787.4,413.2L787.8,412.4L788.3,406.4L788.7,396.5L789.2,384.9L789.6,374.3L790.1,366.5L790.5,362.8L791.0,363.1L791.4,367.2L791.9,373.7L792.3,380.7L792.8,386.9L793.2,390.9L793.7,392.7L794.1,392.3L794.6,390.2L795.0,387.1L795.5,383.8L795.9,380.8L796.4,378.4L796.8,377.0L797.3,376.9L797.7,377.7L798.2,379.4L798.6,381.5L799.1,383.7L799.5,385.5L800.0,386.6L800.4,387.0L800.9,386.5L801.3,385.4L801.8,383.8L802.2,382.2L802.7,380.8L803.1,379.8L803.6,379.5L804.0,379.7L804.5,380.4L804.9,381.6L805.4,383.0L805.8,384.1L806.3,385.0L806.7,385.5L807.2,385.4L807.6,384.8L808.1,383.9L808.5,382.7L809.0,381.4L809.4,380.2L809.9,379.4L810.3,379.2L810.8,379.6L811.2,380.8L811.7,382.4L812.1,384.4L812.6,386.3L813.0,387.8L813.5,388.4L813.9,388.0L814.4,386.4L814.8,384.0L815.3,380.9L815.7,377.7L816.2,375.4L816.6,374.2L817.1,374.6L817.5,376.7L818.0,380.3L818.4,384.6L818.9,388.7L819.3,392.1L819.8,393.8L820.2,393.4L820.7,390.9L821.1,386.5L821.6,381.1L822.0,375.6L822.5,370.9L822.9,368.4L823.4,368.4L823.8,371.2L824.3,376.6L824.7,383.6L825.2,390.7L825.6,396.6L826.1,400.2L826.5,400.6L827.0,397.8L827.4,391.8L827.9,384.0L828.3,375.5L828.8,368.2L829.2,363.7L829.7,362.9L830.1,366.1L830.6,372.5L831.0,380.7L831.5,389.4L831.9,396.8L832.4,401.3L832.8,402.4L833.3,399.8L833.7,394.3L834.2,386.6L834.6,378.3L835.1,370.9L835.5,365.9L836.0,363.8L836.4,365.3L836.9,370.0L837.3,376.8L837.8,384.9L838.2,392.0L838.7,397.5L839.1,400.2L839.6,399.4L840.0,395.6L840.5,389.4L840.9,382.2L841.4,375.3L841.8,369.9L842.3,367.0L842.7,367.3L843.2,370.3L843.6,375.4L844.1,381.4L844.5,387.1L845.0,391.4L845.4,393.8L845.9,393.8L846.3,391.8L846.8,388.4L847.2,384.5L847.7,380.8L848.1,377.8L848.6,376.1L849.0,375.8L849.5,376.7L849.9,378.5L850.4,381.0L850.8,383.7L851.3,386.0L851.7,387.6L852.2,388.3L852.6,387.8L853.1,386.5L853.5,384.5L854.0,382.4L854.4,380.3L854.9,378.7L855.3,378.0L855.8,378.1L856.2,379.0L856.7,380.6L857.1,382.6L857.6,384.6L858.0,386.3L858.5,387.3L858.9,387.3L859.4,386.5L859.8,384.9L860.3,383.0L860.7,381.0L861.2,379.3L861.6,378.2L862.1,378.0L862.5,378.7L863.0,380.0L863.4,381.9L863.9,383.9L864.3,385.7L864.8,387.0L865.2,387.4L865.7,387.0L866.1,385.8L866.6,384.0L867.0,381.9L867.5,380.1L867.9,378.7L868.4,378.0L868.8,378.3L869.3,379.3L869.7,381.1L870.2,383.1L870.6,385.0L871.1,386.6L871.5,387.3L872.0,387.3L872.4,386.4L872.9,384.8L873.3,382.9L873.8,381.0L874.2,379.4L874.7,378.5L875.1,378.4L875.6,379.0L876.0,380.3L876.5,382.0L876.9,383.7" stroke="#ff7f0e"/>
</g>
<line x1="110.7" y1="422.13" x2="115.5" y2="422.13" stroke="#000" stroke-width="1.4"/>
<line x1="110.7" y1="343.27" x2="115.5" y2="343.27" stroke="#000" stroke-width="1.4"/>
<line x1="106.7" y1="461.57" x2="115.5" y2="461.57" stroke="#000" stroke-width="2.0"/>
<line x1="106.7" y1="382.7" x2="115.5" y2="382.7" stroke="#000" stroke-width="2.0"/>
<line x1="106.7" y1="303.83" x2="115.5" y2="303.83" stroke="#000" stroke-width="2.0"/>
<line x1="115.5" y1="501" x2="115.5" y2="509.8" stroke="#000" stroke-width="2.0"/>
<line x1="305.88" y1="501" x2="305.88" y2="509.8" stroke="#000" stroke-width="2.0"/>
<line x1="496.25" y1="501" x2="496.25" y2="509.8" stroke="#000" stroke-width="2.0"/>
<line x1="686.62" y1="501" x2="686.62" y2="509.8" stroke="#000" stroke-width="2.0"/>
<line x1="877" y1="501" x2="877" y2="509.8" stroke="#000" stroke-width="2.0"/>
<rect x="115.5" y="264.4" width="761.5" height="236.6" fill="none" stroke="#000" stroke-width="2.6"/>
<text x="100.2" y="313.43" text-anchor="end" font-size="29.2" fill="#000">0.02</text>
<text x="100.2" y="392.3" text-anchor="end" font-size="29.2" fill="#000">0.00</text>
<text x="100.2" y="471.17" text-anchor="end" font-size="29.2" fill="#000">−0.02</text>
<g transform="translate(19.1,415.7) rotate(-90)" fill="#000">
<text x="-1" y="0" font-size="29.2" font-style="italic">δ</text>
<text x="12.6" y="0" font-size="29.2" font-style="italic">B</text>
<text x="30.2" y="0" font-size="29.2">/</text>
<text x="37.4" y="0" font-size="29.2" font-style="italic">B</text>
<text x="54.5" y="4.2" font-size="20.44">0</text>
</g>
<text x="123" y="291" text-anchor="start" font-size="29.2" fill="#000">(b)</text>
<line x1="891.7" y1="299.5" x2="950.5" y2="299.5" stroke="#1f77b4" stroke-width="2"/>
<line x1="891.7" y1="339.7" x2="950.5" y2="339.7" stroke="#ff7f0e" stroke-width="2"/>
<g fill="#000">
<text x="962.7" y="309.8" font-size="29.2" font-style="italic">δ</text>
<text x="975.5" y="309.8" font-size="29.2" font-style="italic">B</text>
<text x="992.5" y="313.4" font-size="20.44" font-style="italic">x</text>
</g>
<g fill="#000">
<text x="962.7" y="349.8" font-size="29.2" font-style="italic">δ</text>
<text x="975.5" y="349.8" font-size="29.2" font-style="italic">B</text>
<text x="992.5" y="353.4" font-size="20.44" font-style="italic">y</text>
</g>
<g filter="url(#cmap)">
<g><rect x="115.5" y="527.4" width="761.5" height="236.39999999999998" fill="rgb(128,0,0)"/><rect x="115.5" y="527.4" width="761.5" height="236.39999999999998" fill="url(#wA)" mask="url(#mA)"/></g>
<g style="mix-blend-mode:screen"><rect x="115.5" y="527.4" width="761.5" height="236.39999999999998" fill="rgb(0,128,0)"/><rect x="115.5" y="527.4" width="761.5" height="236.39999999999998" fill="url(#wB)" mask="url(#mB)"/></g>
</g>
<line x1="106.7" y1="763.8" x2="115.5" y2="763.8" stroke="#000" stroke-width="2.0"/>
<line x1="106.7" y1="704.7" x2="115.5" y2="704.7" stroke="#000" stroke-width="2.0"/>
<line x1="106.7" y1="645.6" x2="115.5" y2="645.6" stroke="#000" stroke-width="2.0"/>
<line x1="106.7" y1="586.5" x2="115.5" y2="586.5" stroke="#000" stroke-width="2.0"/>
<line x1="106.7" y1="527.4" x2="115.5" y2="527.4" stroke="#000" stroke-width="2.0"/>
<line x1="115.5" y1="763.8" x2="115.5" y2="772.6" stroke="#000" stroke-width="2.0"/>
<line x1="305.88" y1="763.8" x2="305.88" y2="772.6" stroke="#000" stroke-width="2.0"/>
<line x1="496.25" y1="763.8" x2="496.25" y2="772.6" stroke="#000" stroke-width="2.0"/>
<line x1="686.62" y1="763.8" x2="686.62" y2="772.6" stroke="#000" stroke-width="2.0"/>
<line x1="877" y1="763.8" x2="877" y2="772.6" stroke="#000" stroke-width="2.0"/>
<rect x="115.5" y="527.4" width="761.5" height="236.4" fill="none" stroke="#000" stroke-width="2.6"/>
<text x="101" y="773.4" text-anchor="end" font-size="29.2" fill="#000">0</text>
<text x="101" y="714.3" text-anchor="end" font-size="29.2" fill="#000">40</text>
<text x="101" y="655.2" text-anchor="end" font-size="29.2" fill="#000">80</text>
<text x="101" y="596.1" text-anchor="end" font-size="29.2" fill="#000">120</text>
<text x="101" y="537" text-anchor="end" font-size="29.2" fill="#000">160</text>
<text x="115.5" y="797.2" text-anchor="middle" font-size="29.2" fill="#000">0</text>
<text x="305.88" y="797.2" text-anchor="middle" font-size="29.2" fill="#000">500</text>
<text x="496.25" y="797.2" text-anchor="middle" font-size="29.2" fill="#000">1000</text>
<text x="686.62" y="797.2" text-anchor="middle" font-size="29.2" fill="#000">1500</text>
<text x="877" y="797.2" text-anchor="middle" font-size="29.2" fill="#000">2000</text>
<text x="123" y="554" text-anchor="start" font-size="29.2" fill="#000">(c)</text>
<g transform="translate(36.3,693.8) rotate(-90)" fill="#000">
<text x="0" y="0" font-size="29.2" font-style="italic">z</text>
<text x="19" y="0" font-size="29.2">[</text>
<text x="27.7" y="0" font-size="29.2" font-style="italic">c</text>
<text x="39.5" y="0" font-size="29.2">Ω</text>
<text x="62.3" y="-10.5" font-size="20.44">−1</text>
<text x="62.1" y="7.6" font-size="20.44" font-style="italic">p</text>
<text x="86.2" y="0" font-size="29.2">]</text>
</g>
<g fill="#000">
<text x="456.1" y="837.2" font-size="29.2" font-style="italic">t</text>
<text x="471.4" y="837.2" font-size="29.2">[</text>
<text x="479.9" y="837.2" font-size="29.2">Ω</text>
<text x="502" y="827.5" font-size="20.44">−1</text>
<text x="503.1" y="843.2" font-size="20.44" font-style="italic">p</text>
<text x="526.7" y="837.2" font-size="29.2">]</text>
</g>
<g transform="translate(1016.5,683.3) rotate(-90)" fill="#000">
<text x="-1" y="0" font-size="29.2" font-style="italic">δ</text>
<text x="12.7" y="0" font-size="29.2" font-style="italic">B</text>
<text x="30.4" y="5.3" font-size="20.44" font-style="italic">x</text>
<text x="39.1" y="0" font-size="29.2">/</text>
<text x="48.2" y="0" font-size="29.2" font-style="italic">B</text>
<text x="64.2" y="3.9" font-size="20.44">0</text>
</g>
<rect x="886.6" y="527.4" width="19.5" height="236.39999999999998" fill="url(#cbar)" stroke="#000" stroke-width="2.6"/>
<line x1="906.1" y1="566.8" x2="914.9" y2="566.8" stroke="#000" stroke-width="2.0"/>
<text x="920.5" y="576.4" text-anchor="start" font-size="29.2" fill="#000">0.02</text>
<line x1="906.1" y1="645.6" x2="914.9" y2="645.6" stroke="#000" stroke-width="2.0"/>
<text x="920.5" y="655.2" text-anchor="start" font-size="29.2" fill="#000">0.00</text>
<line x1="906.1" y1="724.4" x2="914.9" y2="724.4" stroke="#000" stroke-width="2.0"/>
<text x="919.5" y="734" text-anchor="start" font-size="29.2" fill="#000">−0.02</text>
<rect x="115.5" y="863.3" width="761.5" height="259.3" fill="#0d0887"/>
<g>
<rect x="313.1" y="971.9" width="7.48" height="3.22" fill="#cb4679"/>
<rect x="320.6" y="969.1" width="7.48" height="3.22" fill="#6600a7"/>
<rect x="320.6" y="966.4" width="7.48" height="3.22" fill="#f1834c"/>
<rect x="320.6" y="963.7" width="7.48" height="3.22" fill="#910ea3"/>
<rect x="328.0" y="963.7" width="7.48" height="3.22" fill="#6600a7"/>
<rect x="328.0" y="961.0" width="7.48" height="3.22" fill="#fba238"/>
<rect x="328.0" y="958.3" width="7.48" height="3.22" fill="#b52f8c"/>
<rect x="328.0" y="955.6" width="7.48" height="3.22" fill="#8a09a5"/>
<rect x="328.0" y="952.8" width="7.48" height="3.22" fill="#3c049b"/>
<rect x="335.5" y="969.1" width="7.48" height="3.22" fill="#6300a7"/>
<rect x="335.5" y="966.4" width="7.48" height="3.22" fill="#8707a6"/>
<rect x="335.5" y="963.7" width="7.48" height="3.22" fill="#bf3984"/>
<rect x="335.5" y="961.0" width="7.48" height="3.22" fill="#f1814d"/>
<rect x="335.5" y="958.3" width="7.48" height="3.22" fill="#fada24"/>
<rect x="335.5" y="955.6" width="7.48" height="3.22" fill="#e87059"/>
<rect x="335.5" y="952.8" width="7.48" height="3.22" fill="#de6164"/>
<rect x="335.5" y="950.1" width="7.48" height="3.22" fill="#b02991"/>
<rect x="335.5" y="947.4" width="7.48" height="3.22" fill="#6c00a8"/>
<rect x="335.5" y="944.7" width="7.48" height="3.22" fill="#5801a4"/>
<rect x="343.0" y="966.4" width="7.48" height="3.22" fill="#46039f"/>
<rect x="343.0" y="963.7" width="7.48" height="3.22" fill="#7201a8"/>
<rect x="343.0" y="961.0" width="7.48" height="3.22" fill="#be3885"/>
<rect x="343.0" y="958.3" width="7.48" height="3.22" fill="#eb7655"/>
<rect x="343.0" y="955.6" width="7.48" height="3.22" fill="#febe2a"/>
<rect x="343.0" y="952.8" width="7.48" height="3.22" fill="#e4695e"/>
<rect x="343.0" y="950.1" width="7.48" height="3.22" fill="#d5536f"/>
<rect x="343.0" y="947.4" width="7.48" height="3.22" fill="#bc3587"/>
<rect x="343.0" y="944.7" width="7.48" height="3.22" fill="#8808a6"/>
<rect x="343.0" y="942.0" width="7.48" height="3.22" fill="#7501a8"/>
<rect x="343.0" y="939.3" width="7.48" height="3.22" fill="#5b01a5"/>
<rect x="350.5" y="963.7" width="7.48" height="3.22" fill="#8707a6"/>
<rect x="350.5" y="961.0" width="7.48" height="3.22" fill="#ba3388"/>
<rect x="350.5" y="958.3" width="7.48" height="3.22" fill="#ec7754"/>
<rect x="350.5" y="955.6" width="7.48" height="3.22" fill="#fdb22f"/>
<rect x="350.5" y="952.8" width="7.48" height="3.22" fill="#e16462"/>
<rect x="350.5" y="950.1" width="7.48" height="3.22" fill="#b7318a"/>
<rect x="350.5" y="947.4" width="7.48" height="3.22" fill="#7701a8"/>
<rect x="350.5" y="944.7" width="7.48" height="3.22" fill="#6e00a8"/>
<rect x="350.5" y="942.0" width="7.48" height="3.22" fill="#46039f"/>
<rect x="357.9" y="966.4" width="7.48" height="3.22" fill="#4b03a1"/>
<rect x="357.9" y="963.7" width="7.48" height="3.22" fill="#ac2694"/>
<rect x="357.9" y="961.0" width="7.48" height="3.22" fill="#cd4a76"/>
<rect x="357.9" y="958.3" width="7.48" height="3.22" fill="#f07f4f"/>
<rect x="357.9" y="955.6" width="7.48" height="3.22" fill="#f4ed27"/>
<rect x="357.9" y="952.8" width="7.48" height="3.22" fill="#fba139"/>
<rect x="357.9" y="950.1" width="7.48" height="3.22" fill="#d04d73"/>
<rect x="357.9" y="947.4" width="7.48" height="3.22" fill="#cd4a76"/>
<rect x="357.9" y="944.7" width="7.48" height="3.22" fill="#b22b8f"/>
<rect x="357.9" y="942.0" width="7.48" height="3.22" fill="#6001a6"/>
<rect x="357.9" y="939.3" width="7.48" height="3.22" fill="#6a00a8"/>
<rect x="365.4" y="963.7" width="7.48" height="3.22" fill="#6c00a8"/>
<rect x="365.4" y="961.0" width="7.48" height="3.22" fill="#9613a1"/>
<rect x="365.4" y="958.3" width="7.48" height="3.22" fill="#d8576b"/>
<rect x="365.4" y="955.6" width="7.48" height="3.22" fill="#fbd724"/>
<rect x="365.4" y="952.8" width="7.48" height="3.22" fill="#e3685f"/>
<rect x="365.4" y="950.1" width="7.48" height="3.22" fill="#d5546e"/>
<rect x="365.4" y="947.4" width="7.48" height="3.22" fill="#aa2395"/>
<rect x="365.4" y="944.7" width="7.48" height="3.22" fill="#8e0ca4"/>
<rect x="365.4" y="942.0" width="7.48" height="3.22" fill="#4e02a2"/>
<rect x="365.4" y="939.3" width="7.48" height="3.22" fill="#4903a0"/>
<rect x="372.9" y="971.9" width="7.48" height="3.22" fill="#5302a3"/>
<rect x="372.9" y="969.1" width="7.48" height="3.22" fill="#7100a8"/>
<rect x="372.9" y="966.4" width="7.48" height="3.22" fill="#ad2793"/>
<rect x="372.9" y="963.7" width="7.48" height="3.22" fill="#da5a6a"/>
<rect x="372.9" y="961.0" width="7.48" height="3.22" fill="#f9983e"/>
<rect x="372.9" y="958.3" width="7.48" height="3.22" fill="#fdb52e"/>
<rect x="372.9" y="955.6" width="7.48" height="3.22" fill="#f3874a"/>
<rect x="372.9" y="952.8" width="7.48" height="3.22" fill="#d04d73"/>
<rect x="372.9" y="950.1" width="7.48" height="3.22" fill="#a11b9b"/>
<rect x="372.9" y="947.4" width="7.48" height="3.22" fill="#5e01a6"/>
<rect x="372.9" y="944.7" width="7.48" height="3.22" fill="#6100a7"/>
<rect x="380.4" y="971.9" width="7.48" height="3.22" fill="#a11b9b"/>
<rect x="380.4" y="969.1" width="7.48" height="3.22" fill="#e26561"/>
<rect x="380.4" y="966.4" width="7.48" height="3.22" fill="#fba238"/>
<rect x="380.4" y="963.7" width="7.48" height="3.22" fill="#df6263"/>
<rect x="380.4" y="961.0" width="7.48" height="3.22" fill="#a82296"/>
<rect x="380.4" y="958.3" width="7.48" height="3.22" fill="#9613a1"/>
<rect x="380.4" y="955.6" width="7.48" height="3.22" fill="#8104a7"/>
<rect x="380.4" y="952.8" width="7.48" height="3.22" fill="#5e01a6"/>
<rect x="387.8" y="977.3" width="7.48" height="3.22" fill="#46039f"/>
<rect x="387.8" y="974.6" width="7.48" height="3.22" fill="#a51f99"/>
<rect x="387.8" y="971.9" width="7.48" height="3.22" fill="#e97257"/>
<rect x="387.8" y="969.1" width="7.48" height="3.22" fill="#f0f921"/>
<rect x="387.8" y="966.4" width="7.48" height="3.22" fill="#f68f44"/>
<rect x="387.8" y="963.7" width="7.48" height="3.22" fill="#d04d73"/>
<rect x="387.8" y="961.0" width="7.48" height="3.22" fill="#be3885"/>
<rect x="387.8" y="958.3" width="7.48" height="3.22" fill="#9613a1"/>
<rect x="387.8" y="955.6" width="7.48" height="3.22" fill="#6a00a8"/>
<rect x="395.3" y="982.7" width="7.48" height="3.22" fill="#6300a7"/>
<rect x="395.3" y="980.0" width="7.48" height="3.22" fill="#99159f"/>
<rect x="395.3" y="977.3" width="7.48" height="3.22" fill="#cf4c74"/>
<rect x="395.3" y="974.6" width="7.48" height="3.22" fill="#fb9f3a"/>
<rect x="395.3" y="971.9" width="7.48" height="3.22" fill="#d8576b"/>
<rect x="395.3" y="969.1" width="7.48" height="3.22" fill="#c8437b"/>
<rect x="395.3" y="966.4" width="7.48" height="3.22" fill="#8405a7"/>
<rect x="395.3" y="961.0" width="7.48" height="3.22" fill="#44039e"/>
<rect x="402.8" y="985.4" width="7.48" height="3.22" fill="#3c049b"/>
<rect x="402.8" y="982.7" width="7.48" height="3.22" fill="#a31e9a"/>
<rect x="402.8" y="980.0" width="7.48" height="3.22" fill="#c13b82"/>
<rect x="402.8" y="977.3" width="7.48" height="3.22" fill="#fa9e3b"/>
<rect x="402.8" y="974.6" width="7.48" height="3.22" fill="#b7318a"/>
<rect x="402.8" y="971.9" width="7.48" height="3.22" fill="#ad2793"/>
<rect x="402.8" y="969.1" width="7.48" height="3.22" fill="#8f0da4"/>
<rect x="410.3" y="985.4" width="7.48" height="3.22" fill="#6600a7"/>
<rect x="410.3" y="982.7" width="7.48" height="3.22" fill="#e76e5b"/>
<rect x="410.3" y="980.0" width="7.48" height="3.22" fill="#5302a3"/>
<rect x="597.2" y="958.3" width="7.48" height="3.22" fill="#b42e8d"/>
<rect x="604.7" y="958.3" width="7.48" height="3.22" fill="#8a09a5"/>
<rect x="604.7" y="955.6" width="7.48" height="3.22" fill="#feb72d"/>
<rect x="604.7" y="952.8" width="7.48" height="3.22" fill="#7e03a8"/>
<rect x="612.1" y="958.3" width="7.48" height="3.22" fill="#920fa3"/>
<rect x="612.1" y="955.6" width="7.48" height="3.22" fill="#c7427c"/>
<rect x="612.1" y="952.8" width="7.48" height="3.22" fill="#f6e626"/>
<rect x="612.1" y="950.1" width="7.48" height="3.22" fill="#d5546e"/>
<rect x="612.1" y="947.4" width="7.48" height="3.22" fill="#9c179e"/>
<rect x="619.6" y="955.6" width="7.48" height="3.22" fill="#8004a8"/>
<rect x="619.6" y="952.8" width="7.48" height="3.22" fill="#d04d73"/>
<rect x="619.6" y="950.1" width="7.48" height="3.22" fill="#fdc229"/>
<rect x="619.6" y="947.4" width="7.48" height="3.22" fill="#c23c81"/>
<rect x="619.6" y="944.7" width="7.48" height="3.22" fill="#7501a8"/>
<rect x="627.1" y="952.8" width="7.48" height="3.22" fill="#9511a1"/>
<rect x="627.1" y="950.1" width="7.48" height="3.22" fill="#db5c68"/>
<rect x="627.1" y="947.4" width="7.48" height="3.22" fill="#f5e926"/>
<rect x="627.1" y="944.7" width="7.48" height="3.22" fill="#e3685f"/>
<rect x="627.1" y="942.0" width="7.48" height="3.22" fill="#99159f"/>
<rect x="627.1" y="939.3" width="7.48" height="3.22" fill="#8104a7"/>
<rect x="627.1" y="936.6" width="7.48" height="3.22" fill="#4b03a1"/>
<rect x="634.6" y="952.8" width="7.48" height="3.22" fill="#5901a5"/>
<rect x="634.6" y="950.1" width="7.48" height="3.22" fill="#99159f"/>
<rect x="634.6" y="947.4" width="7.48" height="3.22" fill="#ca457a"/>
<rect x="634.6" y="944.7" width="7.48" height="3.22" fill="#febe2a"/>
<rect x="634.6" y="942.0" width="7.48" height="3.22" fill="#f1814d"/>
<rect x="634.6" y="939.3" width="7.48" height="3.22" fill="#b7318a"/>
<rect x="634.6" y="936.6" width="7.48" height="3.22" fill="#9511a1"/>
<rect x="634.6" y="933.8" width="7.48" height="3.22" fill="#6100a7"/>
<rect x="642.0" y="950.1" width="7.48" height="3.22" fill="#7a02a8"/>
<rect x="642.0" y="947.4" width="7.48" height="3.22" fill="#da5a6a"/>
<rect x="642.0" y="944.7" width="7.48" height="3.22" fill="#f3ee27"/>
<rect x="642.0" y="942.0" width="7.48" height="3.22" fill="#ec7754"/>
<rect x="642.0" y="939.3" width="7.48" height="3.22" fill="#c23c81"/>
<rect x="642.0" y="936.6" width="7.48" height="3.22" fill="#8707a6"/>
<rect x="642.0" y="933.8" width="7.48" height="3.22" fill="#4903a0"/>
<rect x="649.5" y="947.4" width="7.48" height="3.22" fill="#6c00a8"/>
<rect x="649.5" y="944.7" width="7.48" height="3.22" fill="#d35171"/>
<rect x="649.5" y="942.0" width="7.48" height="3.22" fill="#fcd225"/>
<rect x="649.5" y="939.3" width="7.48" height="3.22" fill="#e87059"/>
<rect x="649.5" y="936.6" width="7.48" height="3.22" fill="#b32c8e"/>
<rect x="649.5" y="933.8" width="7.48" height="3.22" fill="#8f0da4"/>
<rect x="649.5" y="931.1" width="7.48" height="3.22" fill="#5801a4"/>
<rect x="657.0" y="947.4" width="7.48" height="3.22" fill="#8808a6"/>
<rect x="657.0" y="944.7" width="7.48" height="3.22" fill="#d35171"/>
<rect x="657.0" y="942.0" width="7.48" height="3.22" fill="#f9dc24"/>
<rect x="657.0" y="939.3" width="7.48" height="3.22" fill="#d8576b"/>
<rect x="657.0" y="936.6" width="7.48" height="3.22" fill="#a31e9a"/>
<rect x="657.0" y="933.8" width="7.48" height="3.22" fill="#5901a5"/>
<rect x="664.5" y="947.4" width="7.48" height="3.22" fill="#6e00a8"/>
<rect x="664.5" y="944.7" width="7.48" height="3.22" fill="#bd3786"/>
<rect x="664.5" y="942.0" width="7.48" height="3.22" fill="#fdc627"/>
<rect x="664.5" y="939.3" width="7.48" height="3.22" fill="#c13b82"/>
<rect x="664.5" y="936.6" width="7.48" height="3.22" fill="#ab2494"/>
<rect x="664.5" y="933.8" width="7.48" height="3.22" fill="#4903a0"/>
<rect x="671.9" y="947.4" width="7.48" height="3.22" fill="#9511a1"/>
<rect x="671.9" y="944.7" width="7.48" height="3.22" fill="#fdac33"/>
<rect x="671.9" y="942.0" width="7.48" height="3.22" fill="#b02991"/>
<rect x="671.9" y="939.3" width="7.48" height="3.22" fill="#5002a2"/>
<rect x="679.4" y="950.1" width="7.48" height="3.22" fill="#44039e"/>
<rect x="679.4" y="947.4" width="7.48" height="3.22" fill="#9814a0"/>
<rect x="679.4" y="944.7" width="7.48" height="3.22" fill="#f3874a"/>
<rect x="679.4" y="942.0" width="7.48" height="3.22" fill="#a62098"/>
<rect x="686.9" y="950.1" width="7.48" height="3.22" fill="#5601a4"/>
<rect x="686.9" y="947.4" width="7.48" height="3.22" fill="#fa9e3b"/>
<rect x="686.9" y="944.7" width="7.48" height="3.22" fill="#a82296"/>
<rect x="694.4" y="952.8" width="7.48" height="3.22" fill="#d8576b"/>
<rect x="701.8" y="952.8" width="7.48" height="3.22" fill="#bb3488"/>
<rect x="417.8" y="913.2" width="7.48" height="1.6" fill="#6600a7"/>
<rect x="432.7" y="961.7" width="7.48" height="1.6" fill="#7401a8"/>
<rect x="447.7" y="1006.7" width="7.48" height="1.6" fill="#6600a7"/>
<rect x="574.7" y="888.2" width="7.48" height="1.6" fill="#5e01a6"/>
<rect x="567.3" y="912.2" width="7.48" height="1.6" fill="#5e01a6"/>
<rect x="559.8" y="937.2" width="7.48" height="1.6" fill="#6600a7"/>
<rect x="552.3" y="961.2" width="7.48" height="1.6" fill="#5e01a6"/>
<rect x="537.4" y="1005.2" width="7.48" height="1.6" fill="#6600a7"/>
<rect x="537.4" y="1033.2" width="7.48" height="1.6" fill="#5e01a6"/>
<rect x="522.4" y="1046.2" width="7.48" height="1.6" fill="#5e01a6"/>
<rect x="514.9" y="1067.2" width="7.48" height="1.6" fill="#5601a4"/>
<rect x="455.1" y="1039.2" width="7.48" height="1.6" fill="#5601a4"/>
<rect x="462.6" y="1069.2" width="7.48" height="1.6" fill="#5601a4"/>
</g>
<path d="M115.5,1121.99 L116.5,1121.19 L117.5,1120.39 L118.5,1119.59 L119.5,1118.78 L120.5,1117.98 L121.5,1117.17 L122.5,1116.36 L123.5,1115.56 L124.5,1114.75 L125.5,1113.94 L126.5,1113.13 L127.5,1112.33 L128.5,1111.52 L129.5,1110.71 L130.5,1109.9 L131.5,1109.08 L132.5,1108.27 L133.5,1107.46 L134.5,1106.65 L135.5,1105.84 L136.5,1105.02 L137.5,1104.21 L138.5,1103.4 L139.5,1102.59 L140.5,1101.77 L141.5,1100.96 L142.5,1100.14 L143.5,1099.33 L144.5,1098.52 L145.5,1097.7 L146.5,1096.89 L147.5,1096.07 L148.5,1095.26 L149.5,1094.44 L150.5,1093.63 L151.5,1092.81 L152.5,1092 L153.5,1091.18 L154.5,1090.37 L155.5,1089.55 L156.5,1088.74 L157.5,1087.93 L158.5,1087.11 L159.5,1086.3 L160.5,1085.49 L161.5,1084.67 L162.5,1083.86 L163.5,1083.05 L164.5,1082.23 L165.5,1081.42 L166.5,1080.61 L167.5,1079.8 L168.5,1078.99 L169.5,1078.18 L170.5,1077.37 L171.5,1076.56 L172.5,1075.75 L173.5,1074.94 L174.5,1074.13 L175.5,1073.32 L176.5,1072.52 L177.5,1071.71 L178.5,1070.9 L179.5,1070.1 L180.5,1069.29 L181.5,1068.49 L182.5,1067.69 L183.5,1066.88 L184.5,1066.08 L185.5,1065.28 L186.5,1064.48 L187.5,1063.68 L188.5,1062.88 L189.5,1062.09 L190.5,1061.29 L191.5,1060.49 L192.5,1059.7 L193.5,1058.91 L194.5,1058.11 L195.5,1057.32 L196.5,1056.53 L197.5,1055.74 L198.5,1054.95 L199.5,1054.16 L200.5,1053.38 L201.5,1052.59 L202.5,1051.81 L203.5,1051.02 L204.5,1050.24 L205.5,1049.46 L206.5,1048.68 L207.5,1047.9 L208.5,1047.13 L209.5,1046.35 L210.5,1045.58 L211.5,1044.8 L212.5,1044.03 L213.5,1043.26 L214.5,1042.49 L215.5,1041.72 L216.5,1040.96 L217.5,1040.19 L218.5,1039.43 L219.5,1038.67 L220.5,1037.91 L221.5,1037.15 L222.5,1036.4 L223.5,1035.64 L224.5,1034.89 L225.5,1034.14 L226.5,1033.39 L227.5,1032.64 L228.5,1031.89 L229.5,1031.15 L230.5,1030.4 L231.5,1029.66 L232.5,1028.92 L233.5,1028.18 L234.5,1027.45 L235.5,1026.71 L236.5,1025.98 L237.5,1025.25 L238.5,1024.52 L239.5,1023.8 L240.5,1023.07 L241.5,1022.35 L242.5,1021.63 L243.5,1020.91 L244.5,1020.2 L245.5,1019.48 L246.5,1018.77 L247.5,1018.06 L248.5,1017.36 L249.5,1016.65 L250.5,1015.95 L251.5,1015.25 L252.5,1014.55 L253.5,1013.85 L254.5,1013.16 L255.5,1012.47 L256.5,1011.78 L257.5,1011.09 L258.5,1010.41 L259.5,1009.73 L260.5,1009.05 L261.5,1008.37 L262.5,1007.7 L263.5,1007.03 L264.5,1006.36 L265.5,1005.7 L266.5,1005.04 L267.5,1004.38 L268.5,1003.73 L269.5,1003.07 L270.5,1002.42 L271.5,1001.78 L272.5,1001.14 L273.5,1000.5 L274.5,999.86 L275.5,999.23 L276.5,998.6 L277.5,997.97 L278.5,997.35 L279.5,996.73 L280.5,996.11 L281.5,995.5 L282.5,994.89 L283.5,994.29 L284.5,993.69 L285.5,993.09 L286.5,992.5 L287.5,991.91 L288.5,991.33 L289.5,990.74 L290.5,990.17 L291.5,989.59 L292.5,989.03 L293.5,988.46 L294.5,987.9 L295.5,987.34 L296.5,986.79 L297.5,986.24 L298.5,985.7 L299.5,985.16 L300.5,984.63 L301.5,984.1 L302.5,983.57 L303.5,983.05 L304.5,982.54 L305.5,982.03 L306.5,981.52 L307.5,981.02 L308.5,980.52 L309.5,980.03 L310.5,979.54 L311.5,979.06 L312.5,978.59 L313.5,978.11 L314.5,977.65 L315.5,977.19 L316.5,976.73 L317.5,976.28 L318.5,975.83 L319.5,975.39 L320.5,974.96 L321.5,974.53 L322.5,974.11 L323.5,973.69 L324.5,973.28 L325.5,972.87 L326.5,972.47 L327.5,972.07 L328.5,971.68 L329.5,971.3 L330.5,970.92 L331.5,970.55 L332.5,970.18 L333.5,969.82 L334.5,969.47 L335.5,969.12 L336.5,968.78 L337.5,968.44 L338.5,968.11 L339.5,967.79 L340.5,967.47 L341.5,967.16 L342.5,966.86 L343.5,966.56 L344.5,966.27 L345.5,965.98 L346.5,965.71 L347.5,965.43 L348.5,965.17 L349.5,964.91 L350.5,964.66 L351.5,964.42 L352.5,964.19 L353.5,963.97 L354.5,963.76 L355.5,963.56 L356.5,963.37 L357.5,963.2 L358.5,963.04 L359.5,962.89 L360.5,962.75 L361.5,962.63 L362.5,962.52 L363.5,962.43 L364.5,962.36 L365.5,962.3 L366.5,962.27 L367.5,962.25 L368.5,962.24 L369.5,962.26 L370.5,962.3 L371.5,962.36 L372.5,962.44 L373.5,962.54 L374.5,962.66 L375.5,962.8 L376.5,962.97 L377.5,963.17 L378.5,963.38 L379.5,963.62 L380.5,963.88 L381.5,964.17 L382.5,964.48 L383.5,964.81 L384.5,965.16 L385.5,965.54 L386.5,965.94 L387.5,966.36 L388.5,966.8 L389.5,967.27 L390.5,967.76 L391.5,968.27 L392.5,968.81 L393.5,969.36 L394.5,969.94 L395.5,970.54 L396.5,971.17 L397.5,971.81 L398.5,972.48 L399.5,973.17 L400.5,973.88 L401.5,974.61 L402.5,975.37 L403.5,976.14 L404.5,976.94 L405.5,977.76 L406.5,978.6 L407.5,979.46 L408.5,980.35 L409.5,981.25 L410.5,982.18 L411.5,983.12 L412.5,984.09 L413.5,985.08 L414.5,986.09 L415.5,987.12 L416.5,988.18 L417.5,989.25 L418.5,990.34 L419.5,991.46 L420.5,992.59 L421.5,993.75 L422.5,994.92 L423.5,996.12 L424.5,997.34 L425.5,998.57 L426.5,999.83 L427.5,1001.11 L428.5,1002.4 L429.5,1003.72 L430.5,1005.06 L431.5,1006.41 L432.5,1007.78 L433.5,1009.17 L434.5,1010.58 L435.5,1012.01 L436.5,1013.46 L437.5,1014.92 L438.5,1016.4 L439.5,1017.89 L440.5,1019.4 L441.5,1020.93 L442.5,1022.48 L443.5,1024.04 L444.5,1025.61 L445.5,1027.2 L446.5,1028.81 L447.5,1030.43 L448.5,1032.06 L449.5,1033.71 L450.5,1035.37 L451.5,1037.05 L452.5,1038.74 L453.5,1040.44 L454.5,1042.15 L455.5,1043.88 L456.5,1045.62 L457.5,1047.37 L458.5,1049.13 L459.5,1050.91 L460.5,1052.69 L461.5,1054.49 L462.5,1056.29 L463.5,1058.11 L464.5,1059.93 L465.5,1061.77 L466.5,1063.62 L467.5,1065.47 L468.5,1067.34 L469.5,1069.21 L470.5,1071.09 L471.5,1072.99 L472.5,1074.89 L473.5,1076.8 L474.5,1078.72 L475.5,1080.65 L476.5,1082.59 L477.5,1084.54 L478.5,1086.5 L479.5,1088.46 L480.5,1090.44 L481.5,1092.42 L482.5,1094.41 L483.5,1096.42 L484.5,1098.43 L485.5,1100.45 L486.5,1102.47 L487.5,1104.51 L488.5,1106.56 L489.5,1108.61 L490.5,1110.67 L491.5,1112.74 L492.5,1114.82 L493.5,1116.91 L494.5,1119.01 L495.5,1121.11 L496.2,1122.59 L497.2,1119.87 L498.2,1117.18 L499.2,1114.52 L500.2,1111.9 L501.2,1109.3 L502.2,1106.74 L503.2,1104.21 L504.2,1101.71 L505.2,1099.24 L506.2,1096.8 L507.2,1094.39 L508.2,1092.01 L509.2,1089.67 L510.2,1087.35 L511.2,1085.06 L512.2,1082.8 L513.2,1080.56 L514.2,1078.36 L515.2,1076.18 L516.2,1074.04 L517.2,1071.92 L518.2,1069.82 L519.2,1067.76 L520.2,1065.72 L521.2,1063.7 L522.2,1061.72 L523.2,1059.76 L524.2,1057.82 L525.2,1055.91 L526.2,1054.02 L527.2,1052.16 L528.2,1050.33 L529.2,1048.52 L530.2,1046.73 L531.2,1044.97 L532.2,1043.22 L533.2,1041.51 L534.2,1039.81 L535.2,1038.14 L536.2,1036.49 L537.2,1034.86 L538.2,1033.26 L539.2,1031.67 L540.2,1030.11 L541.2,1028.57 L542.2,1027.05 L543.2,1025.55 L544.2,1024.06 L545.2,1022.6 L546.2,1021.16 L547.2,1019.74 L548.2,1018.34 L549.2,1016.95 L550.2,1015.59 L551.2,1014.24 L552.2,1012.91 L553.2,1011.6 L554.2,1010.3 L555.2,1009.02 L556.2,1007.76 L557.2,1006.52 L558.2,1005.29 L559.2,1004.08 L560.2,1002.88 L561.2,1001.7 L562.2,1000.53 L563.2,999.38 L564.2,998.25 L565.2,997.12 L566.2,996.02 L567.2,994.92 L568.2,993.84 L569.2,992.77 L570.2,991.72 L571.2,990.68 L572.2,989.65 L573.2,988.64 L574.2,987.64 L575.2,986.65 L576.2,985.68 L577.2,984.71 L578.2,983.76 L579.2,982.83 L580.2,981.91 L581.2,981 L582.2,980.1 L583.2,979.22 L584.2,978.35 L585.2,977.49 L586.2,976.64 L587.2,975.81 L588.2,974.99 L589.2,974.19 L590.2,973.39 L591.2,972.61 L592.2,971.84 L593.2,971.09 L594.2,970.34 L595.2,969.61 L596.2,968.89 L597.2,968.19 L598.2,967.5 L599.2,966.82 L600.2,966.15 L601.2,965.49 L602.2,964.85 L603.2,964.22 L604.2,963.6 L605.2,962.99 L606.2,962.4 L607.2,961.82 L608.2,961.25 L609.2,960.69 L610.2,960.15 L611.2,959.62 L612.2,959.09 L613.2,958.59 L614.2,958.09 L615.2,957.61 L616.2,957.13 L617.2,956.67 L618.2,956.22 L619.2,955.79 L620.2,955.36 L621.2,954.95 L622.2,954.55 L623.2,954.16 L624.2,953.78 L625.2,953.42 L626.2,953.06 L627.2,952.72 L628.2,952.39 L629.2,952.07 L630.2,951.77 L631.2,951.47 L632.2,951.19 L633.2,950.91 L634.2,950.65 L635.2,950.4 L636.2,950.17 L637.2,949.94 L638.2,949.72 L639.2,949.52 L640.2,949.33 L641.2,949.15 L642.2,948.98 L643.2,948.82 L644.2,948.67 L645.2,948.53 L646.2,948.41 L647.2,948.3 L648.2,948.19 L649.2,948.1 L650.2,948.02 L651.2,947.95 L652.2,947.89 L653.2,947.84 L654.2,947.8 L655.2,947.77 L656.2,947.76 L657.2,947.75 L658.2,947.75 L659.2,947.76 L660.2,947.78 L661.2,947.81 L662.2,947.85 L663.2,947.91 L664.2,947.97 L665.2,948.03 L666.2,948.11 L667.2,948.2 L668.2,948.3 L669.2,948.4 L670.2,948.52 L671.2,948.64 L672.2,948.77 L673.2,948.91 L674.2,949.06 L675.2,949.22 L676.2,949.38 L677.2,949.56 L678.2,949.74 L679.2,949.93 L680.2,950.12 L681.2,950.33 L682.2,950.54 L683.2,950.76 L684.2,950.99 L685.2,951.22 L686.2,951.46 L687.2,951.71 L688.2,951.97 L689.2,952.23 L690.2,952.5 L691.2,952.78 L692.2,953.06 L693.2,953.35 L694.2,953.65 L695.2,953.95 L696.2,954.26 L697.2,954.57 L698.2,954.89 L699.2,955.22 L700.2,955.55 L701.2,955.89 L702.2,956.23 L703.2,956.58 L704.2,956.94 L705.2,957.3 L706.2,957.66 L707.2,958.03 L708.2,958.41 L709.2,958.79 L710.2,959.17 L711.2,959.56 L712.2,959.96 L713.2,960.36 L714.2,960.76 L715.2,961.17 L716.2,961.58 L717.2,961.99 L718.2,962.41 L719.2,962.84 L720.2,963.27 L721.2,963.7 L722.2,964.13 L723.2,964.57 L724.2,965.01 L725.2,965.46 L726.2,965.91 L727.2,966.36 L728.2,966.81 L729.2,967.27 L730.2,967.73 L731.2,968.19 L732.2,968.66 L733.2,969.13 L734.2,969.6 L735.2,970.07 L736.2,970.54 L737.2,971.02 L738.2,971.5 L739.2,971.98 L740.2,972.47 L741.2,972.95 L742.2,973.44 L743.2,973.92 L744.2,974.41 L745.2,974.9 L746.2,975.4 L747.2,975.89 L748.2,976.38 L749.2,976.88 L750.2,977.37 L751.2,977.87 L752.2,978.37 L753.2,978.86 L754.2,979.36 L755.2,979.86 L756.2,980.36 L757.2,980.87 L758.2,981.37 L759.2,981.87 L760.2,982.38 L761.2,982.88 L762.2,983.39 L763.2,983.9 L764.2,984.41 L765.2,984.92 L766.2,985.44 L767.2,985.95 L768.2,986.47 L769.2,986.98 L770.2,987.5 L771.2,988.02 L772.2,988.55 L773.2,989.07 L774.2,989.59 L775.2,990.12 L776.2,990.65 L777.2,991.18 L778.2,991.72 L779.2,992.25 L780.2,992.79 L781.2,993.33 L782.2,993.87 L783.2,994.41 L784.2,994.95 L785.2,995.5 L786.2,996.05 L787.2,996.6 L788.2,997.16 L789.2,997.71 L790.2,998.27 L791.2,998.83 L792.2,999.4 L793.2,999.96 L794.2,1000.53 L795.2,1001.1 L796.2,1001.68 L797.2,1002.25 L798.2,1002.83 L799.2,1003.41 L800.2,1004 L801.2,1004.59 L802.2,1005.18 L803.2,1005.77 L804.2,1006.37 L805.2,1006.96 L806.2,1007.57 L807.2,1008.17 L808.2,1008.78 L809.2,1009.39 L810.2,1010.01 L811.2,1010.62 L812.2,1011.25 L813.2,1011.87 L814.2,1012.5 L815.2,1013.13 L816.2,1013.76 L817.2,1014.4 L818.2,1015.04 L819.2,1015.69 L820.2,1016.34 L821.2,1016.99 L822.2,1017.65 L823.2,1018.31 L824.2,1018.97 L825.2,1019.64 L826.2,1020.31 L827.2,1020.98 L828.2,1021.66 L829.2,1022.35 L830.2,1023.03 L831.2,1023.72 L832.2,1024.42 L833.2,1025.12 L834.2,1025.82 L835.2,1026.53 L836.2,1027.24 L837.2,1027.96 L838.2,1028.68 L839.2,1029.4 L840.2,1030.13 L841.2,1030.87 L842.2,1031.61 L843.2,1032.35 L844.2,1033.1 L845.2,1033.85 L846.2,1034.6 L847.2,1035.37 L848.2,1036.13 L849.2,1036.9 L850.2,1037.68 L851.2,1038.46 L852.2,1039.24 L853.2,1040.03 L854.2,1040.83 L855.2,1041.63 L856.2,1042.44 L857.2,1043.25 L858.2,1044.06 L859.2,1044.88 L860.2,1045.71 L861.2,1046.54 L862.2,1047.38 L863.2,1048.22 L864.2,1049.07 L865.2,1049.92 L866.2,1050.78 L867.2,1051.64 L868.2,1052.51 L869.2,1053.39 L870.2,1054.27 L871.2,1055.15 L872.2,1056.05 L873.2,1056.94 L874.2,1057.85 L875.2,1058.76 L876.2,1059.67 L877,1060.41" fill="none" stroke="#e4e2f2" stroke-width="2.4" stroke-dasharray="4.5 0.9"/>
<line x1="106.7" y1="1122.6" x2="115.5" y2="1122.6" stroke="#000" stroke-width="2.0"/>
<line x1="106.7" y1="1036.17" x2="115.5" y2="1036.17" stroke="#000" stroke-width="2.0"/>
<line x1="106.7" y1="949.73" x2="115.5" y2="949.73" stroke="#000" stroke-width="2.0"/>
<line x1="106.7" y1="863.3" x2="115.5" y2="863.3" stroke="#000" stroke-width="2.0"/>
<line x1="210.69" y1="1122.6" x2="210.69" y2="1127.4" stroke="#000" stroke-width="1.4"/>
<line x1="401.06" y1="1122.6" x2="401.06" y2="1127.4" stroke="#000" stroke-width="1.4"/>
<line x1="591.44" y1="1122.6" x2="591.44" y2="1127.4" stroke="#000" stroke-width="1.4"/>
<line x1="781.81" y1="1122.6" x2="781.81" y2="1127.4" stroke="#000" stroke-width="1.4"/>
<line x1="115.5" y1="1122.6" x2="115.5" y2="1131.4" stroke="#000" stroke-width="2.0"/>
<line x1="305.88" y1="1122.6" x2="305.88" y2="1131.4" stroke="#000" stroke-width="2.0"/>
<line x1="496.25" y1="1122.6" x2="496.25" y2="1131.4" stroke="#000" stroke-width="2.0"/>
<line x1="686.62" y1="1122.6" x2="686.62" y2="1131.4" stroke="#000" stroke-width="2.0"/>
<line x1="877" y1="1122.6" x2="877" y2="1131.4" stroke="#000" stroke-width="2.0"/>
<rect x="115.5" y="863.3" width="761.5" height="259.3" fill="none" stroke="#000" stroke-width="2.6"/>
<text x="101" y="1132.2" text-anchor="end" font-size="29.2" fill="#000">0.0</text>
<text x="101" y="1045.77" text-anchor="end" font-size="29.2" fill="#000">0.2</text>
<text x="101" y="959.33" text-anchor="end" font-size="29.2" fill="#000">0.4</text>
<text x="101" y="872.9" text-anchor="end" font-size="29.2" fill="#000">0.6</text>
<text x="123" y="891.7" text-anchor="start" font-size="29.2" fill="#fff">(d)</text>
<g transform="translate(43,1038.1) rotate(-90)" fill="#000">
<text x="-1" y="0" font-size="29.2" font-style="italic">ω</text>
<text x="26.5" y="0" font-size="29.2">[</text>
<text x="35.2" y="0" font-size="29.2">Ω</text>
<text x="57.7" y="-10.1" font-size="20.44">−1</text>
<text x="56.9" y="7.8" font-size="20.44" font-style="italic">p</text>
<text x="81.6" y="0" font-size="29.2">]</text>
</g>
<defs><linearGradient id="pbar" x1="0" y1="1" x2="0" y2="0"><stop offset="0.0000" stop-color="#0d0887"/><stop offset="0.0625" stop-color="#310597"/><stop offset="0.1250" stop-color="#4c02a1"/><stop offset="0.1875" stop-color="#6600a7"/><stop offset="0.2500" stop-color="#7e03a8"/><stop offset="0.3125" stop-color="#9511a1"/><stop offset="0.3750" stop-color="#aa2395"/><stop offset="0.4375" stop-color="#bc3587"/><stop offset="0.5000" stop-color="#cc4778"/><stop offset="0.5625" stop-color="#da5a6a"/><stop offset="0.6250" stop-color="#e66c5c"/><stop offset="0.6875" stop-color="#f0804e"/><stop offset="0.7500" stop-color="#f89540"/><stop offset="0.8125" stop-color="#fdac33"/><stop offset="0.8750" stop-color="#fdc527"/><stop offset="0.9375" stop-color="#f8df25"/><stop offset="1.0000" stop-color="#f0f921"/></linearGradient></defs>
<rect x="886.6" y="863.3" width="19.5" height="259.3" fill="url(#pbar)" stroke="#000" stroke-width="2.6"/>
<line x1="906.1" y1="1122.6" x2="914.9" y2="1122.6" stroke="#000" stroke-width="2.0"/>
<text x="920.5" y="1132.2" text-anchor="start" font-size="29.2" fill="#000">10<tspan font-size="20.44" dy="-17.11">0</tspan></text>
<line x1="906.1" y1="1057.77" x2="914.9" y2="1057.77" stroke="#000" stroke-width="2.0"/>
<text x="920.5" y="1067.37" text-anchor="start" font-size="29.2" fill="#000">10<tspan font-size="20.44" dy="-17.11">1</tspan></text>
<line x1="906.1" y1="992.95" x2="914.9" y2="992.95" stroke="#000" stroke-width="2.0"/>
<text x="920.5" y="1002.55" text-anchor="start" font-size="29.2" fill="#000">10<tspan font-size="20.44" dy="-17.11">2</tspan></text>
<line x1="906.1" y1="928.12" x2="914.9" y2="928.12" stroke="#000" stroke-width="2.0"/>
<text x="920.5" y="937.73" text-anchor="start" font-size="29.2" fill="#000">10<tspan font-size="20.44" dy="-17.11">3</tspan></text>
<line x1="906.1" y1="863.3" x2="914.9" y2="863.3" stroke="#000" stroke-width="2.0"/>
<text x="920.5" y="872.9" text-anchor="start" font-size="29.2" fill="#000">10<tspan font-size="20.44" dy="-17.11">4</tspan></text>
<g transform="translate(991.5,1065.6) rotate(-90)" fill="#000">
<text x="-1" y="0" font-size="29.2">B</text>
<text x="24.8" y="0" font-size="29.2">PSD</text>
<text x="83.1" y="0" font-size="29.2">(</text>
<text x="93.5" y="0" font-size="29.2" font-style="italic">ω</text>
<text x="113.3" y="0" font-size="29.2">,</text>
<text x="120.4" y="0" font-size="29.2" font-style="italic">k</text>
<text x="135.1" y="0" font-size="29.2">)</text>
</g>
<line x1="115.5" y1="1382.63" x2="877" y2="1382.63" stroke="#c2c2c2" stroke-width="1.4"/>
<line x1="115.5" y1="1334.88" x2="877" y2="1334.88" stroke="#c2c2c2" stroke-width="1.4"/>
<line x1="115.5" y1="1287.13" x2="877" y2="1287.13" stroke="#c2c2c2" stroke-width="1.4"/>
<line x1="115.5" y1="1239.38" x2="877" y2="1239.38" stroke="#c2c2c2" stroke-width="1.4"/>
<line x1="115.5" y1="1191.62" x2="877" y2="1191.62" stroke="#c2c2c2" stroke-width="1.4"/>
<line x1="305.88" y1="1148.5" x2="305.88" y2="1407.6" stroke="#c2c2c2" stroke-width="1.4"/>
<line x1="496.25" y1="1148.5" x2="496.25" y2="1407.6" stroke="#c2c2c2" stroke-width="1.4"/>
<line x1="686.62" y1="1148.5" x2="686.62" y2="1407.6" stroke="#c2c2c2" stroke-width="1.4"/>
<g clip-path="url(#clipE)" fill="none" stroke-linejoin="miter">
<path d="M114.97,1376.3 L122.45,1381 L129.93,1385.1 L137.4,1382.2 L144.88,1382.2 L152.35,1379.6 L159.83,1382.5 L167.31,1381.2 L174.78,1379.2 L182.26,1374.3 L189.73,1378.2 L197.21,1373.3 L204.69,1375.3 L212.16,1373.3 L219.64,1362.5 L227.11,1372.4 L234.59,1368.4 L242.07,1354.7 L249.54,1351.8 L257.02,1361.6 L264.49,1349.4 L271.97,1351.8 L279.45,1358 L286.92,1357.6 L294.4,1352.7 L301.87,1341.6 L309.35,1341.6 L316.83,1320.4 L324.3,1292.9 L331.78,1253.7 L339.25,1228.2 L346.73,1216.5 L354.21,1220.4 L361.68,1189 L369.16,1180.2 L376.63,1175.3 L384.11,1168.4 L391.59,1163.5 L399.06,1181.2 L406.54,1203.7 L414.01,1267.5 L421.49,1353.7 L428.97,1401.8 L436.44,1337.1 L443.92,1359.6 L451.39,1340 L458.87,1384.1 L466.35,1345.9 L473.82,1375.3 L481.3,1388 L488.77,1364.5 L496.25,1520 L503.73,1364.5 L511.2,1387.1 L518.68,1374.3 L526.15,1345.9 L533.63,1389 L541.11,1340 L548.58,1372.4 L556.06,1337.1 L563.53,1385.1 L571.01,1372.4 L578.49,1380.2 L585.96,1358.6 L593.44,1361.2 L600.91,1348.8 L608.39,1323.3 L615.87,1234.1 L623.34,1207.6 L630.82,1202.7 L638.29,1197.3 L645.77,1197.8 L653.25,1212.9 L660.72,1214.9 L668.2,1234.1 L675.67,1233.7 L683.15,1257.6 L690.63,1271.4 L698.1,1318.4 L705.58,1336.1 L713.05,1348.8 L720.53,1358.6 L728.01,1339.6 L735.48,1338 L742.96,1360.6 L750.43,1362.2 L757.91,1339 L765.39,1367.5 L772.86,1359.6 L780.34,1354.7 L787.81,1360.6 L795.29,1362.5 L802.77,1367.5 L810.24,1364.5 L817.72,1371 L825.19,1373.7 L832.67,1371 L840.15,1369 L847.62,1367.8 L855.1,1370 L862.57,1373.9 L870.05,1377.6 L877.53,1375.3" stroke="#000" stroke-width="3"/>
<path d="M338,1470 L338.5,1465.16 L339,1460.26 L339.5,1455.29 L340,1450.26 L340.5,1445.16 L341,1440 L341.5,1434.8 L342,1429.58 L342.5,1424.29 L343,1418.89 L343.5,1413.36 L344,1407.66 L344.5,1401.74 L345,1395.57 L345.5,1389.18 L346,1382.62 L346.5,1375.93 L347,1369.15 L347.5,1362.32 L348,1355.48 L348.5,1348.68 L349,1341.94 L349.5,1335.31 L350,1328.83 L350.5,1322.55 L351,1316.5 L351.5,1310.61 L352,1304.79 L352.5,1299.03 L353,1293.34 L353.5,1287.72 L354,1282.16 L354.5,1276.67 L355,1271.25 L355.5,1265.89 L356,1260.6 L356.5,1255.38 L357,1250.22 L357.5,1245.13 L358,1240.1 L358.5,1235.14 L359,1230.23 L359.5,1225.22 L360,1220.13 L360.5,1215.01 L361,1209.93 L361.5,1204.94 L362,1200.1 L362.5,1195.48 L363,1191.13 L363.5,1187.12 L364,1183.5 L364.5,1180.33 L365,1177.59 L365.5,1175.02 L366,1172.59 L366.5,1170.32 L367,1168.23 L367.5,1166.34 L368,1164.66 L368.5,1163.21 L369,1162 L369.5,1160.93 L370,1159.87 L370.5,1158.85 L371,1157.88 L371.5,1156.98 L372,1156.18 L372.5,1155.48 L373,1154.9 L373.5,1154.47 L374,1154.19 L374.5,1154.1 L375,1154.17 L375.5,1154.38 L376,1154.71 L376.5,1155.13 L377,1155.64 L377.5,1156.22 L378,1156.84 L378.5,1157.5 L379,1158.3 L379.5,1159.35 L380,1160.64 L380.5,1162.14 L381,1163.83 L381.5,1165.69 L382,1167.7 L382.5,1169.85 L383,1172.42 L383.5,1175.51 L384,1179.05 L384.5,1182.99 L385,1187.26 L385.5,1191.81 L386,1196.56 L386.5,1201.46 L387,1206.45 L387.5,1211.46 L388,1216.43 L388.5,1221.4 L389,1226.68 L389.5,1232.25 L390,1238.06 L390.5,1244.04 L391,1250.15 L391.5,1256.3 L392,1262.46 L392.5,1268.56 L393,1274.54 L393.5,1280.35 L394,1285.92 L394.5,1291.31 L395,1296.69 L395.5,1302.03 L396,1307.28 L396.5,1312.37 L397,1317.28 L397.5,1321.94 L398,1326.3 L398.5,1330.5 L399,1334.69 L399.5,1338.85 L400,1342.95 L400.5,1346.99 L401,1350.95 L401.5,1354.79 L402,1358.52 L402.5,1362.1 L403,1365.52 L403.5,1368.75 L404,1371.79 L404.5,1374.62 L405,1377.2 L405.5,1379.53 L406,1381.59 L406.5,1383.54 L407,1385.45 L407.5,1387.3 L408,1389.1 L408.5,1390.83 L409,1392.48 L409.5,1394.05 L410,1395.52 L410.5,1396.89 L411,1398.16 L411.5,1399.3 L412,1400.31 L412.5,1401.19 L413,1401.93 L413.5,1402.51 L414,1402.96 L414.5,1403.37 L415,1403.77 L415.5,1404.14 L416,1404.49 L416.5,1404.82 L417,1405.13 L417.5,1405.41 L418,1405.67 L418.5,1405.9 L419,1406.11 L419.5,1406.3 L420,1406.46 L420.5,1406.6 L421,1406.7 L421.5,1406.79 L422,1406.85 L422.5,1406.91 L423,1406.97 L423.5,1407.02 L424,1407.07 L424.5,1407.12 L425,1407.17 L425.5,1407.21 L426,1407.25 L426.5,1407.28 L427,1407.31 L427.5,1407.34 L428,1407.36 L428.5,1407.38 L429,1407.39 L429.5,1407.4 L430,1407.4 L590,1407.4 L590.5,1407.39 L591,1407.36 L591.5,1407.31 L592,1407.24 L592.5,1407.16 L593,1407.07 L593.5,1406.97 L594,1406.85 L594.5,1406.73 L595,1406.6 L595.5,1406.44 L596,1406.21 L596.5,1405.93 L597,1405.6 L597.5,1405.23 L598,1404.82 L598.5,1404.39 L599,1403.94 L599.5,1403.48 L600,1403.01 L600.5,1402.49 L601,1401.91 L601.5,1401.28 L602,1400.61 L602.5,1399.9 L603,1399.16 L603.5,1398.39 L604,1397.61 L604.5,1396.81 L605,1396 L605.5,1395.19 L606,1394.38 L606.5,1393.56 L607,1392.73 L607.5,1391.86 L608,1390.97 L608.5,1390.04 L609,1389.06 L609.5,1388.04 L610,1386.95 L610.5,1385.8 L611,1384.57 L611.5,1383.27 L612,1381.83 L612.5,1380.18 L613,1378.34 L613.5,1376.33 L614,1374.19 L614.5,1371.94 L615,1369.61 L615.5,1367.22 L616,1364.8 L616.5,1362.39 L617,1360 L617.5,1357.61 L618,1355.15 L618.5,1352.65 L619,1350.09 L619.5,1347.47 L620,1344.82 L620.5,1342.12 L621,1339.37 L621.5,1336.59 L622,1333.77 L622.5,1330.92 L623,1328.04 L623.5,1325.12 L624,1322.09 L624.5,1318.95 L625,1315.73 L625.5,1312.44 L626,1309.13 L626.5,1305.81 L627,1302.5 L627.5,1299.25 L628,1296.06 L628.5,1292.97 L629,1290 L629.5,1287.09 L630,1284.16 L630.5,1281.24 L631,1278.34 L631.5,1275.48 L632,1272.67 L632.5,1269.94 L633,1267.3 L633.5,1264.76 L634,1262.36 L634.5,1260.1 L635,1258 L635.5,1256.02 L636,1254.08 L636.5,1252.17 L637,1250.31 L637.5,1248.52 L638,1246.81 L638.5,1245.19 L639,1243.68 L639.5,1242.29 L640,1241.04 L640.5,1239.94 L641,1239 L641.5,1238.15 L642,1237.31 L642.5,1236.48 L643,1235.68 L643.5,1234.91 L644,1234.19 L644.5,1233.53 L645,1232.92 L645.5,1232.4 L646,1231.95 L646.5,1231.6 L647,1231.36 L647.5,1231.22 L648,1231.21 L648.5,1231.29 L649,1231.45 L649.5,1231.68 L650,1231.98 L650.5,1232.35 L651,1232.76 L651.5,1233.22 L652,1233.73 L652.5,1234.26 L653,1234.83 L653.5,1235.41 L654,1236 L654.5,1236.68 L655,1237.52 L655.5,1238.5 L656,1239.61 L656.5,1240.84 L657,1242.17 L657.5,1243.6 L658,1245.1 L658.5,1246.67 L659,1248.3 L659.5,1249.96 L660,1251.65 L660.5,1253.36 L661,1255.12 L661.5,1257.02 L662,1259.06 L662.5,1261.21 L663,1263.48 L663.5,1265.85 L664,1268.29 L664.5,1270.81 L665,1273.38 L665.5,1276 L666,1278.7 L666.5,1281.53 L667,1284.48 L667.5,1287.53 L668,1290.67 L668.5,1293.89 L669,1297.19 L669.5,1300.54 L670,1303.95 L670.5,1307.39 L671,1310.88 L671.5,1314.41 L672,1318.01 L672.5,1321.67 L673,1325.41 L673.5,1329.24 L674,1333.17 L674.5,1337.2 L675,1341.34 L675.5,1345.6 L676,1350 L676.5,1354.56 L677,1359.32 L677.5,1364.25 L678,1369.34 L678.5,1374.57 L679,1379.93 L679.5,1385.41 L680,1390.99 L680.5,1396.65 L681,1402.39 L681.5,1408.2 L682,1414.17 L682.5,1420.33 L683,1426.68 L683.5,1433.23 L684,1440 L684.5,1447.06 L685,1454.44 L685.5,1462.1 L686,1470" stroke="#d62728" stroke-width="2.8" stroke-linejoin="round"/>
</g>
<line x1="110.7" y1="1407.6" x2="115.5" y2="1407.6" stroke="#000" stroke-width="1.4"/>
<line x1="110.7" y1="1401.63" x2="115.5" y2="1401.63" stroke="#000" stroke-width="1.4"/>
<line x1="110.7" y1="1397.01" x2="115.5" y2="1397.01" stroke="#000" stroke-width="1.4"/>
<line x1="110.7" y1="1393.23" x2="115.5" y2="1393.23" stroke="#000" stroke-width="1.4"/>
<line x1="110.7" y1="1390.03" x2="115.5" y2="1390.03" stroke="#000" stroke-width="1.4"/>
<line x1="110.7" y1="1387.26" x2="115.5" y2="1387.26" stroke="#000" stroke-width="1.4"/>
<line x1="110.7" y1="1384.82" x2="115.5" y2="1384.82" stroke="#000" stroke-width="1.4"/>
<line x1="110.7" y1="1368.26" x2="115.5" y2="1368.26" stroke="#000" stroke-width="1.4"/>
<line x1="110.7" y1="1359.85" x2="115.5" y2="1359.85" stroke="#000" stroke-width="1.4"/>
<line x1="110.7" y1="1353.88" x2="115.5" y2="1353.88" stroke="#000" stroke-width="1.4"/>
<line x1="110.7" y1="1349.25" x2="115.5" y2="1349.25" stroke="#000" stroke-width="1.4"/>
<line x1="110.7" y1="1345.47" x2="115.5" y2="1345.47" stroke="#000" stroke-width="1.4"/>
<line x1="110.7" y1="1342.28" x2="115.5" y2="1342.28" stroke="#000" stroke-width="1.4"/>
<line x1="110.7" y1="1339.51" x2="115.5" y2="1339.51" stroke="#000" stroke-width="1.4"/>
<line x1="110.7" y1="1337.06" x2="115.5" y2="1337.06" stroke="#000" stroke-width="1.4"/>
<line x1="110.7" y1="1320.5" x2="115.5" y2="1320.5" stroke="#000" stroke-width="1.4"/>
<line x1="110.7" y1="1312.1" x2="115.5" y2="1312.1" stroke="#000" stroke-width="1.4"/>
<line x1="110.7" y1="1306.13" x2="115.5" y2="1306.13" stroke="#000" stroke-width="1.4"/>
<line x1="110.7" y1="1301.5" x2="115.5" y2="1301.5" stroke="#000" stroke-width="1.4"/>
<line x1="110.7" y1="1297.72" x2="115.5" y2="1297.72" stroke="#000" stroke-width="1.4"/>
<line x1="110.7" y1="1294.52" x2="115.5" y2="1294.52" stroke="#000" stroke-width="1.4"/>
<line x1="110.7" y1="1291.76" x2="115.5" y2="1291.76" stroke="#000" stroke-width="1.4"/>
<line x1="110.7" y1="1289.31" x2="115.5" y2="1289.31" stroke="#000" stroke-width="1.4"/>
<line x1="110.7" y1="1272.75" x2="115.5" y2="1272.75" stroke="#000" stroke-width="1.4"/>
<line x1="110.7" y1="1264.34" x2="115.5" y2="1264.34" stroke="#000" stroke-width="1.4"/>
<line x1="110.7" y1="1258.38" x2="115.5" y2="1258.38" stroke="#000" stroke-width="1.4"/>
<line x1="110.7" y1="1253.75" x2="115.5" y2="1253.75" stroke="#000" stroke-width="1.4"/>
<line x1="110.7" y1="1249.97" x2="115.5" y2="1249.97" stroke="#000" stroke-width="1.4"/>
<line x1="110.7" y1="1246.77" x2="115.5" y2="1246.77" stroke="#000" stroke-width="1.4"/>
<line x1="110.7" y1="1244" x2="115.5" y2="1244" stroke="#000" stroke-width="1.4"/>
<line x1="110.7" y1="1241.56" x2="115.5" y2="1241.56" stroke="#000" stroke-width="1.4"/>
<line x1="110.7" y1="1225" x2="115.5" y2="1225" stroke="#000" stroke-width="1.4"/>
<line x1="110.7" y1="1216.59" x2="115.5" y2="1216.59" stroke="#000" stroke-width="1.4"/>
<line x1="110.7" y1="1210.63" x2="115.5" y2="1210.63" stroke="#000" stroke-width="1.4"/>
<line x1="110.7" y1="1206" x2="115.5" y2="1206" stroke="#000" stroke-width="1.4"/>
<line x1="110.7" y1="1202.22" x2="115.5" y2="1202.22" stroke="#000" stroke-width="1.4"/>
<line x1="110.7" y1="1199.02" x2="115.5" y2="1199.02" stroke="#000" stroke-width="1.4"/>
<line x1="110.7" y1="1196.25" x2="115.5" y2="1196.25" stroke="#000" stroke-width="1.4"/>
<line x1="110.7" y1="1193.81" x2="115.5" y2="1193.81" stroke="#000" stroke-width="1.4"/>
<line x1="110.7" y1="1177.25" x2="115.5" y2="1177.25" stroke="#000" stroke-width="1.4"/>
<line x1="110.7" y1="1168.84" x2="115.5" y2="1168.84" stroke="#000" stroke-width="1.4"/>
<line x1="110.7" y1="1162.87" x2="115.5" y2="1162.87" stroke="#000" stroke-width="1.4"/>
<line x1="110.7" y1="1158.25" x2="115.5" y2="1158.25" stroke="#000" stroke-width="1.4"/>
<line x1="110.7" y1="1154.47" x2="115.5" y2="1154.47" stroke="#000" stroke-width="1.4"/>
<line x1="110.7" y1="1151.27" x2="115.5" y2="1151.27" stroke="#000" stroke-width="1.4"/>
<line x1="110.7" y1="1148.5" x2="115.5" y2="1148.5" stroke="#000" stroke-width="1.4"/>
<line x1="106.7" y1="1382.63" x2="115.5" y2="1382.63" stroke="#000" stroke-width="2.0"/>
<line x1="106.7" y1="1334.88" x2="115.5" y2="1334.88" stroke="#000" stroke-width="2.0"/>
<line x1="106.7" y1="1287.13" x2="115.5" y2="1287.13" stroke="#000" stroke-width="2.0"/>
<line x1="106.7" y1="1239.38" x2="115.5" y2="1239.38" stroke="#000" stroke-width="2.0"/>
<line x1="106.7" y1="1191.62" x2="115.5" y2="1191.62" stroke="#000" stroke-width="2.0"/>
<line x1="210.69" y1="1407.6" x2="210.69" y2="1412.4" stroke="#000" stroke-width="1.4"/>
<line x1="401.06" y1="1407.6" x2="401.06" y2="1412.4" stroke="#000" stroke-width="1.4"/>
<line x1="591.44" y1="1407.6" x2="591.44" y2="1412.4" stroke="#000" stroke-width="1.4"/>
<line x1="781.81" y1="1407.6" x2="781.81" y2="1412.4" stroke="#000" stroke-width="1.4"/>
<line x1="115.5" y1="1407.6" x2="115.5" y2="1416.4" stroke="#000" stroke-width="2.0"/>
<line x1="305.88" y1="1407.6" x2="305.88" y2="1416.4" stroke="#000" stroke-width="2.0"/>
<line x1="496.25" y1="1407.6" x2="496.25" y2="1416.4" stroke="#000" stroke-width="2.0"/>
<line x1="686.62" y1="1407.6" x2="686.62" y2="1416.4" stroke="#000" stroke-width="2.0"/>
<line x1="877" y1="1407.6" x2="877" y2="1416.4" stroke="#000" stroke-width="2.0"/>
<line x1="114.2" y1="1148.5" x2="877" y2="1148.5" stroke="#000" stroke-width="2.6"/>
<line x1="114.2" y1="1407.6" x2="877" y2="1407.6" stroke="#000" stroke-width="2.6"/>
<line x1="115.5" y1="1148.5" x2="115.5" y2="1407.6" stroke="#000" stroke-width="2.6"/>
<line x1="877" y1="1407.6" x2="885.8" y2="1407.6" stroke="#d62728" stroke-width="2.0"/>
<line x1="877" y1="1321.23" x2="885.8" y2="1321.23" stroke="#d62728" stroke-width="2.0"/>
<line x1="877" y1="1234.87" x2="885.8" y2="1234.87" stroke="#d62728" stroke-width="2.0"/>
<line x1="877" y1="1148.5" x2="885.8" y2="1148.5" stroke="#d62728" stroke-width="2.0"/>
<line x1="877" y1="1147.2" x2="877" y2="1408.9" stroke="#d62728" stroke-width="2.6"/>
<text x="99.5" y="1395.63" text-anchor="end" font-size="29.2" fill="#000">10<tspan font-size="20.44" dy="-17.11">−2</tspan></text>
<text x="99.5" y="1347.88" text-anchor="end" font-size="29.2" fill="#000">10<tspan font-size="20.44" dy="-17.11">−1</tspan></text>
<text x="99.5" y="1300.13" text-anchor="end" font-size="29.2" fill="#000">10<tspan font-size="20.44" dy="-17.11">0</tspan></text>
<text x="99.5" y="1252.38" text-anchor="end" font-size="29.2" fill="#000">10<tspan font-size="20.44" dy="-17.11">1</tspan></text>
<text x="99.5" y="1204.62" text-anchor="end" font-size="29.2" fill="#000">10<tspan font-size="20.44" dy="-17.11">2</tspan></text>
<text x="115.5" y="1440.9" text-anchor="middle" font-size="29.2" fill="#000">−2</text>
<text x="305.88" y="1440.9" text-anchor="middle" font-size="29.2" fill="#000">−1</text>
<text x="496.25" y="1440.9" text-anchor="middle" font-size="29.2" fill="#000">0</text>
<text x="686.62" y="1440.9" text-anchor="middle" font-size="29.2" fill="#000">1</text>
<text x="877" y="1440.9" text-anchor="middle" font-size="29.2" fill="#000">2</text>
<text x="890.5" y="1417.2" text-anchor="start" font-size="29.2" fill="#d62728">0.000</text>
<text x="890.5" y="1330.83" text-anchor="start" font-size="29.2" fill="#d62728">0.005</text>
<text x="890.5" y="1244.47" text-anchor="start" font-size="29.2" fill="#d62728">0.010</text>
<text x="890.5" y="1158.1" text-anchor="start" font-size="29.2" fill="#d62728">0.015</text>
<text x="123" y="1176.5" text-anchor="start" font-size="29.2" fill="#000">(e)</text>
<g transform="translate(31.6,1335.8) rotate(-90)" fill="#000">
<text x="-1" y="0" font-size="29.2">B</text>
<text x="25" y="0" font-size="29.2">PSD</text>
<text x="84.7" y="0" font-size="29.2">(</text>
<text x="93.9" y="0" font-size="29.2" font-style="italic">k</text>
<text x="106.1" y="0" font-size="29.2">)</text>
</g>
<g fill="#000">
<text x="455.2" y="1481.3" font-size="29.2" font-style="italic">k</text>
<text x="475.4" y="1481.3" font-size="29.2">[</text>
<text x="483.9" y="1481.3" font-size="29.2" font-style="italic">d</text>
<text x="502" y="1471.2" font-size="20.44">−1</text>
<text x="498.7" y="1486.5" font-size="20.44" font-style="italic">p</text>
<text x="526.7" y="1481.3" font-size="29.2">]</text>
</g>
<g transform="translate(989.4,1319) rotate(-90)" fill="#d62728">
<text x="-1" y="0" font-size="29.2" font-style="italic">γ</text>
<text x="18.2" y="0" font-size="29.2">[</text>
<text x="27.3" y="0" font-size="29.2">Ω</text>
<text x="49.4" y="-10.6" font-size="20.44">−1</text>
<text x="48.5" y="7.5" font-size="20.44" font-style="italic">p</text>
<text x="73.3" y="0" font-size="29.2">]</text>
</g>
</svg>
</body></html>
